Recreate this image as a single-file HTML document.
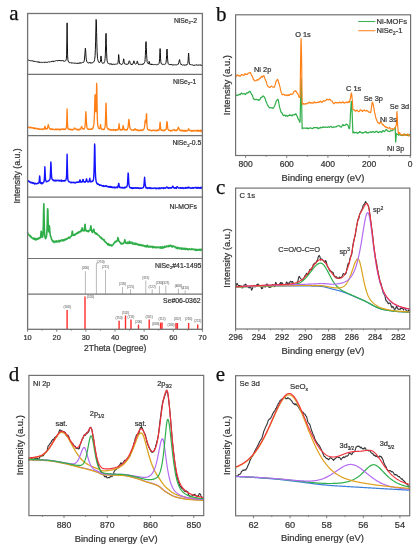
<!DOCTYPE html>
<html><head><meta charset="utf-8"><style>
html,body{margin:0;padding:0;background:#fff;}
svg{display:block;} text{filter:grayscale(1);}
</style></head><body>
<svg width="417" height="550" viewBox="0 0 417 550">
<rect x="0" y="0" width="417" height="550" fill="#fff"/>
<polyline points="27.6,59.99 27.85,60.14 28.1,60.06 28.35,59.97 28.6,60.14 28.85,60.07 29.1,60.4 29.35,60.78 29.6,60.38 29.85,60.41 30.1,60.75 30.35,60.78 30.6,60.77 30.85,60.57 31.1,60.85 31.35,61.09 31.6,60.63 31.85,60.91 32.1,60.6 32.35,60.8 32.6,60.72 32.85,61.17 33.1,60.96 33.35,61.39 33.6,61.41 33.85,61.37 34.1,60.83 34.35,61.37 34.6,61.54 34.85,61.62 35.1,61.25 35.35,61.56 35.6,61.47 35.85,61.55 36.1,62.05 36.35,61.62 36.6,61.85 36.85,62.12 37.1,61.78 37.35,61.93 37.6,62.02 37.85,62.04 38.1,61.74 38.35,62.1 38.6,62.44 38.85,61.74 39.1,62.37 39.35,62.21 39.6,62.04 39.85,62.72 40.1,62.43 40.35,61.96 40.6,62.29 40.85,62.43 41.1,62.26 41.35,62.49 41.6,62.31 41.85,62.51 42.1,62.71 42.35,62.19 42.6,62.42 42.85,62.26 43.1,62.41 43.35,62.09 43.6,62.24 43.85,62.34 44.1,62.61 44.35,62.67 44.6,62.05 44.85,62.18 45.1,62.53 45.35,61.86 45.6,62.23 45.85,62.3 46.1,62.63 46.35,62.47 46.6,62.19 46.85,62.16 47.1,62.17 47.35,62.59 47.6,62.07 47.85,62.08 48.1,62.21 48.35,62.06 48.6,62.02 48.85,61.75 49.1,62 49.35,61.86 49.6,62.22 49.85,62.06 50.1,61.86 50.35,61.99 50.6,61.7 50.85,62.01 51.1,61.71 51.35,61.82 51.6,61.31 51.85,61.69 52.1,61.14 52.35,61.01 52.6,61.41 52.85,61.22 53.1,61.45 53.35,61.93 53.6,61.12 53.85,61.13 54.1,61.3 54.35,61.34 54.6,61.14 54.85,61.09 55.1,61.28 55.35,61.2 55.6,60.78 55.85,60.99 56.1,60.99 56.35,60.68 56.6,60.98 56.85,60.67 57.1,61.1 57.35,60.88 57.6,60.83 57.85,60.64 58.1,60.73 58.35,60.24 58.6,60.44 58.85,60.8 59.1,60.16 59.35,60.89 59.6,60.23 59.85,60.85 60.1,60.44 60.35,60.84 60.6,60.67 60.85,60.25 61.1,60.96 61.35,61.02 61.6,60.67 61.85,60.64 62.1,60.7 62.35,60.53 62.6,61.08 62.85,60.71 63.1,60.87 63.35,60.72 63.6,60.79 63.85,60.65 64.1,61.3 64.35,60.97 64.6,61.26 64.85,61.02 65.1,60.83 65.35,60.87 65.6,60.69 65.85,60.58 66.1,59.97 66.35,58.81 66.6,54.71 66.85,40.98 67.1,22.88 67.35,41.21 67.6,55.18 67.85,59.54 68.1,61.16 68.35,61.13 68.6,61.86 68.85,62.03 69.1,61.94 69.35,62.71 69.6,62.62 69.85,62.72 70.1,62.57 70.35,62.92 70.6,62.7 70.85,62.83 71.1,62.62 71.35,62.62 71.6,63.28 71.85,62.83 72.1,63.05 72.35,62.99 72.6,62.9 72.85,62.9 73.1,63.19 73.35,62.97 73.6,63.02 73.85,63.07 74.1,63.37 74.35,63.26 74.6,63.19 74.85,62.96 75.1,62.76 75.35,63.35 75.6,63.36 75.85,63.09 76.1,63.27 76.35,63.33 76.6,63.35 76.85,63.37 77.1,63.03 77.35,63.53 77.6,62.84 77.85,63.36 78.1,63.27 78.35,63.37 78.6,63.62 78.85,63.52 79.1,62.86 79.35,62.72 79.6,63.34 79.85,62.87 80.1,63.12 80.35,63.32 80.6,62.69 80.85,62.56 81.1,63.13 81.35,63.05 81.6,62.96 81.85,62.99 82.1,62.73 82.35,62.52 82.6,62.79 82.85,62.5 83.1,62.22 83.35,62.61 83.6,62.25 83.85,62.02 84.1,61.09 84.35,60.09 84.6,58.06 84.85,54.97 85.1,51.23 85.35,48.19 85.6,49.8 85.85,53.72 86.1,57.72 86.35,59.25 86.6,61.2 86.85,61.7 87.1,62.14 87.35,62.03 87.6,62.45 87.85,62.88 88.1,62.76 88.35,62.87 88.6,62.83 88.85,63.23 89.1,62.97 89.35,62.44 89.6,62.84 89.85,62.53 90.1,62.21 90.35,62.89 90.6,63.34 90.85,63.01 91.1,62.68 91.35,62.72 91.6,63.2 91.85,62.91 92.1,62.83 92.35,62.74 92.6,62.67 92.85,62.75 93.1,62.55 93.35,62.29 93.6,61.74 93.85,61.82 94.1,61.1 94.35,60.94 94.6,59.43 94.85,58.14 95.1,55.3 95.35,49.75 95.6,41.87 95.85,30.01 96.1,19.51 96.35,21.2 96.6,32.24 96.85,42.84 97.1,51.48 97.35,56.07 97.6,58.65 97.85,59.77 98.1,60.81 98.35,61.39 98.6,62.13 98.85,62.19 99.1,62.29 99.35,62.8 99.6,62.32 99.85,62.3 100.1,61.67 100.35,61.69 100.6,59.55 100.85,56.47 101.1,55.96 101.35,58.88 101.6,61.27 101.85,62.25 102.1,62.7 102.35,62.97 102.6,63.43 102.85,63.23 103.1,63.08 103.35,62.91 103.6,62.81 103.85,63.23 104.1,62.74 104.35,62.29 104.6,61.65 104.85,60.47 105.1,58.64 105.35,54.32 105.6,45.5 105.85,34.82 106.1,33.31 106.35,43.51 106.6,52.44 106.85,58.07 107.1,60.4 107.35,62.01 107.6,62.24 107.85,62.99 108.1,63.51 108.35,63.26 108.6,63.34 108.85,63.65 109.1,63.7 109.35,63.53 109.6,63.95 109.85,64.39 110.1,63.87 110.35,63.92 110.6,63.74 110.85,64.11 111.1,63.74 111.35,63.8 111.6,64.41 111.85,63.88 112.1,64.4 112.35,64.52 112.6,64.22 112.85,64.3 113.1,64.66 113.35,64.13 113.6,64.04 113.85,63.86 114.1,64.21 114.35,64.58 114.6,64.45 114.85,63.97 115.1,63.99 115.35,64.08 115.6,64.27 115.85,64.14 116.1,64.23 116.35,64.23 116.6,64.04 116.85,64.06 117.1,64.04 117.35,63.85 117.6,63.78 117.85,63.68 118.1,62.18 118.35,59.17 118.6,54.54 118.85,55.78 119.1,59.42 119.35,62.03 119.6,63.57 119.85,63.91 120.1,63.89 120.35,63.61 120.6,64.01 120.85,63.98 121.1,64.33 121.35,64.75 121.6,64.23 121.85,63.96 122.1,63.82 122.35,64.02 122.6,63.84 122.85,63.26 123.1,62.74 123.35,60.6 123.6,58.8 123.85,59.18 124.1,61.63 124.35,62.85 124.6,63.81 124.85,63.93 125.1,64.01 125.35,64.1 125.6,63.92 125.85,63.91 126.1,64.49 126.35,64.25 126.6,64.36 126.85,64.54 127.1,63.84 127.35,64.05 127.6,64.24 127.85,64.21 128.1,63.87 128.35,63.93 128.6,63.21 128.85,62.03 129.1,61.03 129.35,60.72 129.6,60.99 129.85,61.45 130.1,63.21 130.35,63.66 130.6,64.21 130.85,63.97 131.1,64.1 131.35,63.95 131.6,64.89 131.85,64.23 132.1,64.66 132.35,64.06 132.6,64.19 132.85,63.58 133.1,63.54 133.35,63.12 133.6,61.3 133.85,60.76 134.1,61.14 134.35,62.17 134.6,63.27 134.85,63.77 135.1,64.09 135.35,64.06 135.6,64.02 135.85,64.14 136.1,63.9 136.35,63.67 136.6,63.58 136.85,63.01 137.1,61.26 137.35,61.19 137.6,61.96 137.85,62.95 138.1,64.05 138.35,64.02 138.6,64.66 138.85,64.17 139.1,64.51 139.35,64.38 139.6,64.27 139.85,64.62 140.1,64.44 140.35,64.63 140.6,64.46 140.85,64.2 141.1,64.43 141.35,64.46 141.6,64.67 141.85,64.18 142.1,64.37 142.35,63.91 142.6,64.46 142.85,63.97 143.1,63.71 143.35,64.05 143.6,64.22 143.85,63.39 144.1,63.25 144.35,62.99 144.6,62.32 144.85,61.67 145.1,59.31 145.35,55.41 145.6,49.45 145.85,42.22 146.1,41.62 146.35,47.58 146.6,54.22 146.85,58.44 147.1,61.72 147.35,62.35 147.6,63.11 147.85,63.4 148.1,63.66 148.35,63.72 148.6,64.05 148.85,62.65 149.1,61.33 149.35,61.76 149.6,62.99 149.85,64.19 150.1,64.46 150.35,64.14 150.6,64.1 150.85,64.41 151.1,64.88 151.35,63.85 151.6,64.71 151.85,64.33 152.1,64.88 152.35,64.36 152.6,64.57 152.85,64.27 153.1,64.41 153.35,65.01 153.6,64.87 153.85,64.57 154.1,64.46 154.35,64.21 154.6,64.58 154.85,64.67 155.1,64.66 155.35,64.65 155.6,64.39 155.85,64.65 156.1,64.65 156.35,64.97 156.6,65.1 156.85,64.58 157.1,64.4 157.35,64.54 157.6,64.36 157.85,64.27 158.1,64.36 158.35,63.99 158.6,64.22 158.85,63.75 159.1,63.29 159.35,61.91 159.6,58.68 159.85,52.83 160.1,48.55 160.35,52.92 160.6,58.92 160.85,61.95 161.1,62.88 161.35,63.78 161.6,63.72 161.85,64.08 162.1,64.27 162.35,63.9 162.6,64.5 162.85,64.54 163.1,64.49 163.35,64.43 163.6,64.44 163.85,64.27 164.1,64.42 164.35,64.31 164.6,64.42 164.85,64.01 165.1,64.25 165.35,64.04 165.6,63.68 165.85,63.08 166.1,62.24 166.35,59.31 166.6,55.41 166.85,49.78 167.1,49 167.35,54.28 167.6,58.88 167.85,61.72 168.1,63.23 168.35,63.79 168.6,64.07 168.85,63.85 169.1,64.5 169.35,64.77 169.6,64.8 169.85,64.67 170.1,64.26 170.35,64.93 170.6,64.68 170.85,64.11 171.1,64.86 171.35,64.41 171.6,64.47 171.85,64.65 172.1,65.14 172.35,64.73 172.6,64.9 172.85,65.28 173.1,65.24 173.35,64.82 173.6,64.79 173.85,64.54 174.1,64.68 174.35,64.96 174.6,64.95 174.85,64.88 175.1,65.1 175.35,64.65 175.6,64.82 175.85,65.01 176.1,64.96 176.35,65.07 176.6,64.88 176.85,64.67 177.1,64.8 177.35,64.41 177.6,64.18 177.85,64.62 178.1,64.27 178.35,64.02 178.6,62.94 178.85,62.39 179.1,61.18 179.35,60.07 179.6,59.6 179.85,61.01 180.1,62.5 180.35,63.32 180.6,63.71 180.85,64.24 181.1,64.65 181.35,63.9 181.6,64.64 181.85,64.87 182.1,64.94 182.35,65.23 182.6,65.11 182.85,64.93 183.1,64.94 183.35,65.07 183.6,64.75 183.85,64.88 184.1,65.12 184.35,65.39 184.6,64.86 184.85,64.88 185.1,64.94 185.35,65.22 185.6,64.86 185.85,65.22 186.1,64.58 186.35,64.74 186.6,64.69 186.85,64.86 187.1,64.81 187.35,63.99 187.6,63.79 187.85,63.31 188.1,60.94 188.35,56.22 188.6,53.03 188.85,56.73 189.1,61.24 189.35,63.12 189.6,64.3 189.85,64.33 190.1,64.85 190.35,64.47 190.6,64.56 190.85,64.88 191.1,64.7 191.35,65.07 191.6,64.99 191.85,64.72 192.1,64.98 192.35,64.89 192.6,65.21 192.85,64.84 193.1,64.89 193.35,65.31 193.6,65.57 193.85,65.52 194.1,65.04 194.35,65.08 194.6,65.42 194.85,65.01 195.1,64.8 195.35,65.07 195.6,65.16 195.85,64.84 196.1,64.64 196.35,64.69 196.6,65.22 196.85,64.87 197.1,65.02 197.35,65.11 197.6,65.22 197.85,64.98 198.1,65.19 198.35,64.84 198.6,64.98 198.85,64.81 199.1,65.35 199.35,65.07 199.6,64.89 199.85,64.99 200.1,65.02 200.35,65.25 200.6,64.68 200.85,64.82 201.1,64.99 201.35,65.71 201.6,65.32 201.85,65.06 202.1,65.26" fill="none" stroke="#111" stroke-width="1.0" stroke-linejoin="round" stroke-linecap="round" />
<polyline points="27.6,127.51 27.85,126.99 28.1,127.01 28.35,127.45 28.6,127.33 28.85,127.42 29.1,127.18 29.35,127.84 29.6,127.84 29.85,127.61 30.1,127.69 30.35,127.06 30.6,127.78 30.85,127.62 31.1,127.83 31.35,127.94 31.6,127.74 31.85,127.45 32.1,128.01 32.35,127.78 32.6,127.94 32.85,127.91 33.1,128.03 33.35,127.58 33.6,128.51 33.85,128.31 34.1,128.57 34.35,128.83 34.6,128.38 34.85,127.97 35.1,128.24 35.35,128.2 35.6,128.42 35.85,128.6 36.1,128.12 36.35,128.74 36.6,128.31 36.85,128.8 37.1,128.73 37.35,128.71 37.6,128.8 37.85,128.72 38.1,128.73 38.35,128.49 38.6,128.93 38.85,129.42 39.1,129.48 39.35,129.33 39.6,129.2 39.85,128.87 40.1,129.42 40.35,129.06 40.6,129.07 40.85,129.03 41.1,129.14 41.35,129.01 41.6,129.11 41.85,128.86 42.1,129.04 42.35,129.7 42.6,129.11 42.85,129.06 43.1,129.24 43.35,129.27 43.6,128.77 43.85,128.94 44.1,129.08 44.35,128.51 44.6,127.41 44.85,126.36 45.1,126.57 45.35,128.12 45.6,128.56 45.85,129.25 46.1,128.44 46.35,128.76 46.6,128.76 46.85,128.95 47.1,128.73 47.35,128.54 47.6,127.1 47.85,126.63 48.1,125.21 48.35,124.73 48.6,125.87 48.85,126.7 49.1,127.34 49.35,128.35 49.6,128.39 49.85,128.78 50.1,129.15 50.35,129.2 50.6,129.57 50.85,129.16 51.1,128.85 51.35,129.07 51.6,129.05 51.85,128.99 52.1,129.42 52.35,129.16 52.6,128.84 52.85,129.52 53.1,129.32 53.35,129.45 53.6,129.39 53.85,129.53 54.1,129.38 54.35,129.69 54.6,129.49 54.85,129.49 55.1,129.5 55.35,129.03 55.6,129.36 55.85,129.34 56.1,129.46 56.35,129.07 56.6,129.82 56.85,129.44 57.1,129.12 57.35,129 57.6,129.36 57.85,129.41 58.1,129.25 58.35,129.46 58.6,129.28 58.85,129.58 59.1,129.26 59.35,129.43 59.6,129.69 59.85,130.09 60.1,129.2 60.35,129.33 60.6,129.24 60.85,129.65 61.1,129.16 61.35,129.33 61.6,129.44 61.85,129.2 62.1,129.21 62.35,129.33 62.6,128.92 62.85,129.08 63.1,129.33 63.35,129.46 63.6,129.37 63.85,128.96 64.1,129.27 64.35,129.56 64.6,129.47 64.85,129.27 65.1,129.01 65.35,129.3 65.6,128.86 65.85,128.5 66.1,128.2 66.35,127.93 66.6,125.05 66.85,117.75 67.1,108.94 67.35,117.7 67.6,124.85 67.85,127.54 68.1,129.04 68.35,129 68.6,128.9 68.85,129.14 69.1,129.34 69.35,129.62 69.6,129.24 69.85,128.96 70.1,129.35 70.35,129.44 70.6,129.48 70.85,129.8 71.1,129.55 71.35,129.68 71.6,129.21 71.85,129.7 72.1,130 72.35,129.66 72.6,129.52 72.85,129.47 73.1,129.84 73.35,129.1 73.6,129.17 73.85,129.07 74.1,128.77 74.35,128.03 74.6,127.98 74.85,128.08 75.1,128.62 75.35,128.93 75.6,128.92 75.85,129.33 76.1,129.63 76.35,129.21 76.6,129.42 76.85,129.66 77.1,129.23 77.35,129.55 77.6,129.25 77.85,129.79 78.1,130.08 78.35,130.01 78.6,129.43 78.85,129.66 79.1,129.49 79.35,129.46 79.6,129.78 79.85,129.01 80.1,129.52 80.35,129.1 80.6,129.21 80.85,128.44 81.1,127.52 81.35,126.9 81.6,126.56 81.85,126.81 82.1,127.74 82.35,128.17 82.6,128.18 82.85,129.16 83.1,129.2 83.35,129.07 83.6,129.02 83.85,129.18 84.1,128.66 84.35,128.38 84.6,128.13 84.85,127.74 85.1,125.49 85.35,122.79 85.6,116.75 85.85,111.72 86.1,114.78 86.35,120.47 86.6,124.44 86.85,126.86 87.1,128.18 87.35,128.73 87.6,128.61 87.85,129 88.1,129.2 88.35,128.94 88.6,129.25 88.85,129.19 89.1,129.09 89.35,129.11 89.6,129.25 89.85,129.24 90.1,129.07 90.35,129.08 90.6,129.43 90.85,129.17 91.1,129.28 91.35,129.29 91.6,129.05 91.85,129.36 92.1,128.45 92.35,128.69 92.6,128.18 92.85,128.43 93.1,127.98 93.35,126.49 93.6,125.83 93.85,124.67 94.1,121.84 94.35,116.82 94.6,108.87 94.85,99.68 95.1,94.54 95.35,98.59 95.6,106.94 95.85,111.6 96.1,111.75 96.35,100.8 96.6,83.44 96.85,87.32 97.1,107.17 97.35,119.25 97.6,123.67 97.85,125.62 98.1,126.49 98.35,127.52 98.6,128.07 98.85,128.49 99.1,128.39 99.35,128.78 99.6,128.51 99.85,128.2 100.1,127.31 100.35,125.26 100.6,124.55 100.85,126.91 101.1,128.33 101.35,128.91 101.6,128.87 101.85,129.46 102.1,129.16 102.35,129.41 102.6,129.1 102.85,129.39 103.1,129.38 103.35,129.13 103.6,129.68 103.85,129.17 104.1,129.37 104.35,128.94 104.6,128.18 104.85,127.63 105.1,126.56 105.35,123.32 105.6,116.18 105.85,105.25 106.1,103.15 106.35,114.11 106.6,121.76 106.85,126.19 107.1,127.45 107.35,128.17 107.6,128.71 107.85,129.11 108.1,128.86 108.35,128.92 108.6,129.19 108.85,129.02 109.1,129.35 109.35,130.04 109.6,129.41 109.85,129.87 110.1,129.4 110.35,129.84 110.6,129.7 110.85,129.79 111.1,129.96 111.35,130.27 111.6,129.89 111.85,129.89 112.1,129.62 112.35,130.02 112.6,129.82 112.85,130.1 113.1,129.89 113.35,130.34 113.6,129.42 113.85,129.84 114.1,130.14 114.35,129.84 114.6,129.73 114.85,129.87 115.1,129.59 115.35,129.97 115.6,130.55 115.85,130.22 116.1,129.66 116.35,129.71 116.6,129.82 116.85,130.16 117.1,129.69 117.35,129.69 117.6,130.04 117.85,129.97 118.1,129.53 118.35,129.05 118.6,128.08 118.85,126.17 119.1,123.74 119.35,126.53 119.6,128.31 119.85,129.45 120.1,130.09 120.35,130.05 120.6,129.53 120.85,130.07 121.1,130.16 121.35,129.69 121.6,129.62 121.85,129.79 122.1,129.35 122.35,129.95 122.6,128.53 122.85,127.58 123.1,125.66 123.35,126.06 123.6,128.25 123.85,129.33 124.1,129.58 124.35,130.05 124.6,129.3 124.85,129.86 125.1,129.7 125.35,129.91 125.6,129.92 125.85,129.61 126.1,129.65 126.35,129.95 126.6,129.77 126.85,129.41 127.1,129.94 127.35,129.76 127.6,128.4 127.85,128.06 128.1,127.21 128.35,124.53 128.6,121.49 128.85,119.36 129.1,120.25 129.35,123.17 129.6,125.68 129.85,127.74 130.1,128.45 130.35,128.98 130.6,129.1 130.85,129.58 131.1,129.49 131.35,129.77 131.6,130.14 131.85,130.03 132.1,130.1 132.35,130.1 132.6,130.04 132.85,130.01 133.1,129.98 133.35,130.24 133.6,129.77 133.85,130.33 134.1,129.9 134.35,129.5 134.6,129.22 134.85,128.8 135.1,128.97 135.35,129.1 135.6,129.95 135.85,129.72 136.1,129.48 136.35,129.94 136.6,129.66 136.85,130.17 137.1,130.47 137.35,130.38 137.6,129.89 137.85,130.04 138.1,130.68 138.35,130.32 138.6,130.25 138.85,130.51 139.1,130.86 139.35,130.57 139.6,130.28 139.85,130.33 140.1,130.39 140.35,130.08 140.6,129.96 140.85,130.23 141.1,129.96 141.35,130.17 141.6,130.19 141.85,130.73 142.1,129.9 142.35,130.04 142.6,129.98 142.85,130.06 143.1,130.12 143.35,129.61 143.6,129.35 143.85,128.85 144.1,128.53 144.35,127.98 144.6,126.28 144.85,123.66 145.1,121.19 145.35,120.19 145.6,121.57 145.85,122.53 146.1,120.84 146.35,114.28 146.6,113.76 146.85,122.36 147.1,126.13 147.35,128.34 147.6,129.18 147.85,129.4 148.1,129.52 148.35,129.86 148.6,129.99 148.85,130.05 149.1,129.66 149.35,130.15 149.6,130.01 149.85,130.12 150.1,130.34 150.35,130.46 150.6,130.55 150.85,130.22 151.1,130.58 151.35,130.66 151.6,130.66 151.85,130.73 152.1,130.36 152.35,130.36 152.6,130.62 152.85,130.08 153.1,130.47 153.35,130.29 153.6,130.34 153.85,130 154.1,130.22 154.35,130.44 154.6,130.67 154.85,130.69 155.1,130.43 155.35,130.4 155.6,130.24 155.85,130.55 156.1,130.38 156.35,130.59 156.6,130.87 156.85,130.42 157.1,130.04 157.35,130.19 157.6,130.02 157.85,130.06 158.1,130.65 158.35,130.33 158.6,129.81 158.85,130.23 159.1,130.14 159.35,129.19 159.6,127.64 159.85,124.61 160.1,122.11 160.35,124.85 160.6,128.11 160.85,129.58 161.1,130.13 161.35,130.41 161.6,130.36 161.85,129.89 162.1,130.29 162.35,130.44 162.6,130.28 162.85,130.62 163.1,130.31 163.35,130.17 163.6,130.76 163.85,130.56 164.1,130.43 164.35,130.58 164.6,130.58 164.85,130.35 165.1,129.58 165.35,129.92 165.6,129.8 165.85,129.37 166.1,129.03 166.35,127.91 166.6,124.92 166.85,121.53 167.1,121.86 167.35,124.28 167.6,126.9 167.85,128.86 168.1,129.65 168.35,129.72 168.6,130.29 168.85,130.09 169.1,130.06 169.35,130.4 169.6,130.59 169.85,130.27 170.1,130.53 170.35,130.44 170.6,131.19 170.85,130.31 171.1,130.84 171.35,130.48 171.6,130.46 171.85,130.67 172.1,130.69 172.35,130.75 172.6,130.46 172.85,130.11 173.1,129.93 173.35,129.89 173.6,129.57 173.85,129.66 174.1,129.65 174.35,130.15 174.6,130.52 174.85,130.34 175.1,130.01 175.35,130.12 175.6,130.07 175.85,130.82 176.1,130.19 176.35,130.67 176.6,130.44 176.85,130.61 177.1,130.24 177.35,129.65 177.6,129.14 177.85,128.56 178.1,127.86 178.35,127.24 178.6,127.58 178.85,128.66 179.1,128.54 179.35,129.6 179.6,129.69 179.85,130.21 180.1,130.53 180.35,130.39 180.6,130.66 180.85,130.11 181.1,130.82 181.35,130.42 181.6,130.74 181.85,130.65 182.1,129.97 182.35,130.44 182.6,130.7 182.85,131.04 183.1,130.73 183.35,130.73 183.6,130.31 183.85,131.03 184.1,131.13 184.35,130.69 184.6,130.63 184.85,130.28 185.1,130.91 185.35,131.37 185.6,130.87 185.85,131.01 186.1,130.83 186.35,130.44 186.6,131.02 186.85,130.37 187.1,130.61 187.35,130.72 187.6,130.83 187.85,130.62 188.1,130.35 188.35,129.41 188.6,128.66 188.85,129.62 189.1,130.08 189.35,130.2 189.6,130.31 189.85,130.54 190.1,130.23 190.35,130.37 190.6,130.31 190.85,130.77 191.1,130.83 191.35,131.24 191.6,130.36 191.85,130.57 192.1,130.97 192.35,130.69 192.6,130.67 192.85,131.18 193.1,130.67 193.35,130.47 193.6,130.43 193.85,130.84 194.1,130.84 194.35,130.42 194.6,130.52 194.85,130.9 195.1,130.91 195.35,130.61 195.6,130.92 195.85,130.91 196.1,130.33 196.35,130.69 196.6,130.88 196.85,130.63 197.1,130.24 197.35,130.71 197.6,130.97 197.85,131.17 198.1,130.23 198.35,131.43 198.6,130.5 198.85,131.02 199.1,131.09 199.35,131.03 199.6,130.82 199.85,130.49 200.1,130.94 200.35,130.61 200.6,130.16 200.85,131.5 201.1,130.97 201.35,131.24 201.6,130.56 201.85,131.16 202.1,131.19" fill="none" stroke="#ff7f14" stroke-width="1.3" stroke-linejoin="round" stroke-linecap="round" />
<polyline points="27.6,181.27 27.85,181.01 28.1,180.84 28.35,181.22 28.6,180.84 28.85,181.08 29.1,181.65 29.35,181.5 29.6,181.82 29.85,181.94 30.1,182.56 30.35,182.51 30.6,182.27 30.85,182.68 31.1,182.28 31.35,182.49 31.6,182.89 31.85,182.44 32.1,182.76 32.35,182.58 32.6,183.02 32.85,183.47 33.1,182.94 33.35,183.25 33.6,183.03 33.85,183.02 34.1,183.05 34.35,183.77 34.6,184.04 34.85,183.61 35.1,183.35 35.35,183.73 35.6,183.49 35.85,183.8 36.1,183.68 36.35,183.68 36.6,183.77 36.85,183.46 37.1,183.49 37.35,183.14 37.6,183.44 37.85,183.16 38.1,183.42 38.35,183.14 38.6,183.27 38.85,183.11 39.1,182 39.35,180.09 39.6,175.98 39.85,177.18 40.1,181.27 40.35,182.68 40.6,182.86 40.85,183.49 41.1,182.83 41.35,183.62 41.6,183.09 41.85,182.55 42.1,183.89 42.35,183.58 42.6,182.86 42.85,183.07 43.1,182.85 43.35,182.75 43.6,182.1 43.85,181.9 44.1,181.41 44.35,179.28 44.6,174.18 44.85,166.8 45.1,171.14 45.35,177.07 45.6,180.24 45.85,180.62 46.1,181.11 46.35,181.87 46.6,181.33 46.85,181.67 47.1,181.46 47.35,181.14 47.6,181.21 47.85,181.06 48.1,180.95 48.35,181.12 48.6,180.95 48.85,180.46 49.1,180.17 49.35,180.19 49.6,179.72 49.85,179.38 50.1,178.48 50.35,174.91 50.6,168.44 50.85,161.89 51.1,165.07 51.35,172.24 51.6,176.41 51.85,178.34 52.1,179.08 52.35,179.76 52.6,179.7 52.85,179.91 53.1,179.76 53.35,180.56 53.6,180.33 53.85,180.7 54.1,180.49 54.35,180.69 54.6,180.28 54.85,180.55 55.1,181.06 55.35,180.1 55.6,180.72 55.85,180.86 56.1,180.56 56.35,180.65 56.6,180.8 56.85,180.32 57.1,180.6 57.35,180.29 57.6,180.35 57.85,180.38 58.1,180.51 58.35,180.59 58.6,180.68 58.85,180.22 59.1,181.1 59.35,180.9 59.6,180.8 59.85,180.53 60.1,180.61 60.35,180.79 60.6,180.76 60.85,180.24 61.1,180.87 61.35,181.44 61.6,180.23 61.85,180.96 62.1,180.81 62.35,180.7 62.6,181.08 62.85,180.44 63.1,180.79 63.35,181.12 63.6,180.69 63.85,180.63 64.1,180.76 64.35,180.6 64.6,181.08 64.85,180.41 65.1,180.8 65.35,180.16 65.6,180.51 65.85,180.06 66.1,178.95 66.35,178.54 66.6,174.87 66.85,164.98 67.1,154.27 67.35,164.95 67.6,175.16 67.85,179.35 68.1,180.22 68.35,181.19 68.6,181.25 68.85,181.2 69.1,181.61 69.35,182.1 69.6,182.16 69.85,182.03 70.1,182.14 70.35,182.19 70.6,182.14 70.85,182.85 71.1,182.41 71.35,182.16 71.6,182.36 71.85,182.69 72.1,182.67 72.35,182.48 72.6,182.34 72.85,182.52 73.1,182.09 73.35,182.18 73.6,182.72 73.85,182.39 74.1,182.61 74.35,182.82 74.6,182.67 74.85,182.5 75.1,183.04 75.35,182.65 75.6,182.38 75.85,182.65 76.1,182.56 76.35,182.22 76.6,182.45 76.85,182.38 77.1,181.9 77.35,182.35 77.6,182.3 77.85,182.24 78.1,181.91 78.35,182.21 78.6,182.25 78.85,182.22 79.1,181.8 79.35,182.02 79.6,180.88 79.85,179.84 80.1,179.98 80.35,180.75 80.6,181.56 80.85,182.22 81.1,181.92 81.35,181.97 81.6,182.09 81.85,182.26 82.1,181.34 82.35,181.48 82.6,180.81 82.85,179.56 83.1,179.38 83.35,180.61 83.6,181.62 83.85,181.56 84.1,181.9 84.35,182 84.6,181.71 84.85,181.91 85.1,182.26 85.35,181.86 85.6,181.5 85.85,181.36 86.1,180.32 86.35,179.01 86.6,178.85 86.85,180.04 87.1,181.15 87.35,181.81 87.6,181.51 87.85,181.72 88.1,181.42 88.35,181.45 88.6,181.48 88.85,182.05 89.1,181.18 89.35,180.48 89.6,179 89.85,178.24 90.1,179.93 90.35,180.93 90.6,181.81 90.85,181.49 91.1,181.86 91.35,181.6 91.6,181.69 91.85,181.16 92.1,181.45 92.35,181.37 92.6,181.18 92.85,180.46 93.1,180.82 93.35,179.8 93.6,178.42 93.85,175.42 94.1,168.82 94.35,157.19 94.6,144.01 94.85,146.15 95.1,160.25 95.35,171.2 95.6,177 95.85,179.74 96.1,181.06 96.35,182.08 96.6,182.96 96.85,182.82 97.1,183.81 97.35,183.92 97.6,183.83 97.85,184.35 98.1,183.97 98.35,184.08 98.6,184.34 98.85,184.7 99.1,184.84 99.35,184.91 99.6,185.16 99.85,184.69 100.1,185.42 100.35,185.02 100.6,185.27 100.85,185.4 101.1,185.28 101.35,185.28 101.6,185.43 101.85,185.74 102.1,185.94 102.35,185.99 102.6,185.65 102.85,185.75 103.1,185.77 103.35,186.15 103.6,185.57 103.85,186.43 104.1,186.04 104.35,185.99 104.6,186.29 104.85,186.45 105.1,186.22 105.35,186.24 105.6,185.74 105.85,185.71 106.1,185.71 106.35,185.73 106.6,186.48 106.85,186.42 107.1,186.56 107.35,186.4 107.6,186.62 107.85,186.94 108.1,186.47 108.35,187 108.6,186.96 108.85,186.98 109.1,186.39 109.35,186.95 109.6,187.17 109.85,186.85 110.1,187.09 110.35,186.5 110.6,187.29 110.85,186.98 111.1,187.39 111.35,186.73 111.6,187.39 111.85,187.18 112.1,187.46 112.35,187.05 112.6,187.15 112.85,187.88 113.1,187.13 113.35,187.18 113.6,187.3 113.85,187.13 114.1,187.69 114.35,187.84 114.6,187.24 114.85,187 115.1,187.73 115.35,187.72 115.6,187.65 115.85,187.74 116.1,187.24 116.35,187.41 116.6,187.1 116.85,187.07 117.1,187.64 117.35,187.18 117.6,187.82 117.85,187.06 118.1,186.3 118.35,185.25 118.6,183.43 118.85,183.47 119.1,185.14 119.35,186.77 119.6,187.51 119.85,187.24 120.1,187.28 120.35,187.79 120.6,187.62 120.85,187.34 121.1,187.54 121.35,187.47 121.6,187.75 121.85,187.72 122.1,187.99 122.35,187.89 122.6,187.33 122.85,187.83 123.1,187.95 123.35,187.85 123.6,187.99 123.85,187.59 124.1,187.49 124.35,187.95 124.6,187.44 124.85,187.15 125.1,187.92 125.35,187.45 125.6,187.51 125.85,187.18 126.1,187.11 126.35,187.03 126.6,187.03 126.85,186.91 127.1,185.68 127.35,185.23 127.6,182.14 127.85,177.56 128.1,173.01 128.35,173.58 128.6,178.53 128.85,183.61 129.1,185.2 129.35,186.53 129.6,187.03 129.85,187.62 130.1,187.34 130.35,187.84 130.6,187.5 130.85,188.04 131.1,187.62 131.35,187.77 131.6,188.37 131.85,188 132.1,187.98 132.35,188.53 132.6,188.08 132.85,187.8 133.1,188.21 133.35,187.74 133.6,188.33 133.85,188.36 134.1,187.92 134.35,187.92 134.6,188.13 134.85,188.09 135.1,187.85 135.35,188.24 135.6,187.6 135.85,188 136.1,188.01 136.35,188.05 136.6,188.2 136.85,187.82 137.1,188.27 137.35,188.08 137.6,187.97 137.85,187.79 138.1,187.83 138.35,188.22 138.6,187.89 138.85,188.14 139.1,188.39 139.35,188.38 139.6,188.5 139.85,188.03 140.1,187.83 140.35,188.35 140.6,188.16 140.85,188.35 141.1,188.06 141.35,188.33 141.6,188.22 141.85,188.16 142.1,188.07 142.35,187.99 142.6,187.87 142.85,187.76 143.1,187.79 143.35,187.15 143.6,187.19 143.85,185.59 144.1,183.55 144.35,179.7 144.6,177.32 144.85,180.23 145.1,183.22 145.35,185.29 145.6,186.58 145.85,187.2 146.1,188.09 146.35,187.76 146.6,188.05 146.85,187.64 147.1,188.03 147.35,188.15 147.6,188.47 147.85,187.87 148.1,188.21 148.35,188.15 148.6,187.84 148.85,188.1 149.1,188.05 149.35,187.54 149.6,188.28 149.85,188.27 150.1,188.03 150.35,187.81 150.6,188.51 150.85,188.21 151.1,188.4 151.35,188.51 151.6,188.02 151.85,188.36 152.1,188.1 152.35,188.14 152.6,188.14 152.85,188.16 153.1,188.44 153.35,188.2 153.6,188.13 153.85,188.1 154.1,188.25 154.35,187.94 154.6,188.04 154.85,188.16 155.1,188.03 155.35,188.14 155.6,188.02 155.85,188.67 156.1,188.5 156.35,188.28 156.6,188.16 156.85,188.72 157.1,188.25 157.35,188.15 157.6,188.24 157.85,188.24 158.1,188.52 158.35,188.16 158.6,188.69 158.85,187.95 159.1,188.34 159.35,187.91 159.6,188.62 159.85,188.08 160.1,188.15 160.35,188.39 160.6,188.47 160.85,187.88 161.1,188.07 161.35,187.81 161.6,188.19 161.85,188.13 162.1,188.06 162.35,187.98 162.6,188.05 162.85,187.96 163.1,188.27 163.35,188.52 163.6,187.65 163.85,188.1 164.1,188.02 164.35,188.24 164.6,187.87 164.85,188.06 165.1,187.82 165.35,188.23 165.6,188.04 165.85,187.91 166.1,187.92 166.35,187.56 166.6,186.94 166.85,187.19 167.1,187.08 167.35,187.22 167.6,187.81 167.85,188.09 168.1,187.64 168.35,187.79 168.6,188.41 168.85,188.39 169.1,187.86 169.35,187.76 169.6,187.89 169.85,187.93 170.1,187.65 170.35,188.04 170.6,187.7 170.85,187.69 171.1,188.18 171.35,187.72 171.6,187.76 171.85,187.72 172.1,187.41 172.35,186.65 172.6,186.33 172.85,186.17 173.1,187.26 173.35,187.44 173.6,187.32 173.85,187.78 174.1,188.06 174.35,188.05 174.6,188.42 174.85,188.32 175.1,187.84 175.35,187.95 175.6,187.64 175.85,187.99 176.1,187.91 176.35,188.42 176.6,187.54 176.85,186.63 177.1,186.64 177.35,186.89 177.6,186.92 177.85,187.36 178.1,187.69 178.35,187.98 178.6,187.91 178.85,187.76 179.1,188.19 179.35,187.87 179.6,187.89 179.85,187.68 180.1,187.83 180.35,188.19 180.6,187.62 180.85,188.01 181.1,188.21 181.35,187.93 181.6,188.09 181.85,187.75 182.1,188.35 182.35,188.3 182.6,188.08 182.85,187.58 183.1,187.75 183.35,188.26 183.6,188.44 183.85,188.08 184.1,188.32 184.35,187.85 184.6,187.95 184.85,187.99 185.1,188.1 185.35,187.6 185.6,188.22 185.85,188.31 186.1,187.68 186.35,187.62 186.6,188.04 186.85,187.78 187.1,187.33 187.35,188.1 187.6,187.89 187.85,187.65 188.1,188.14 188.35,187.45 188.6,187.1 188.85,187.43 189.1,187.34 189.35,187.55 189.6,187.92 189.85,187.73 190.1,187.77 190.35,188.31 190.6,188.11 190.85,188.1 191.1,188.03 191.35,188.02 191.6,188.26 191.85,187.89 192.1,188.36 192.35,187.65 192.6,187.82 192.85,187.54 193.1,187.79 193.35,188.01 193.6,188.23 193.85,187.7 194.1,187.87 194.35,187.77 194.6,187.67 194.85,187.55 195.1,187.86 195.35,187.41 195.6,187.87 195.85,187.84 196.1,187.66 196.35,187.57 196.6,187.47 196.85,188.28 197.1,187.47 197.35,188.19 197.6,187.95 197.85,187.7 198.1,187.5 198.35,188.05 198.6,188.21 198.85,187.54 199.1,187.69 199.35,188.03 199.6,187.84 199.85,188.25 200.1,187.6 200.35,187.88 200.6,187.42 200.85,188.25 201.1,187.54 201.35,187.17 201.6,187.68 201.85,187.67 202.1,188.18" fill="none" stroke="#1414ff" stroke-width="1.4" stroke-linejoin="round" stroke-linecap="round" />
<polyline points="27.6,232.75 27.85,233.21 28.1,233.77 28.35,234.45 28.6,234.2 28.85,234.91 29.1,235.03 29.35,235.05 29.6,235.47 29.85,235.73 30.1,235.68 30.35,236.69 30.6,236.03 30.85,237.17 31.1,237.32 31.35,237.18 31.6,237.15 31.85,237.54 32.1,237.98 32.35,238.25 32.6,238.26 32.85,238.66 33.1,238.26 33.35,238.67 33.6,238.16 33.85,239.08 34.1,238.96 34.35,238.84 34.6,239.46 34.85,239.35 35.1,238.16 35.35,239.19 35.6,238.67 35.85,239.55 36.1,240.03 36.35,238.95 36.6,239.11 36.85,238.93 37.1,239.07 37.35,239.1 37.6,239.24 37.85,238.36 38.1,239.16 38.35,238.19 38.6,238.52 38.85,238.73 39.1,238.48 39.35,237.8 39.6,237.77 39.85,237.72 40.1,237.69 40.35,237.8 40.6,236.18 40.85,234.7 41.1,231.24 41.35,231.84 41.6,235.18 41.85,237.18 42.1,237.23 42.35,237.26 42.6,236.66 42.85,235.84 43.1,231.27 43.35,224.42 43.6,210.15 43.85,203.75 44.1,216.01 44.35,227.63 44.6,234.04 44.85,236.3 45.1,237.72 45.35,237.51 45.6,238.7 45.85,238.19 46.1,237.62 46.35,236.73 46.6,235.4 46.85,232.67 47.1,227.59 47.35,218.64 47.6,208.72 47.85,209.42 48.1,219.67 48.35,227.09 48.6,231 48.85,231.89 49.1,229.12 49.35,225.92 49.6,227.45 49.85,231.4 50.1,233.64 50.35,235.69 50.6,235.96 50.85,236.95 51.1,237.41 51.35,238.35 51.6,239.5 51.85,239.43 52.1,240.15 52.35,240.52 52.6,241.53 52.85,241.15 53.1,241.23 53.35,241.16 53.6,241.17 53.85,241.84 54.1,242.58 54.35,241.33 54.6,242 54.85,241.75 55.1,241.26 55.35,241.53 55.6,241.53 55.85,241.34 56.1,242.23 56.35,240.86 56.6,241.63 56.85,241.58 57.1,241.23 57.35,241.45 57.6,241.66 57.85,241.37 58.1,241.42 58.35,241.47 58.6,240.48 58.85,241.66 59.1,241.9 59.35,241.4 59.6,241.37 59.85,240.47 60.1,240.88 60.35,240.59 60.6,240.62 60.85,241.11 61.1,240.43 61.35,240.6 61.6,239.92 61.85,240.46 62.1,240.48 62.35,240.13 62.6,240.05 62.85,240.88 63.1,239.72 63.35,239.69 63.6,239.69 63.85,240.31 64.1,240.53 64.35,239.82 64.6,239.36 64.85,239.36 65.1,239.79 65.35,239 65.6,239.72 65.85,239.61 66.1,239.03 66.35,239.12 66.6,239.05 66.85,239.22 67.1,238.2 67.35,238.87 67.6,238.21 67.85,237.96 68.1,238.15 68.35,237.92 68.6,237.53 68.85,237.2 69.1,237.31 69.35,238.02 69.6,238.07 69.85,237.49 70.1,237.54 70.35,236.81 70.6,236.81 70.85,236.77 71.1,236.1 71.35,235.88 71.6,235.81 71.85,234.58 72.1,232.04 72.35,231.19 72.6,233.09 72.85,235.09 73.1,235.23 73.35,235.21 73.6,235.32 73.85,235.13 74.1,234.84 74.35,234.8 74.6,235.06 74.85,234.87 75.1,234.94 75.35,233.74 75.6,234.03 75.85,233.86 76.1,233.91 76.35,233.53 76.6,233.34 76.85,233.64 77.1,233.28 77.35,232.65 77.6,233.38 77.85,233.13 78.1,232.44 78.35,232.81 78.6,232.14 78.85,232.68 79.1,232.1 79.35,231.8 79.6,231.86 79.85,231.65 80.1,231.91 80.35,231.82 80.6,231.68 80.85,231.36 81.1,230.12 81.35,231.15 81.6,229.85 81.85,229.35 82.1,228.06 82.35,227.95 82.6,229.26 82.85,230.32 83.1,230.72 83.35,230.68 83.6,230.65 83.85,230.43 84.1,230.95 84.35,229.94 84.6,228.59 84.85,224.84 85.1,224.31 85.35,227.58 85.6,229.8 85.85,230.63 86.1,230.67 86.35,230.47 86.6,230.49 86.85,231.38 87.1,230.73 87.35,230.73 87.6,231.35 87.85,231.22 88.1,231.03 88.35,230.7 88.6,231.66 88.85,230.97 89.1,231.01 89.35,230.73 89.6,230.23 89.85,230.1 90.1,230.27 90.35,229.16 90.6,227.01 90.85,225.82 91.1,227.57 91.35,229.73 91.6,230.25 91.85,231.49 92.1,231.8 92.35,232.53 92.6,231.95 92.85,231.48 93.1,231.3 93.35,229.91 93.6,229.66 93.85,229.15 94.1,231.08 94.35,232.13 94.6,232.64 94.85,232.77 95.1,233.12 95.35,233.55 95.6,232.82 95.85,233.17 96.1,232.98 96.35,234.19 96.6,234.25 96.85,234.25 97.1,233.77 97.35,234.47 97.6,234.55 97.85,234.9 98.1,235.03 98.35,235.49 98.6,235.29 98.85,235.71 99.1,235.7 99.35,236.02 99.6,236.47 99.85,236.64 100.1,237.3 100.35,237.14 100.6,237.56 100.85,237.55 101.1,237.39 101.35,238.46 101.6,238.01 101.85,238.85 102.1,238.99 102.35,238.5 102.6,238.99 102.85,239.36 103.1,239.47 103.35,239.49 103.6,240.12 103.85,239.46 104.1,239.82 104.35,240.36 104.6,241.21 104.85,241.2 105.1,241.74 105.35,242.21 105.6,242.27 105.85,242.33 106.1,242.33 106.35,242.99 106.6,243.27 106.85,243.26 107.1,243.28 107.35,243.93 107.6,244.79 107.85,243.99 108.1,244.38 108.35,244.55 108.6,243.67 108.85,244.74 109.1,244.58 109.35,245.42 109.6,244.95 109.85,244.86 110.1,245.13 110.35,245.32 110.6,245.12 110.85,245.33 111.1,244.89 111.35,245.29 111.6,245.6 111.85,245.91 112.1,245.33 112.35,244.99 112.6,245.09 112.85,244.79 113.1,244.75 113.35,244.28 113.6,243.58 113.85,243.45 114.1,243.16 114.35,242.97 114.6,242.72 114.85,242.21 115.1,241.6 115.35,241.97 115.6,241.35 115.85,241.93 116.1,241.75 116.35,240.99 116.6,241.6 116.85,241.36 117.1,240.62 117.35,240.45 117.6,239.52 117.85,237.48 118.1,238.15 118.35,238.84 118.6,239.93 118.85,240.99 119.1,241.04 119.35,241.54 119.6,241.83 119.85,242.17 120.1,242.7 120.35,242.5 120.6,242.89 120.85,243.68 121.1,243.63 121.35,243.92 121.6,243.21 121.85,243.62 122.1,243.67 122.35,243.81 122.6,243.5 122.85,243.91 123.1,243.42 123.35,243.28 123.6,243.09 123.85,243.09 124.1,242.26 124.35,241.98 124.6,240.4 124.85,239.67 125.1,240.8 125.35,242.08 125.6,242.81 125.85,243.01 126.1,242.91 126.35,243.14 126.6,242.9 126.85,243.32 127.1,242.89 127.35,242.18 127.6,243.38 127.85,242.94 128.1,242.48 128.35,242.8 128.6,242.51 128.85,243.42 129.1,242.56 129.35,241.37 129.6,242.03 129.85,242.16 130.1,243.32 130.35,242.45 130.6,242.1 130.85,242.95 131.1,242.83 131.35,242.84 131.6,242.26 131.85,243.2 132.1,243.67 132.35,242.45 132.6,243.58 132.85,243.01 133.1,244.08 133.35,243.47 133.6,243.31 133.85,243.82 134.1,243.67 134.35,243.35 134.6,243.87 134.85,243.51 135.1,243.13 135.35,244.53 135.6,243.77 135.85,243.75 136.1,244.15 136.35,243.56 136.6,243.7 136.85,244.07 137.1,244.14 137.35,244.41 137.6,244.85 137.85,244.36 138.1,244.76 138.35,244.86 138.6,244.33 138.85,244.85 139.1,244.49 139.35,245.25 139.6,245.08 139.85,244.97 140.1,244.54 140.35,245.09 140.6,244.82 140.85,245.38 141.1,245.13 141.35,244.93 141.6,245.58 141.85,245.55 142.1,245.14 142.35,245.79 142.6,245.32 142.85,245.36 143.1,245.56 143.35,245.29 143.6,245.45 143.85,245.59 144.1,246.22 144.35,246.25 144.6,245.68 144.85,246.38 145.1,245.84 145.35,246.03 145.6,246.25 145.85,246.09 146.1,246.87 146.35,246.16 146.6,245.69 146.85,246.61 147.1,246.05 147.35,246.13 147.6,245.23 147.85,246.67 148.1,246.64 148.35,246.68 148.6,246.78 148.85,247.07 149.1,246.5 149.35,246.88 149.6,246.33 149.85,246.51 150.1,247.04 150.35,246.84 150.6,246.27 150.85,246.9 151.1,246.74 151.35,246.56 151.6,247.03 151.85,246.77 152.1,246.39 152.35,246.58 152.6,247.62 152.85,246.5 153.1,247.14 153.35,247.3 153.6,247.34 153.85,246.72 154.1,247.06 154.35,247.25 154.6,247.5 154.85,247.02 155.1,246.86 155.35,247.64 155.6,247.7 155.85,247.46 156.1,247.14 156.35,247.51 156.6,247.42 156.85,247.69 157.1,246.98 157.35,247.47 157.6,247.38 157.85,247.06 158.1,247.54 158.35,247.48 158.6,247.33 158.85,247.62 159.1,246.99 159.35,247.47 159.6,247.65 159.85,247.6 160.1,247.87 160.35,247.07 160.6,246.95 160.85,247.55 161.1,247.6 161.35,248.16 161.6,247.61 161.85,247.05 162.1,247.6 162.35,246.98 162.6,246.71 162.85,248.1 163.1,247.25 163.35,247.33 163.6,247.23 163.85,247.61 164.1,247.01 164.35,247.28 164.6,246.44 164.85,246.25 165.1,247.17 165.35,247.13 165.6,246.73 165.85,246.57 166.1,246.49 166.35,246.13 166.6,246.85 166.85,246.49 167.1,246.38 167.35,246.28 167.6,246.47 167.85,246.23 168.1,246.27 168.35,245.56 168.6,246.11 168.85,246.67 169.1,245.69 169.35,245.8 169.6,246.14 169.85,246.15 170.1,246.02 170.35,245.23 170.6,245.98 170.85,245.4 171.1,245.55 171.35,246.07 171.6,245.82 171.85,246.26 172.1,247.14 172.35,246.38 172.6,246.44 172.85,245.96 173.1,246.14 173.35,246.08 173.6,246.36 173.85,246.27 174.1,246.52 174.35,246.78 174.6,246.61 174.85,246.57 175.1,246.69 175.35,247.43 175.6,247.4 175.85,247.84 176.1,247.94 176.35,247.55 176.6,247.99 176.85,247.34 177.1,248.72 177.35,248.41 177.6,247.98 177.85,247.7 178.1,248.29 178.35,247.54 178.6,247.95 178.85,248.52 179.1,248.31 179.35,248.14 179.6,248.68 179.85,248.01 180.1,248.5 180.35,248.26 180.6,248.16 180.85,248.65 181.1,248.17 181.35,249.21 181.6,248.37 181.85,249.29 182.1,248.24 182.35,248.86 182.6,248.26 182.85,248.24 183.1,248.79 183.35,248.99 183.6,248.34 183.85,249.22 184.1,248.55 184.35,248.9 184.6,249.02 184.85,249.11 185.1,248.3 185.35,249.52 185.6,249.17 185.85,248.85 186.1,248.66 186.35,248.45 186.6,248.59 186.85,249.28 187.1,248.99 187.35,248.74 187.6,248.97 187.85,249.72 188.1,249.08 188.35,249.01 188.6,249.71 188.85,249.42 189.1,249.29 189.35,249.08 189.6,248.77 189.85,248.92 190.1,249.18 190.35,249.29 190.6,249.51 190.85,249.59 191.1,249.49 191.35,249.51 191.6,249.1 191.85,248.71 192.1,249.3 192.35,249.16 192.6,249.28 192.85,249.43 193.1,249.1 193.35,249.16 193.6,249.53 193.85,249.62 194.1,249.36 194.35,249.78 194.6,249.54 194.85,249.27 195.1,249.65 195.35,250.31 195.6,249.42 195.85,250.08 196.1,250.16 196.35,250.21 196.6,249.41 196.85,250.41 197.1,249.75 197.35,249.63 197.6,249.65 197.85,249.95 198.1,249.76 198.35,249.69 198.6,250.2 198.85,249.51 199.1,249.4 199.35,250.05 199.6,250.02 199.85,250.16 200.1,249.41 200.35,250.17 200.6,249.96 200.85,250.41 201.1,249.36 201.35,249.87 201.6,249.7 201.85,249.24 202.1,249.55" fill="none" stroke="#2fae4a" stroke-width="1.6" stroke-linejoin="round" stroke-linecap="round" />
<line x1="85.4" y1="271.2" x2="85.4" y2="294.2" stroke="#a8a8a8" stroke-width="0.8"/>
<text x="85.4" y="269.2" font-family="&quot;Liberation Sans&quot;, sans-serif" font-size="3.1" fill="#7a7a7a" stroke="#7a7a7a" stroke-width="0.1" text-anchor="middle" >(200)</text>
<line x1="96.4" y1="262.6" x2="96.4" y2="294.2" stroke="#a8a8a8" stroke-width="0.8"/>
<text x="97.2" y="262.6" font-family="&quot;Liberation Sans&quot;, sans-serif" font-size="3.1" fill="#7a7a7a" stroke="#7a7a7a" stroke-width="0.1" text-anchor="start" >(210)</text>
<line x1="105.5" y1="270.1" x2="105.5" y2="294.2" stroke="#a8a8a8" stroke-width="0.8"/>
<text x="105.5" y="268.3" font-family="&quot;Liberation Sans&quot;, sans-serif" font-size="3.1" fill="#7a7a7a" stroke="#7a7a7a" stroke-width="0.1" text-anchor="middle" >(211)</text>
<line x1="122.5" y1="286.9" x2="122.5" y2="294.2" stroke="#a8a8a8" stroke-width="0.8"/>
<text x="122.5" y="285" font-family="&quot;Liberation Sans&quot;, sans-serif" font-size="3.1" fill="#7a7a7a" stroke="#7a7a7a" stroke-width="0.1" text-anchor="middle" >(220)</text>
<line x1="130.5" y1="289.2" x2="130.5" y2="294.2" stroke="#a8a8a8" stroke-width="0.8"/>
<text x="130.5" y="288.4" font-family="&quot;Liberation Sans&quot;, sans-serif" font-size="3.1" fill="#7a7a7a" stroke="#7a7a7a" stroke-width="0.1" text-anchor="middle" >(221)</text>
<line x1="145.8" y1="280.5" x2="145.8" y2="294.2" stroke="#a8a8a8" stroke-width="0.8"/>
<text x="145.8" y="278.6" font-family="&quot;Liberation Sans&quot;, sans-serif" font-size="3.1" fill="#7a7a7a" stroke="#7a7a7a" stroke-width="0.1" text-anchor="middle" >(311)</text>
<line x1="152.2" y1="289.2" x2="152.2" y2="294.2" stroke="#a8a8a8" stroke-width="0.8"/>
<text x="152.2" y="288.2" font-family="&quot;Liberation Sans&quot;, sans-serif" font-size="3.1" fill="#7a7a7a" stroke="#7a7a7a" stroke-width="0.1" text-anchor="middle" >(222)</text>
<line x1="159.4" y1="285.8" x2="159.4" y2="294.2" stroke="#a8a8a8" stroke-width="0.8"/>
<text x="159.4" y="284.3" font-family="&quot;Liberation Sans&quot;, sans-serif" font-size="3.1" fill="#7a7a7a" stroke="#7a7a7a" stroke-width="0.1" text-anchor="middle" >(230)</text>
<line x1="165.8" y1="285.3" x2="165.8" y2="294.2" stroke="#a8a8a8" stroke-width="0.8"/>
<text x="165.8" y="283.8" font-family="&quot;Liberation Sans&quot;, sans-serif" font-size="3.1" fill="#7a7a7a" stroke="#7a7a7a" stroke-width="0.1" text-anchor="middle" >(321)</text>
<line x1="178.4" y1="288.7" x2="178.4" y2="294.2" stroke="#a8a8a8" stroke-width="0.8"/>
<text x="178.4" y="287.4" font-family="&quot;Liberation Sans&quot;, sans-serif" font-size="3.1" fill="#7a7a7a" stroke="#7a7a7a" stroke-width="0.1" text-anchor="middle" >(400)</text>
<line x1="185.2" y1="290.3" x2="185.2" y2="294.2" stroke="#a8a8a8" stroke-width="0.8"/>
<text x="185.2" y="289.2" font-family="&quot;Liberation Sans&quot;, sans-serif" font-size="3.1" fill="#7a7a7a" stroke="#7a7a7a" stroke-width="0.1" text-anchor="middle" >(410)</text>
<line x1="67.1" y1="309.9" x2="67.1" y2="329.3" stroke="#ff2a2a" stroke-width="1.4"/>
<text x="67.1" y="308.1" font-family="&quot;Liberation Sans&quot;, sans-serif" font-size="3.1" fill="#7a7a7a" stroke="#7a7a7a" stroke-width="0.1" text-anchor="middle" >(100)</text>
<line x1="85" y1="296.5" x2="85" y2="329.3" stroke="#ff2a2a" stroke-width="1.4"/>
<line x1="119.1" y1="320.8" x2="119.1" y2="329.3" stroke="#ff2a2a" stroke-width="1.4"/>
<text x="119.1" y="319.3" font-family="&quot;Liberation Sans&quot;, sans-serif" font-size="3.1" fill="#7a7a7a" stroke="#7a7a7a" stroke-width="0.1" text-anchor="middle" >(110)</text>
<line x1="125.5" y1="315.5" x2="125.5" y2="329.3" stroke="#ff2a2a" stroke-width="1.4"/>
<text x="125.5" y="313.6" font-family="&quot;Liberation Sans&quot;, sans-serif" font-size="3.1" fill="#7a7a7a" stroke="#7a7a7a" stroke-width="0.1" text-anchor="middle" >(102)</text>
<line x1="131" y1="319.6" x2="131" y2="329.3" stroke="#ff2a2a" stroke-width="1.4"/>
<text x="131" y="318.1" font-family="&quot;Liberation Sans&quot;, sans-serif" font-size="3.1" fill="#7a7a7a" stroke="#7a7a7a" stroke-width="0.1" text-anchor="middle" >(111)</text>
<line x1="138.5" y1="324.6" x2="138.5" y2="329.3" stroke="#ff2a2a" stroke-width="1.4"/>
<text x="138.5" y="322.7" font-family="&quot;Liberation Sans&quot;, sans-serif" font-size="3.1" fill="#7a7a7a" stroke="#7a7a7a" stroke-width="0.1" text-anchor="middle" >(200)</text>
<line x1="149.2" y1="319.6" x2="149.2" y2="329.3" stroke="#ff2a2a" stroke-width="1.4"/>
<text x="149.2" y="318.1" font-family="&quot;Liberation Sans&quot;, sans-serif" font-size="3.1" fill="#7a7a7a" stroke="#7a7a7a" stroke-width="0.1" text-anchor="middle" >(201)</text>
<line x1="160.6" y1="322.6" x2="160.6" y2="329.3" stroke="#ff2a2a" stroke-width="1.4"/>
<line x1="162" y1="322.6" x2="162" y2="329.3" stroke="#ff2a2a" stroke-width="1.4"/>
<text x="162" y="320.4" font-family="&quot;Liberation Sans&quot;, sans-serif" font-size="3.1" fill="#7a7a7a" stroke="#7a7a7a" stroke-width="0.1" text-anchor="middle" >(112)</text>
<line x1="176" y1="323" x2="176" y2="329.3" stroke="#ff2a2a" stroke-width="1.4"/>
<line x1="177.4" y1="323" x2="177.4" y2="329.3" stroke="#ff2a2a" stroke-width="1.4"/>
<text x="177.4" y="320.4" font-family="&quot;Liberation Sans&quot;, sans-serif" font-size="3.1" fill="#7a7a7a" stroke="#7a7a7a" stroke-width="0.1" text-anchor="middle" >(202)</text>
<line x1="188.6" y1="323" x2="188.6" y2="329.3" stroke="#ff2a2a" stroke-width="1.4"/>
<text x="188.6" y="320.4" font-family="&quot;Liberation Sans&quot;, sans-serif" font-size="3.1" fill="#7a7a7a" stroke="#7a7a7a" stroke-width="0.1" text-anchor="middle" >(210)</text>
<line x1="197.7" y1="324.6" x2="197.7" y2="329.3" stroke="#ff2a2a" stroke-width="1.4"/>
<text x="197.7" y="322.2" font-family="&quot;Liberation Sans&quot;, sans-serif" font-size="3.1" fill="#7a7a7a" stroke="#7a7a7a" stroke-width="0.1" text-anchor="middle" >(211)</text>
<text x="90.5" y="297.6" font-family="&quot;Liberation Sans&quot;, sans-serif" font-size="3.1" fill="#7a7a7a" stroke="#7a7a7a" stroke-width="0.1" text-anchor="middle" >(101)</text>
<text x="155.8" y="325.2" font-family="&quot;Liberation Sans&quot;, sans-serif" font-size="3.1" fill="#7a7a7a" stroke="#7a7a7a" stroke-width="0.1" text-anchor="middle" >(003)</text>
<text x="171" y="325.6" font-family="&quot;Liberation Sans&quot;, sans-serif" font-size="3.1" fill="#7a7a7a" stroke="#7a7a7a" stroke-width="0.1" text-anchor="middle" >(103)</text>
<line x1="27.6" y1="74.4" x2="202.4" y2="74.4" stroke="#727272" stroke-width="1.2"/>
<line x1="27.6" y1="135.6" x2="202.4" y2="135.6" stroke="#727272" stroke-width="1.2"/>
<line x1="27.6" y1="197.2" x2="202.4" y2="197.2" stroke="#727272" stroke-width="1.2"/>
<line x1="27.6" y1="258.5" x2="202.4" y2="258.5" stroke="#727272" stroke-width="1.2"/>
<line x1="27.6" y1="294.2" x2="202.4" y2="294.2" stroke="#727272" stroke-width="1.2"/>
<rect x="27.6" y="13.5" width="174.8" height="315.8" fill="none" stroke="#727272" stroke-width="1.3"/>
<line x1="27.6" y1="329.3" x2="27.6" y2="331.7" stroke="#727272" stroke-width="0.9"/>
<text x="27.6" y="339.5" font-family="&quot;Liberation Sans&quot;, sans-serif" font-size="7.4" fill="#333" stroke="#333" stroke-width="0.22" text-anchor="middle" >10</text>
<line x1="42.17" y1="329.3" x2="42.17" y2="330.6" stroke="#727272" stroke-width="0.9"/>
<line x1="56.73" y1="329.3" x2="56.73" y2="331.7" stroke="#727272" stroke-width="0.9"/>
<text x="56.73" y="339.5" font-family="&quot;Liberation Sans&quot;, sans-serif" font-size="7.4" fill="#333" stroke="#333" stroke-width="0.22" text-anchor="middle" >20</text>
<line x1="71.3" y1="329.3" x2="71.3" y2="330.6" stroke="#727272" stroke-width="0.9"/>
<line x1="85.87" y1="329.3" x2="85.87" y2="331.7" stroke="#727272" stroke-width="0.9"/>
<text x="85.87" y="339.5" font-family="&quot;Liberation Sans&quot;, sans-serif" font-size="7.4" fill="#333" stroke="#333" stroke-width="0.22" text-anchor="middle" >30</text>
<line x1="100.43" y1="329.3" x2="100.43" y2="330.6" stroke="#727272" stroke-width="0.9"/>
<line x1="115" y1="329.3" x2="115" y2="331.7" stroke="#727272" stroke-width="0.9"/>
<text x="115" y="339.5" font-family="&quot;Liberation Sans&quot;, sans-serif" font-size="7.4" fill="#333" stroke="#333" stroke-width="0.22" text-anchor="middle" >40</text>
<line x1="129.57" y1="329.3" x2="129.57" y2="330.6" stroke="#727272" stroke-width="0.9"/>
<line x1="144.13" y1="329.3" x2="144.13" y2="331.7" stroke="#727272" stroke-width="0.9"/>
<text x="144.13" y="339.5" font-family="&quot;Liberation Sans&quot;, sans-serif" font-size="7.4" fill="#333" stroke="#333" stroke-width="0.22" text-anchor="middle" >50</text>
<line x1="158.7" y1="329.3" x2="158.7" y2="330.6" stroke="#727272" stroke-width="0.9"/>
<line x1="173.27" y1="329.3" x2="173.27" y2="331.7" stroke="#727272" stroke-width="0.9"/>
<text x="173.27" y="339.5" font-family="&quot;Liberation Sans&quot;, sans-serif" font-size="7.4" fill="#333" stroke="#333" stroke-width="0.22" text-anchor="middle" >60</text>
<line x1="187.83" y1="329.3" x2="187.83" y2="330.6" stroke="#727272" stroke-width="0.9"/>
<line x1="202.4" y1="329.3" x2="202.4" y2="331.7" stroke="#727272" stroke-width="0.9"/>
<text x="202.4" y="339.5" font-family="&quot;Liberation Sans&quot;, sans-serif" font-size="7.4" fill="#333" stroke="#333" stroke-width="0.22" text-anchor="middle" >70</text>
<text x="115.2" y="351.3" font-family="&quot;Liberation Sans&quot;, sans-serif" font-size="8.5" fill="#333" stroke="#333" stroke-width="0.22" text-anchor="middle" >2Theta (Degree)</text>
<text x="20.2" y="176" font-family="&quot;Liberation Sans&quot;, sans-serif" font-size="8.7" fill="#333" stroke="#333" stroke-width="0.22" text-anchor="middle" transform="rotate(-90 20.2 176)">Intensity (a.u.)</text>
<text x="9.2" y="20.3" font-family="&quot;Liberation Serif&quot;, serif" font-size="21" fill="#111" stroke="#111" stroke-width="0.25" text-anchor="start" >a</text>
<text x="197" y="22.9" font-family="&quot;Liberation Sans&quot;, sans-serif" font-size="6.8" fill="#333" stroke="#333" stroke-width="0.22" text-anchor="end" >NiSe<tspan font-size="4.22" dy="1.50">2</tspan><tspan dy="-1.50">-2</tspan></text>
<text x="196.2" y="83.6" font-family="&quot;Liberation Sans&quot;, sans-serif" font-size="6.8" fill="#333" stroke="#333" stroke-width="0.22" text-anchor="end" >NiSe<tspan font-size="4.22" dy="1.50">2</tspan><tspan dy="-1.50">-1</tspan></text>
<text x="201.2" y="145.1" font-family="&quot;Liberation Sans&quot;, sans-serif" font-size="6.8" fill="#333" stroke="#333" stroke-width="0.22" text-anchor="end" >NiSe<tspan font-size="4.22" dy="1.50">2</tspan><tspan dy="-1.50">-0.5</tspan></text>
<text x="196.8" y="209" font-family="&quot;Liberation Sans&quot;, sans-serif" font-size="6.8" fill="#333" stroke="#333" stroke-width="0.22" text-anchor="end" >Ni-MOFs</text>
<text x="201.4" y="267.8" font-family="&quot;Liberation Sans&quot;, sans-serif" font-size="6.9" fill="#333" stroke="#333" stroke-width="0.22" text-anchor="end" >NiSe<tspan font-size="4.28" dy="1.52">2</tspan><tspan dy="-1.52">#41-1495</tspan></text>
<text x="200.6" y="302.8" font-family="&quot;Liberation Sans&quot;, sans-serif" font-size="6.9" fill="#333" stroke="#333" stroke-width="0.22" text-anchor="end" >Se#06-0362</text>
<polyline points="235.7,95.64 236.1,95.06 236.5,95.15 236.9,95.08 237.3,95.59 237.7,95.11 238.1,94.95 238.5,94.71 238.9,94.91 239.3,94.35 239.7,94.2 240.1,94.64 240.5,94.6 240.9,93.57 241.3,93.12 241.7,93.19 242.1,93.48 242.5,93.77 242.8,94.15 242.9,93.91 243.3,94.01 243.7,93.76 244.1,93.69 244.5,93.66 244.9,93.9 245.3,94.61 245.7,94.21 246.1,93.6 246.5,93.1 246.9,92.77 247.1,92.69 247.3,93.08 247.7,92.91 248.1,92.95 248.5,92.56 248.9,91.79 249.3,91.33 249.7,91.41 250.1,91.86 250.3,91.69 250.5,92.22 250.9,92.72 251.3,93.64 251.7,94.51 252.1,94.96 252.5,95.48 252.5,95.51 252.9,97.11 253.3,98.36 253.7,99.02 254.1,99.33 254.5,99.53 254.7,99.24 254.9,99.43 255.3,99.72 255.7,99.57 256.1,99.37 256.5,99.33 256.9,99.67 257.3,99.51 257.7,99.51 258.1,100.01 258.5,100.04 258.9,99.71 259,100.46 259.3,100.11 259.7,99.61 260.1,99.21 260.5,98.33 260.9,97.55 261.3,97.66 261.7,97.13 262.1,96.97 262.2,97.11 262.5,96.43 262.9,96.05 263.3,95.97 263.7,96.41 263.9,96.28 264.1,96.72 264.5,97.36 264.9,98.14 265.3,99.13 265.7,100.75 266.1,101.69 266.1,101.55 266.5,102.55 266.9,103.58 267.3,104.54 267.7,105.38 268.1,105.78 268.5,106.62 268.9,107.24 269.3,107.33 269.7,107.78 269.8,107.72 270.1,107.59 270.5,107.76 270.9,107.72 271.3,107.99 271.7,107.96 272.1,107.93 272.5,108.15 272.9,108.41 273.3,107.98 273.7,107.43 274.1,106.82 274.1,106.98 274.5,106.22 274.9,105.23 275.3,104 275.7,102.98 276.1,101.53 276.2,101.43 276.5,100.65 276.9,100.27 277.3,99.89 277.7,99.52 277.8,99.08 278.1,99.63 278.5,100.95 278.9,103.69 279.3,105.74 279.5,107.09 279.7,107.44 280.1,108.93 280.5,110.21 280.9,111.89 281.3,112.3 281.7,112.91 282.1,112.98 282.1,112.89 282.5,113.95 282.9,114.99 283.3,115.43 283.7,115.57 284.1,115.06 284.5,115.02 284.9,115.16 285.3,115.65 285.7,116.26 286.1,115.91 286.5,115.47 286.9,115.45 287.3,115.88 287.7,116.26 288.1,115.8 288.1,115.84 288.5,115.7 288.9,115.34 289.3,115.41 289.7,114.71 290.1,115.35 290.5,115.35 290.9,115.02 291.3,115.33 291.7,115.81 292.1,115.96 292.4,115.24 292.5,114.82 292.9,115.06 293.3,115.02 293.7,114.77 294.1,114.42 294.5,114.89 294.9,114.62 295.3,114.47 295.7,113.91 295.7,113.65 296.1,113.95 296.5,115.2 296.9,116.07 297.3,116.35 297.7,117.74 297.8,118.6 298.1,118.91 298.5,119.35 298.9,120.08 299.3,121.12 299.7,122.24 300,122.15 300.1,120.66 300.5,103.92 300.6,99.46 300.9,83.87 301.1,78.51 301.3,83.91 301.6,99.84 301.7,105.11 302.1,127.06 302.2,128.75 302.5,128.47 302.9,128.1 303.3,127.95 303.7,128.16 304.1,128.07 304.5,128.06 304.9,128.17 305.3,128.24 305.7,128.07 306.1,128.4 306.5,128.51 306.9,127.93 307.3,127.94 307.7,128.43 308.1,128.79 308.5,128.33 308.9,128.47 309.3,128.22 309.7,128.06 310.1,127.79 310.5,127.75 310.9,128.16 311.3,128.27 311.7,128.48 312.1,128.29 312.5,128.64 312.9,128.5 313.3,128.28 313.7,127.6 314.1,127.31 314.5,127.69 314.9,127.51 315.3,127.69 315.7,127.74 316.1,127.54 316.5,127.82 316.9,127.77 317.3,127.49 317.7,128.25 318.1,128.87 318.5,128.23 318.9,127.99 319.3,127.91 319.7,128.16 320.1,127.58 320.5,127.14 320.9,127.65 321.3,127.84 321.7,127.68 322,127.63 322.1,127.33 322.5,127.38 322.9,126.84 323.3,126.97 323.7,127.39 324.1,127.09 324.5,127.28 324.9,127.48 325.3,127.09 325.7,127.02 326.1,127.24 326.5,127.06 326.9,127.29 327.3,127.45 327.7,127.38 328.1,126.85 328.5,126.86 328.9,127 329.3,127.37 329.7,126.76 330.1,126.74 330.5,126.58 330.9,126.26 331.3,126.64 331.7,127.24 332.1,127.34 332.5,127.59 332.9,127.44 333.3,127.07 333.7,126.88 334.1,126.86 334.5,127.17 334.9,127.01 335.3,126.75 335.7,126.81 336.1,126.93 336.5,126.81 336.9,126.11 337.3,125.99 337.7,125.91 338.1,125.83 338.5,125.76 338.9,125.53 339.3,125.73 339.7,126.24 340,126.67 340.1,126.66 340.5,127.01 340.9,126.92 341.3,127.09 341.7,126.54 342.1,125.81 342.5,125.15 342.9,124.45 343.3,124.91 343.7,125.57 344.1,125.6 344.5,125.33 344.9,125.4 345.3,125.27 345.7,124.66 346.1,124.16 346.5,124.29 346.9,124.53 347.3,124.79 347.3,124.53 347.7,125.02 348.1,125.59 348.5,127.02 348.9,128.33 349.3,128.59 349.6,128.46 349.7,127.73 350.1,121.63 350.5,113.04 350.7,110.35 350.9,107.21 351.3,101.41 351.4,101.39 351.7,103.9 352.1,111.82 352.1,111.78 352.5,123.12 352.9,132.81 353,133.11 353.3,132.37 353.7,131.84 354.1,132.43 354.5,132.82 354.9,132.96 355.3,132.56 355.7,132.49 356.1,132.29 356.5,132.51 356.9,132.8 357.3,133.43 357.7,133.43 358.1,132.72 358.5,132.57 358.9,132.57 359.3,132.46 359.7,131.51 360.1,131.91 360.5,132.11 360.9,132.54 361.3,132.88 361.7,132.9 362.1,133.05 362.5,132.63 362.9,132.78 363.3,132.6 363.7,132.84 364.1,132.56 364.5,132.44 364.9,132.52 365.3,131.9 365.7,131.52 366.1,131.82 366.5,132.15 366.9,132.86 367.3,132.85 367.7,132.79 368.1,132.68 368.5,132.95 368.9,132.46 369.3,132.21 369.7,132.04 370,131.95 370.1,131.9 370.5,132.22 370.9,131.93 371.3,132.51 371.7,132.41 372.1,132.14 372.5,131.73 372.9,131.41 373.3,131.57 373.7,132 374.1,132.46 374.5,132.43 374.9,132.28 375.3,132.26 375.7,131.4 376.1,131.51 376.5,131.28 376.9,131.4 377.3,132.03 377.7,132.42 378.1,132.18 378.5,132.59 378.9,132.08 379.3,132.12 379.7,131.77 380.1,131.66 380.5,131.84 380.9,131.73 381.3,132.25 381.7,132.46 382.1,131.78 382.5,130.98 382.9,130.55 383.3,130.65 383.7,131 383.8,131.3 384.1,131.13 384.5,131.69 384.9,131.13 385.3,130.52 385.7,129.83 386,129.62 386.1,129.7 386.5,129.54 386.9,130.07 387.3,130.47 387.7,131.24 388,131.19 388.1,131.07 388.5,131.28 388.9,131.37 389.3,131.46 389.7,131.66 390.1,131.24 390.5,130.8 390.9,130.6 391.3,130.64 391.7,130.45 391.8,130.6 392.1,130.76 392.5,129.95 392.9,130.19 393.3,129.97 393.7,129.47 394.1,129.04 394.5,128.56 394.9,127.97 395.2,127.26 395.3,129.55 395.6,141.87 395.7,142.2 396.1,137.24 396.4,134.42 396.5,133.65 396.9,134.23 397,134.46 397.3,134.29 397.7,134.29 398.1,134.56 398.5,135.22 398.9,134.9 399.3,134.92 399.7,134.2 400.1,134.4 400.5,134.54 400.9,135.47 401.3,135.23 401.7,135.24 402.1,135.51 402.5,135.3 402.9,135.56 403.3,135.31 403.7,134.78 404.1,135.03 404.5,134.69 404.9,134.12 405.3,134.43 405.7,134.61 406.1,134.78 406.5,134.95 406.9,135.01 407.3,135.62 407.7,134.81 408.1,135.16 408.5,135.69 408.9,135.38 409.3,134.81 409.7,134.49 410,134.2" fill="none" stroke="#2fae4a" stroke-width="1.2" stroke-linejoin="round" stroke-linecap="round" />
<polyline points="235.7,76.94 236.1,76.57 236.5,76.16 236.9,75.01 237.3,74.79 237.7,75.12 238.1,75.49 238.5,75.95 238.9,75.54 239.3,75.59 239.7,76.12 240.1,76.43 240.5,75.81 240.9,75.31 241.3,74.81 241.7,74.66 242.1,74.67 242.5,74.77 242.8,74.92 242.9,75.29 243.3,75.42 243.7,75.02 244.1,75.12 244.5,74.7 244.9,73.64 245.3,73.76 245.7,74.28 246.1,74.71 246.5,74.45 246.9,74.02 247.1,74.03 247.3,74.28 247.7,73.89 248.1,73.15 248.5,73.23 248.9,73.17 249.3,72.82 249.7,72.4 250.1,72.53 250.3,72.73 250.5,72.83 250.9,73.86 251.3,74.74 251.7,75.61 252.1,75.82 252.5,76.42 252.5,76.52 252.9,77.9 253.3,79.35 253.7,79.86 254.1,80.11 254.5,80.09 254.7,80.82 254.9,80.72 255.3,80.74 255.7,80.68 256.1,80.79 256.5,80.34 256.9,79.87 257.3,79.97 257.7,79.68 258.1,79.73 258.5,80.01 258.9,79.53 259,78.73 259.3,78.29 259.7,78.29 260.1,78.43 260.5,77.98 260.9,77.23 261.3,76.61 261.7,76.39 262.1,76.84 262.2,77.21 262.5,77.12 262.9,76.24 263.3,75.95 263.7,75.93 263.9,75.64 264.1,76.09 264.5,77.53 264.9,78.61 265.3,79.59 265.7,80.55 266.1,81.06 266.1,81.14 266.5,82.44 266.9,84.17 267.3,85.36 267.7,86.08 268.1,86.36 268.5,86.64 268.9,87.09 269.3,87.39 269.7,87.36 269.8,87.44 270.1,87.24 270.5,86.85 270.9,86.55 271.3,86.36 271.7,86.2 272.1,86.68 272.5,87.04 272.9,87 273.3,87.03 273.7,87.23 274.1,87.34 274.1,86.73 274.5,86.69 274.9,85.7 275.3,84.1 275.7,82.64 276.1,81.15 276.2,81.05 276.5,80.92 276.9,80.18 277.3,79.56 277.7,79.36 277.8,79.66 278.1,80.3 278.5,81.58 278.9,83.28 279.3,84.54 279.5,85.38 279.7,86.12 280.1,87.58 280.5,89.95 280.9,91.39 281.3,92.54 281.7,93.55 282.1,94.15 282.1,94.72 282.5,94.66 282.9,94.62 283.3,94.44 283.7,94.28 284.1,94.54 284.5,94.99 284.9,95.4 285.3,95.25 285.7,95.06 286.1,95.1 286.5,94.94 286.9,95.3 287.3,95.66 287.7,95.14 288.1,94.69 288.1,94.91 288.5,95.38 288.9,95.48 289.3,95.38 289.7,94.62 290.1,94.35 290.5,94.02 290.9,94.43 291.3,94.58 291.7,94.37 292.1,94.22 292.4,93.74 292.5,93.98 292.9,93.85 293.3,92.9 293.7,91.76 294.1,91.64 294.5,91.31 294.9,91.05 295.3,91.12 295.7,90.64 295.7,90.97 296.1,91.18 296.5,92.22 296.9,92.96 297.3,93.31 297.7,93.56 297.8,93.87 298.1,94.58 298.5,95.61 298.9,96.68 299.3,97.37 299.7,97.42 300,97.47 300.1,95.85 300.5,66.89 300.6,60.54 300.9,44.17 301.1,38.68 301.3,43.64 301.6,59.64 301.7,67.03 302.1,101.93 302.2,104.11 302.5,104.18 302.9,104.06 303.3,103.66 303.7,103.67 304.1,104.37 304.5,103.92 304.9,103.97 305.3,103.92 305.7,103.54 306.1,103.94 306.5,104.04 306.9,103.86 307.3,103.05 307.7,102.91 308.1,103.15 308.5,103.18 308.9,102.7 309.3,102.01 309.7,102.27 310,103.07 310.1,102.55 310.5,102.63 310.9,103.09 311.3,103.12 311.7,102.71 312.1,102.92 312.5,102.8 312.9,103.26 313.3,103.19 313.7,102.41 314.1,101.84 314.5,102.1 314.9,102.72 315.3,102.6 315.7,102.8 316.1,102.52 316.5,102.69 316.9,102.47 317.3,102.5 317.7,102.04 318.1,102.32 318.5,102.51 318.9,101.97 319.3,101.68 319.7,102.17 320.1,101.59 320.5,101.15 320.9,101.27 321.3,101.75 321.7,102.37 322,102.5 322.1,102.13 322.5,101.74 322.9,101.27 323.3,101.16 323.7,100.69 324.1,101.17 324.5,101.14 324.9,100.88 325.3,100.69 325.7,100.46 326.1,100.16 326.5,99.77 326.9,99.03 327.3,99.28 327.7,99.79 328.1,99.82 328.5,99.92 328.9,99.69 329.1,99.31 329.3,99.1 329.7,99.32 330.1,99.67 330.5,99.79 330.9,100.36 331.3,101.01 331.7,100.97 332.1,101.13 332.5,101.76 332.9,102.66 333.3,103.04 333.7,103.71 333.7,103.6 334.1,103.61 334.5,103.06 334.9,103 335.3,102.34 335.7,102.64 336.1,102.59 336.5,102.86 336.9,102.63 337.3,103.03 337.7,102.76 338.1,102.89 338.5,102.56 338.9,102.93 339.3,102.72 339.7,102.13 340,102.18 340.1,102.55 340.5,102.74 340.9,102.49 341.3,102.94 341.7,102.87 342.1,102.44 342.5,102.17 342.9,101.76 343.3,101.97 343.7,102.69 344.1,103.14 344.5,103 344.9,102.93 345.3,102.38 345.7,102.55 346.1,102.59 346.5,102.32 346.9,101.92 347.3,102.35 347.7,102.69 348.1,102.24 348.5,101.99 348.5,101.49 348.9,101.91 349.3,102.37 349.7,101.11 350.1,99.33 350.5,97.64 350.5,97.69 350.9,95.37 351.3,93.19 351.4,92.94 351.7,94.16 352.1,98.25 352.3,99.74 352.5,102.64 352.9,108.9 353,109.49 353.3,109.44 353.7,110 354.1,109.85 354.5,110.09 354.9,110.67 355.3,111.26 355.7,111.15 356.1,110.6 356.5,110.58 356.9,110.02 357.3,110.44 357.7,110.95 358.1,111.19 358.5,111.78 358.9,111.55 359.3,111.12 359.7,111.11 360,110.14 360.1,109.84 360.5,109.82 360.9,109.99 361.3,110.45 361.7,110.8 362.1,111.21 362.5,111.46 362.9,110.55 363.3,110.37 363.7,110.26 364.1,110.61 364.5,110.05 364.9,110.22 365,110.41 365.3,110.95 365.7,111.04 366.1,111.01 366.5,110.27 366.9,110.69 367.3,110.78 367.7,111.11 368.1,111.54 368.5,111.81 368.9,112.2 369.3,112.39 369.7,112.07 370.1,111.99 370.5,112.52 370.6,112.66 370.9,111.69 371.3,108.23 371.5,106.77 371.7,106.01 372.1,103.11 372.4,102.22 372.5,102.19 372.9,103.08 373.3,104.84 373.5,106.17 373.7,107.1 374.1,109.26 374.5,111.83 374.9,113.38 375.3,115.34 375.7,117.39 375.8,117.9 376.1,118.55 376.5,119.59 376.9,120.49 377.3,121.73 377.7,122.49 378.1,122.88 378.5,122.81 378.9,122.84 379.2,123.26 379.3,123.67 379.7,123.74 380.1,123.11 380.5,121.97 380.9,121.73 381,121.68 381.3,122.6 381.7,123.11 382.1,123.96 382.5,124.61 382.9,124.93 383,124.72 383.3,124.42 383.7,125.18 384.1,125.95 384.5,126.39 384.9,126.4 385.3,127.1 385.7,127 386,127.08 386.1,126.87 386.5,127.51 386.9,127.77 387.3,127.36 387.7,127.96 388.1,128.24 388.5,128.3 388.9,128.24 389.3,127.58 389.7,127.38 390,128.28 390.1,128.89 390.5,128.95 390.9,129.05 391.3,129.03 391.7,128.89 392.1,128.52 392.5,128.74 392.9,129.11 393.3,129.42 393.7,129.22 394,128.76 394.1,128.58 394.5,128.49 394.9,127.95 395.3,127.65 395.7,126.77 396.1,125.57 396.3,124.75 396.5,122.16 396.9,111.96 397,111.66 397.3,117.23 397.6,124.71 397.7,125.9 398.1,131.21 398.5,134.01 398.6,133.54 398.9,133.07 399.3,132.52 399.7,132.87 400.1,133.62 400.5,134.47 400.9,134.82 401.3,134.69 401.7,134.98 402.1,135.09 402.5,134.88 402.9,134.69 403.3,134.65 403.7,133.92 404,134.39 404.1,135.31 404.5,135.25 404.9,135.11 405.3,134.92 405.7,135.06 406.1,135.47 406.5,135.32 406.9,134.41 407.3,134.03 407.7,134.12 408.1,134.33 408.5,135.09 408.9,135.84 409.3,135.76 409.7,135.61 410,136.03" fill="none" stroke="#ff7f14" stroke-width="1.15" stroke-linejoin="round" stroke-linecap="round" />
<rect x="235.6" y="14.8" width="175" height="140.7" fill="none" stroke="#727272" stroke-width="1.2"/>
<line x1="245.6" y1="155.5" x2="245.6" y2="157.9" stroke="#727272" stroke-width="0.9"/>
<text x="245.6" y="166.7" font-family="&quot;Liberation Sans&quot;, sans-serif" font-size="8.5" fill="#333" stroke="#333" stroke-width="0.22" text-anchor="middle" >800</text>
<line x1="266.18" y1="155.5" x2="266.18" y2="156.8" stroke="#727272" stroke-width="0.9"/>
<line x1="286.76" y1="155.5" x2="286.76" y2="157.9" stroke="#727272" stroke-width="0.9"/>
<text x="286.76" y="166.7" font-family="&quot;Liberation Sans&quot;, sans-serif" font-size="8.5" fill="#333" stroke="#333" stroke-width="0.22" text-anchor="middle" >600</text>
<line x1="307.34" y1="155.5" x2="307.34" y2="156.8" stroke="#727272" stroke-width="0.9"/>
<line x1="327.92" y1="155.5" x2="327.92" y2="157.9" stroke="#727272" stroke-width="0.9"/>
<text x="327.92" y="166.7" font-family="&quot;Liberation Sans&quot;, sans-serif" font-size="8.5" fill="#333" stroke="#333" stroke-width="0.22" text-anchor="middle" >400</text>
<line x1="348.5" y1="155.5" x2="348.5" y2="156.8" stroke="#727272" stroke-width="0.9"/>
<line x1="369.08" y1="155.5" x2="369.08" y2="157.9" stroke="#727272" stroke-width="0.9"/>
<text x="369.08" y="166.7" font-family="&quot;Liberation Sans&quot;, sans-serif" font-size="8.5" fill="#333" stroke="#333" stroke-width="0.22" text-anchor="middle" >200</text>
<line x1="389.66" y1="155.5" x2="389.66" y2="156.8" stroke="#727272" stroke-width="0.9"/>
<line x1="410.24" y1="155.5" x2="410.24" y2="157.9" stroke="#727272" stroke-width="0.9"/>
<text x="410.24" y="166.7" font-family="&quot;Liberation Sans&quot;, sans-serif" font-size="8.5" fill="#333" stroke="#333" stroke-width="0.22" text-anchor="middle" >0</text>
<text x="323" y="181.3" font-family="&quot;Liberation Sans&quot;, sans-serif" font-size="9.4" fill="#333" stroke="#333" stroke-width="0.22" text-anchor="middle" >Binding energy (eV)</text>
<text x="230.2" y="85.1" font-family="&quot;Liberation Sans&quot;, sans-serif" font-size="9.5" fill="#333" stroke="#333" stroke-width="0.22" text-anchor="middle" transform="rotate(-90 230.2 85.1)">Intensity (a.u.)</text>
<text x="216" y="20.5" font-family="&quot;Liberation Serif&quot;, serif" font-size="21" fill="#111" stroke="#111" stroke-width="0.25" text-anchor="start" >b</text>
<text x="303" y="37" font-family="&quot;Liberation Sans&quot;, sans-serif" font-size="7.4" fill="#333" stroke="#333" stroke-width="0.22" text-anchor="middle" >O 1s</text>
<text x="254" y="71.6" font-family="&quot;Liberation Sans&quot;, sans-serif" font-size="7.4" fill="#333" stroke="#333" stroke-width="0.22" text-anchor="start" >Ni 2p</text>
<text x="353.6" y="91" font-family="&quot;Liberation Sans&quot;, sans-serif" font-size="7.4" fill="#333" stroke="#333" stroke-width="0.22" text-anchor="middle" >C 1s</text>
<text x="373.3" y="101.2" font-family="&quot;Liberation Sans&quot;, sans-serif" font-size="7.4" fill="#333" stroke="#333" stroke-width="0.22" text-anchor="middle" >Se 3p</text>
<text x="388.4" y="121.7" font-family="&quot;Liberation Sans&quot;, sans-serif" font-size="7.4" fill="#333" stroke="#333" stroke-width="0.22" text-anchor="middle" >Ni 3s</text>
<text x="399.5" y="108.7" font-family="&quot;Liberation Sans&quot;, sans-serif" font-size="7.4" fill="#333" stroke="#333" stroke-width="0.22" text-anchor="middle" >Se 3d</text>
<text x="395.7" y="151.3" font-family="&quot;Liberation Sans&quot;, sans-serif" font-size="7.4" fill="#333" stroke="#333" stroke-width="0.22" text-anchor="middle" >Ni 3p</text>
<line x1="358.2" y1="21.5" x2="375.3" y2="21.5" stroke="#3db457" stroke-width="1.1"/>
<line x1="358.2" y1="30.7" x2="375.3" y2="30.7" stroke="#ff8a2a" stroke-width="1.1"/>
<text x="376.6" y="24.2" font-family="&quot;Liberation Sans&quot;, sans-serif" font-size="7.6" fill="#333" stroke="#333" stroke-width="0.22" text-anchor="start" >Ni-MOFs</text>
<text x="376.6" y="33.4" font-family="&quot;Liberation Sans&quot;, sans-serif" font-size="7.6" fill="#333" stroke="#333" stroke-width="0.22" text-anchor="start" >NiSe<tspan font-size="4.71" dy="1.67">2</tspan><tspan dy="-1.67">-1</tspan></text>
<polyline points="235.6,286.74 236.1,285.86 236.6,283.73 237.1,283.32 237.6,284.23 238.1,285.2 238.6,285.63 239.1,285.44 239.6,285.91 240.1,285.68 240.6,285.9 241.1,285.95 241.6,286.16 242.1,288.18 242.6,286.76 243.1,286.99 243.6,286.53 244.1,284.79 244.6,284.96 245.1,284.78 245.6,284.08 246.1,285.15 246.6,285.08 247.1,286.4 247.6,286.61 248.1,286.82 248.6,287.65 249.1,287.55 249.6,287.67 250.1,286.76 250.6,286.44 251.1,288.6 251.6,290.19 252.1,289.2 252.6,288.27 253.1,286.05 253.6,285.55 254.1,285.28 254.6,286.72 255.1,286.98 255.6,286.13 256.1,286.01 256.6,284.74 257.1,285.71 257.6,284.25 258.1,283.97 258.6,284.96 259.1,285.15 259.6,285.79 260.1,285.6 260.6,286.88 261.1,286.96 261.6,288.73 262.1,288.03 262.6,288.41 263.1,286.4 263.6,286.24 264.1,285.17 264.6,286.53 265.1,287.22 265.6,285.61 266.1,284.53 266.6,284.05 267.1,284.05 267.6,284.67 268.1,285.62 268.6,286.69 269.1,287.54 269.6,287.32 270.1,286.66 270.6,287.24 271.1,287.05 271.6,285.96 272.1,284.62 272.6,284.59 273.1,284.85 273.6,285.72 274.1,286.06 274.6,286.62 275.1,284.77 275.6,282.43 276.1,282.92 276.6,284.68 277.1,284.36 277.6,284.86 278.1,284.77 278.6,284.69 279.1,284.82 279.6,283.76 280.1,283.62 280.6,282.48 281.1,283.81 281.6,282.75 282.1,282.82 282.6,283.44 283.1,284.62 283.6,285.08 284.1,285.12 284.6,285.51 285.1,284.96 285.6,284.8 286.1,283.01 286.6,281.98 287.1,282.4 287.6,284.03 288.1,284.66 288.6,283.11 289.1,283.86 289.6,283.07 290.1,281.6 290.6,281.36 291.1,281.66 291.6,282.22 292.1,281.63 292.6,281.51 293.1,283.07 293.6,283.28 294.1,284.87 294.6,285.03 295.1,284.19 295.6,284.38 296.1,284.65 296.6,285.07 297.1,284.23 297.6,282.11 298.1,280.1 298.6,277.61 299.1,276.37 299.6,276.78 300.1,277.82 300.6,278.46 301.1,279 301.6,279.59 302.1,280.24 302.6,279.51 303.1,279.32 303.6,278.58 304.1,277.96 304.6,276.46 305.1,275.64 305.6,274.89 306.1,274.63 306.6,273.26 307.1,274.18 307.6,274.43 308.1,274.02 308.6,273.65 309.1,271.62 309.6,269.78 310.1,269.4 310.6,269.19 311.1,270.07 311.6,269.46 312.1,268.28 312.6,267.08 313.1,264.76 313.6,265.6 314.1,263.5 314.6,263.55 315.1,262.88 315.6,263.13 316.1,263 316.6,260.8 317.1,261.14 317.6,260.16 318.1,257.31 318.6,256.31 319.1,255.45 319.6,256.07 320.1,257.25 320.6,260.21 321.1,259.34 321.6,258.81 322.1,259.2 322.6,259.92 323.1,260.46 323.6,260.94 324.1,261.13 324.6,262.32 325.1,261.39 325.6,260.55 326.1,261.52 326.6,263.19 327.1,265.41 327.6,266.73 328.1,267.33 328.6,268.27 329.1,269.31 329.6,270.95 330.1,270.35 330.6,271.36 331.1,271.85 331.6,271.31 332.1,272.11 332.6,272.39 333.1,272.53 333.6,274.11 334.1,275.77 334.6,276.64 335.1,276.31 335.6,276.78 336.1,278.13 336.6,276.85 337.1,277.59 337.6,278.16 338.1,278.2 338.6,278.41 339.1,277.51 339.6,276.99 340.1,277.4 340.6,277.45 341.1,277.72 341.6,277.07 342.1,276.23 342.6,275.46 343.1,273.74 343.6,273.6 344.1,273.9 344.6,274.44 345.1,274.63 345.6,273.23 346.1,273.29 346.6,270.52 347.1,267.96 347.6,265.99 348.1,263.62 348.6,264.44 349.1,263.04 349.6,260.43 350.1,257.83 350.6,257.07 351.1,255.79 351.6,254.99 352.1,252.28 352.6,247.14 353.1,243.92 353.6,241.65 354.1,239.37 354.6,237.48 355.1,235.91 355.6,233.09 356.1,229.31 356.6,226.42 357.1,223.8 357.6,220.7 358.1,219.2 358.6,219.05 359.1,217.47 359.6,214.47 360.1,213.12 360.6,212.64 361.1,210.83 361.6,210.25 362.1,209.02 362.6,208.19 363.1,205.57 363.6,204.79 364.1,204.21 364.6,203.95 365.1,202.49 365.6,201.54 366.1,202.64 366.6,203.16 367.1,203.74 367.6,204.64 368.1,205.27 368.6,206.55 369.1,208.78 369.6,212.71 370.1,216.38 370.6,220.27 371.1,223.92 371.6,227.94 372.1,231.11 372.6,234.98 373.1,239.97 373.6,244.53 374.1,249.18 374.6,251.88 375.1,256.17 375.6,258.68 376.1,261.07 376.6,263.17 377.1,266.65 377.6,269.57 378.1,271.96 378.6,274.43 379.1,277.25 379.6,279.38 380.1,282.55 380.6,282.66 381.1,283.59 381.6,286.02 382.1,288.54 382.6,290.75 383.1,292.26 383.6,293.7 384.1,293.78 384.6,295.23 385.1,296.56 385.6,299.25 386.1,300.73 386.6,300.85 387.1,301.85 387.6,301.9 388.1,303.59 388.6,303.74 389.1,303.04 389.6,303.13 390.1,303.17 390.6,303.84 391.1,305.78 391.6,307.02 392.1,307.59 392.6,306.39 393.1,306.73 393.6,307.35 394.1,309.16 394.6,309.4 395.1,309.03 395.6,308.77 396.1,307.29 396.6,305.47 397.1,307.26 397.6,308.49 398.1,309.33 398.6,309.03 399.1,309.26 399.6,309.17 400.1,309.68 400.6,308.3 401.1,308.19 401.6,308.54 402.1,307.67 402.6,308.69 403.1,308.8 403.6,310.03 404.1,308.75 404.6,308.1 405.1,308.5 405.6,309.14 406.1,310.13 406.6,311.7 407.1,311.86 407.6,312.26 408.1,310.41 408.6,310 409.1,311.37 409.6,310.82" fill="none" stroke="#333" stroke-width="1.1" stroke-linejoin="round" stroke-linecap="round" />
<polyline points="235.6,287.2 236.1,287.17 236.6,287.15 237.1,287.12 237.6,287.09 238.1,287.07 238.6,287.04 239.1,287.02 239.6,286.99 240.1,286.97 240.6,286.95 241.1,286.92 241.6,286.9 242.1,286.88 242.6,286.85 243.1,286.83 243.6,286.81 244.1,286.79 244.6,286.76 245.1,286.74 245.6,286.72 246.1,286.7 246.6,286.68 247.1,286.66 247.6,286.64 248.1,286.62 248.6,286.6 249.1,286.58 249.6,286.56 250.1,286.54 250.6,286.52 251.1,286.51 251.6,286.49 252.1,286.47 252.6,286.45 253.1,286.44 253.6,286.42 254.1,286.4 254.6,286.39 255.1,286.37 255.6,286.35 256.1,286.34 256.6,286.32 257.1,286.31 257.6,286.29 258.1,286.28 258.6,286.26 259.1,286.25 259.6,286.24 260.1,286.22 260.6,286.21 261.1,286.2 261.6,286.18 262.1,286.17 262.6,286.16 263.1,286.15 263.6,286.13 264.1,286.12 264.6,286.11 265.1,286.1 265.6,286.09 266.1,286.08 266.6,286.07 267.1,286.06 267.6,286.05 268.1,286.04 268.6,286.03 269.1,286.02 269.6,286.01 270.1,286 270.6,285.99 271.1,285.98 271.6,285.97 272.1,285.97 272.6,285.96 273.1,285.95 273.6,285.94 274.1,285.94 274.6,285.93 275.1,285.92 275.6,285.92 276.1,285.91 276.6,285.9 277.1,285.9 277.6,285.89 278.1,285.89 278.6,285.88 279.1,285.87 279.6,285.87 280.1,285.86 280.6,285.86 281.1,285.86 281.6,285.85 282.1,285.85 282.6,285.84 283.1,285.84 283.6,285.84 284.1,285.83 284.6,285.83 285.1,285.83 285.6,285.82 286.1,285.82 286.6,285.82 287.1,285.82 287.6,285.81 288.1,285.81 288.6,285.81 289.1,285.81 289.6,285.81 290.1,285.8 290.6,285.8 291.1,285.8 291.6,285.8 292.1,285.8 292.6,285.8 293.1,285.8 293.6,285.8 294.1,285.8 294.6,285.8 295.1,285.8 295.6,285.8 296.1,285.8 296.6,285.8 297.1,285.81 297.6,285.81 298.1,285.81 298.6,285.82 299.1,285.82 299.6,285.82 300.1,285.83 300.6,285.83 301.1,285.84 301.6,285.84 302.1,285.85 302.6,285.85 303.1,285.86 303.6,285.87 304.1,285.87 304.6,285.88 305.1,285.89 305.6,285.9 306.1,285.91 306.6,285.92 307.1,285.93 307.6,285.94 308.1,285.95 308.6,285.96 309.1,285.97 309.6,285.98 310.1,285.99 310.6,286 311.1,286.02 311.6,286.03 312.1,286.04 312.6,286.05 313.1,286.07 313.6,286.08 314.1,286.1 314.6,286.11 315.1,286.13 315.6,286.14 316.1,286.16 316.6,286.18 317.1,286.19 317.6,286.21 318.1,286.23 318.6,286.25 319.1,286.27 319.6,286.28 320.1,286.3 320.6,286.33 321.1,286.37 321.6,286.43 322.1,286.49 322.6,286.56 323.1,286.65 323.6,286.74 324.1,286.84 324.6,286.95 325.1,287.06 325.6,287.18 326.1,287.31 326.6,287.44 327.1,287.57 327.6,287.71 328.1,287.86 328.6,288 329.1,288.14 329.6,288.29 330.1,288.44 330.6,288.58 331.1,288.73 331.6,288.87 332.1,289.01 332.6,289.14 333.1,289.27 333.6,289.4 334.1,289.52 334.6,289.64 335.1,289.76 335.6,289.88 336.1,290 336.6,290.11 337.1,290.23 337.6,290.36 338.1,290.48 338.6,290.61 339.1,290.74 339.6,290.88 340.1,291.03 340.6,291.18 341.1,291.33 341.6,291.49 342.1,291.65 342.6,291.82 343.1,291.99 343.6,292.16 344.1,292.34 344.6,292.52 345.1,292.7 345.6,292.88 346.1,293.07 346.6,293.26 347.1,293.46 347.6,293.65 348.1,293.85 348.6,294.05 349.1,294.25 349.6,294.46 350.1,294.66 350.6,294.87 351.1,295.08 351.6,295.29 352.1,295.5 352.6,295.71 353.1,295.93 353.6,296.14 354.1,296.36 354.6,296.58 355.1,296.79 355.6,297.01 356.1,297.23 356.6,297.45 357.1,297.67 357.6,297.89 358.1,298.1 358.6,298.32 359.1,298.54 359.6,298.76 360.1,298.97 360.6,299.19 361.1,299.4 361.6,299.61 362.1,299.83 362.6,300.05 363.1,300.28 363.6,300.51 364.1,300.75 364.6,300.99 365.1,301.24 365.6,301.49 366.1,301.75 366.6,302.01 367.1,302.27 367.6,302.54 368.1,302.8 368.6,303.07 369.1,303.34 369.6,303.61 370.1,303.88 370.6,304.15 371.1,304.42 371.6,304.69 372.1,304.96 372.6,305.22 373.1,305.49 373.6,305.75 374.1,306 374.6,306.25 375.1,306.5 375.6,306.74 376.1,306.98 376.6,307.21 377.1,307.44 377.6,307.66 378.1,307.87 378.6,308.07 379.1,308.27 379.6,308.46 380.1,308.64 380.6,308.81 381.1,308.97 381.6,309.11 382.1,309.25 382.6,309.38 383.1,309.5 383.6,309.6 384.1,309.7 384.6,309.79 385.1,309.88 385.6,309.97 386.1,310.06 386.6,310.15 387.1,310.23 387.6,310.32 388.1,310.4 388.6,310.47 389.1,310.55 389.6,310.63 390.1,310.7 390.6,310.77 391.1,310.84 391.6,310.9 392.1,310.97 392.6,311.03 393.1,311.09 393.6,311.15 394.1,311.2 394.6,311.26 395.1,311.31 395.6,311.36 396.1,311.4 396.6,311.45 397.1,311.49 397.6,311.53 398.1,311.57 398.6,311.61 399.1,311.64 399.6,311.68 400.1,311.71 400.6,311.74 401.1,311.76 401.6,311.79 402.1,311.82 402.6,311.85 403.1,311.87 403.6,311.9 404.1,311.92 404.6,311.95 405.1,311.97 405.6,311.99 406.1,312.01 406.6,312.03 407.1,312.04 407.6,312.06 408.1,312.07 408.6,312.08 409.1,312.09 409.6,312.1" fill="none" stroke="#3b7fd9" stroke-width="1.2" stroke-linejoin="round" stroke-linecap="round" />
<polyline points="235.6,287.15 236.1,287.13 236.6,287.1 237.1,287.07 237.6,287.05 238.1,287.02 238.6,287 239.1,286.97 239.6,286.94 240.1,286.92 240.6,286.89 241.1,286.87 241.6,286.85 242.1,286.82 242.6,286.8 243.1,286.78 243.6,286.75 244.1,286.73 244.6,286.71 245.1,286.69 245.6,286.66 246.1,286.64 246.6,286.62 247.1,286.6 247.6,286.58 248.1,286.56 248.6,286.54 249.1,286.52 249.6,286.5 250.1,286.48 250.6,286.46 251.1,286.44 251.6,286.42 252.1,286.4 252.6,286.38 253.1,286.37 253.6,286.35 254.1,286.33 254.6,286.31 255.1,286.3 255.6,286.28 256.1,286.26 256.6,286.24 257.1,286.23 257.6,286.21 258.1,286.2 258.6,286.18 259.1,286.17 259.6,286.15 260.1,286.14 260.6,286.12 261.1,286.11 261.6,286.09 262.1,286.08 262.6,286.06 263.1,286.05 263.6,286.04 264.1,286.02 264.6,286.01 265.1,286 265.6,285.98 266.1,285.97 266.6,285.96 267.1,285.95 267.6,285.94 268.1,285.92 268.6,285.91 269.1,285.9 269.6,285.89 270.1,285.88 270.6,285.87 271.1,285.85 271.6,285.84 272.1,285.83 272.6,285.82 273.1,285.81 273.6,285.8 274.1,285.79 274.6,285.78 275.1,285.77 275.6,285.76 276.1,285.75 276.6,285.74 277.1,285.73 277.6,285.72 278.1,285.71 278.6,285.7 279.1,285.69 279.6,285.68 280.1,285.67 280.6,285.66 281.1,285.65 281.6,285.64 282.1,285.63 282.6,285.62 283.1,285.6 283.6,285.59 284.1,285.58 284.6,285.56 285.1,285.54 285.6,285.53 286.1,285.51 286.6,285.49 287.1,285.47 287.6,285.44 288.1,285.41 288.6,285.38 289.1,285.35 289.6,285.31 290.1,285.27 290.6,285.23 291.1,285.18 291.6,285.12 292.1,285.06 292.6,284.99 293.1,284.91 293.6,284.83 294.1,284.73 294.6,284.63 295.1,284.52 295.6,284.39 296.1,284.25 296.6,284.1 297.1,283.94 297.6,283.75 298.1,283.56 298.6,283.34 299.1,283.11 299.6,282.86 300.1,282.59 300.6,282.3 301.1,281.98 301.6,281.65 302.1,281.29 302.6,280.91 303.1,280.51 303.6,280.08 304.1,279.63 304.6,279.16 305.1,278.66 305.6,278.14 306.1,277.6 306.6,277.04 307.1,276.46 307.6,275.86 308.1,275.25 308.6,274.62 309.1,273.97 309.6,273.32 310.1,272.66 310.6,272 311.1,271.34 311.6,270.67 312.1,270.02 312.6,269.37 313.1,268.73 313.6,268.11 314.1,267.51 314.6,266.93 315.1,266.38 315.6,265.86 316.1,265.38 316.6,264.93 317.1,264.53 317.6,264.17 318.1,263.86 318.6,263.6 319.1,263.4 319.6,263.25 320.1,263.16 320.6,263.14 321.1,263.19 321.6,263.34 322.1,263.58 322.6,263.92 323.1,264.35 323.6,264.86 324.1,265.45 324.6,266.12 325.1,266.84 325.6,267.63 326.1,268.46 326.6,269.34 327.1,270.25 327.6,271.19 328.1,272.15 328.6,273.12 329.1,274.09 329.6,275.07 330.1,276.03 330.6,276.98 331.1,277.91 331.6,278.82 332.1,279.7 332.6,280.55 333.1,281.37 333.6,282.14 334.1,282.88 334.6,283.58 335.1,284.25 335.6,284.87 336.1,285.47 336.6,286.02 337.1,286.55 337.6,287.04 338.1,287.51 338.6,287.95 339.1,288.37 339.6,288.76 340.1,289.13 340.6,289.49 341.1,289.83 341.6,290.15 342.1,290.46 342.6,290.75 343.1,291.04 343.6,291.31 344.1,291.57 344.6,291.83 345.1,292.08 345.6,292.32 346.1,292.56 346.6,292.8 347.1,293.03 347.6,293.26 348.1,293.49 348.6,293.71 349.1,293.94 349.6,294.16 350.1,294.39 350.6,294.61 351.1,294.83 351.6,295.05 352.1,295.28 352.6,295.5 353.1,295.72 353.6,295.95 354.1,296.17 354.6,296.39 355.1,296.61 355.6,296.84 356.1,297.06 356.6,297.28 357.1,297.51 357.6,297.73 358.1,297.95 358.6,298.17 359.1,298.4 359.6,298.62 360.1,298.84 360.6,299.05 361.1,299.27 361.6,299.49 362.1,299.7 362.6,299.93 363.1,300.16 363.6,300.39 364.1,300.63 364.6,300.88 365.1,301.13 365.6,301.39 366.1,301.64 366.6,301.91 367.1,302.17 367.6,302.44 368.1,302.71 368.6,302.98 369.1,303.25 369.6,303.52 370.1,303.8 370.6,304.07 371.1,304.34 371.6,304.61 372.1,304.88 372.6,305.14 373.1,305.41 373.6,305.67 374.1,305.93 374.6,306.18 375.1,306.43 375.6,306.67 376.1,306.91 376.6,307.14 377.1,307.37 377.6,307.59 378.1,307.8 378.6,308.01 379.1,308.21 379.6,308.4 380.1,308.58 380.6,308.75 381.1,308.91 381.6,309.06 382.1,309.2 382.6,309.32 383.1,309.44 383.6,309.54 384.1,309.64 384.6,309.74 385.1,309.83 385.6,309.92 386.1,310.01 386.6,310.1 387.1,310.18 387.6,310.27 388.1,310.35 388.6,310.43 389.1,310.5 389.6,310.58 390.1,310.65 390.6,310.72 391.1,310.79 391.6,310.86 392.1,310.92 392.6,310.99 393.1,311.05 393.6,311.11 394.1,311.16 394.6,311.22 395.1,311.27 395.6,311.32 396.1,311.37 396.6,311.41 397.1,311.45 397.6,311.5 398.1,311.54 398.6,311.57 399.1,311.61 399.6,311.64 400.1,311.67 400.6,311.7 401.1,311.73 401.6,311.76 402.1,311.79 402.6,311.81 403.1,311.84 403.6,311.87 404.1,311.89 404.6,311.92 405.1,311.94 405.6,311.96 406.1,311.98 406.6,312 407.1,312.02 407.6,312.03 408.1,312.04 408.6,312.05 409.1,312.06 409.6,312.07" fill="none" stroke="#2fae4a" stroke-width="1.2" stroke-linejoin="round" stroke-linecap="round" />
<polyline points="235.6,287.13 236.1,287.1 236.6,287.07 237.1,287.05 237.6,287.02 238.1,286.99 238.6,286.97 239.1,286.94 239.6,286.92 240.1,286.89 240.6,286.87 241.1,286.84 241.6,286.82 242.1,286.79 242.6,286.77 243.1,286.75 243.6,286.72 244.1,286.7 244.6,286.68 245.1,286.66 245.6,286.63 246.1,286.61 246.6,286.59 247.1,286.57 247.6,286.55 248.1,286.53 248.6,286.51 249.1,286.49 249.6,286.47 250.1,286.45 250.6,286.43 251.1,286.41 251.6,286.39 252.1,286.37 252.6,286.35 253.1,286.34 253.6,286.32 254.1,286.3 254.6,286.28 255.1,286.27 255.6,286.25 256.1,286.23 256.6,286.22 257.1,286.2 257.6,286.18 258.1,286.17 258.6,286.15 259.1,286.14 259.6,286.12 260.1,286.11 260.6,286.09 261.1,286.08 261.6,286.07 262.1,286.05 262.6,286.04 263.1,286.02 263.6,286.01 264.1,286 264.6,285.99 265.1,285.97 265.6,285.96 266.1,285.95 266.6,285.94 267.1,285.92 267.6,285.91 268.1,285.9 268.6,285.89 269.1,285.88 269.6,285.87 270.1,285.86 270.6,285.85 271.1,285.84 271.6,285.83 272.1,285.82 272.6,285.81 273.1,285.8 273.6,285.79 274.1,285.78 274.6,285.77 275.1,285.76 275.6,285.75 276.1,285.75 276.6,285.74 277.1,285.73 277.6,285.72 278.1,285.71 278.6,285.71 279.1,285.7 279.6,285.69 280.1,285.68 280.6,285.68 281.1,285.67 281.6,285.66 282.1,285.66 282.6,285.65 283.1,285.64 283.6,285.64 284.1,285.63 284.6,285.63 285.1,285.62 285.6,285.61 286.1,285.61 286.6,285.6 287.1,285.6 287.6,285.59 288.1,285.59 288.6,285.58 289.1,285.58 289.6,285.57 290.1,285.57 290.6,285.56 291.1,285.56 291.6,285.56 292.1,285.55 292.6,285.55 293.1,285.54 293.6,285.54 294.1,285.53 294.6,285.53 295.1,285.53 295.6,285.52 296.1,285.52 296.6,285.52 297.1,285.51 297.6,285.51 298.1,285.51 298.6,285.51 299.1,285.51 299.6,285.51 300.1,285.5 300.6,285.5 301.1,285.5 301.6,285.5 302.1,285.5 302.6,285.5 303.1,285.5 303.6,285.5 304.1,285.5 304.6,285.5 305.1,285.51 305.6,285.51 306.1,285.51 306.6,285.51 307.1,285.51 307.6,285.51 308.1,285.51 308.6,285.52 309.1,285.52 309.6,285.52 310.1,285.52 310.6,285.53 311.1,285.53 311.6,285.53 312.1,285.53 312.6,285.54 313.1,285.54 313.6,285.54 314.1,285.54 314.6,285.55 315.1,285.55 315.6,285.55 316.1,285.55 316.6,285.56 317.1,285.56 317.6,285.56 318.1,285.56 318.6,285.57 319.1,285.57 319.6,285.57 320.1,285.57 320.6,285.58 321.1,285.6 321.6,285.63 322.1,285.67 322.6,285.73 323.1,285.79 323.6,285.85 324.1,285.93 324.6,286.01 325.1,286.1 325.6,286.19 326.1,286.29 326.6,286.39 327.1,286.49 327.6,286.6 328.1,286.7 328.6,286.81 329.1,286.92 329.6,287.02 330.1,287.13 330.6,287.23 331.1,287.32 331.6,287.42 332.1,287.5 332.6,287.58 333.1,287.65 333.6,287.72 334.1,287.77 334.6,287.81 335.1,287.85 335.6,287.88 336.1,287.91 336.6,287.93 337.1,287.93 337.6,287.93 338.1,287.92 338.6,287.9 339.1,287.87 339.6,287.82 340.1,287.76 340.6,287.68 341.1,287.57 341.6,287.44 342.1,287.27 342.6,287.06 343.1,286.82 343.6,286.52 344.1,286.18 344.6,285.78 345.1,285.32 345.6,284.79 346.1,284.2 346.6,283.53 347.1,282.78 347.6,281.95 348.1,281.04 348.6,280.05 349.1,278.97 349.6,277.82 350.1,276.59 350.6,275.29 351.1,273.93 351.6,272.51 352.1,271.05 352.6,269.57 353.1,268.08 353.6,266.61 354.1,265.17 354.6,263.81 355.1,262.55 355.6,261.42 356.1,260.46 356.6,259.71 357.1,259.19 357.6,258.93 358.1,258.95 358.6,259.32 359.1,260.2 359.6,261.52 360.1,263.24 360.6,265.27 361.1,267.53 361.6,269.94 362.1,272.42 362.6,274.92 363.1,277.39 363.6,279.8 364.1,282.11 364.6,284.29 365.1,286.35 365.6,288.26 366.1,290.02 366.6,291.64 367.1,293.11 367.6,294.45 368.1,295.65 368.6,296.74 369.1,297.71 369.6,298.6 370.1,299.39 370.6,300.11 371.1,300.76 371.6,301.36 372.1,301.91 372.6,302.42 373.1,302.89 373.6,303.34 374.1,303.75 374.6,304.14 375.1,304.52 375.6,304.87 376.1,305.21 376.6,305.54 377.1,305.85 377.6,306.14 378.1,306.43 378.6,306.7 379.1,306.95 379.6,307.2 380.1,307.43 380.6,307.65 381.1,307.86 381.6,308.05 382.1,308.23 382.6,308.4 383.1,308.55 383.6,308.69 384.1,308.82 384.6,308.94 385.1,309.07 385.6,309.19 386.1,309.3 386.6,309.41 387.1,309.52 387.6,309.63 388.1,309.73 388.6,309.83 389.1,309.93 389.6,310.02 390.1,310.11 390.6,310.2 391.1,310.28 391.6,310.36 392.1,310.44 392.6,310.52 393.1,310.6 393.6,310.67 394.1,310.74 394.6,310.8 395.1,310.86 395.6,310.93 396.1,310.98 396.6,311.04 397.1,311.09 397.6,311.14 398.1,311.19 398.6,311.24 399.1,311.28 399.6,311.32 400.1,311.36 400.6,311.4 401.1,311.43 401.6,311.47 402.1,311.51 402.6,311.54 403.1,311.57 403.6,311.61 404.1,311.64 404.6,311.67 405.1,311.69 405.6,311.72 406.1,311.75 406.6,311.77 407.1,311.79 407.6,311.81 408.1,311.83 408.6,311.84 409.1,311.86 409.6,311.87" fill="none" stroke="#d9a21b" stroke-width="1.2" stroke-linejoin="round" stroke-linecap="round" />
<polyline points="235.6,286.83 236.1,286.8 236.6,286.77 237.1,286.74 237.6,286.72 238.1,286.69 238.6,286.66 239.1,286.63 239.6,286.6 240.1,286.58 240.6,286.55 241.1,286.52 241.6,286.5 242.1,286.47 242.6,286.44 243.1,286.42 243.6,286.39 244.1,286.37 244.6,286.34 245.1,286.32 245.6,286.29 246.1,286.27 246.6,286.24 247.1,286.22 247.6,286.19 248.1,286.17 248.6,286.15 249.1,286.12 249.6,286.1 250.1,286.08 250.6,286.06 251.1,286.03 251.6,286.01 252.1,285.99 252.6,285.97 253.1,285.95 253.6,285.93 254.1,285.91 254.6,285.89 255.1,285.86 255.6,285.84 256.1,285.82 256.6,285.8 257.1,285.78 257.6,285.77 258.1,285.75 258.6,285.73 259.1,285.71 259.6,285.69 260.1,285.67 260.6,285.65 261.1,285.63 261.6,285.62 262.1,285.6 262.6,285.58 263.1,285.56 263.6,285.54 264.1,285.53 264.6,285.51 265.1,285.49 265.6,285.48 266.1,285.46 266.6,285.44 267.1,285.43 267.6,285.41 268.1,285.39 268.6,285.38 269.1,285.36 269.6,285.35 270.1,285.33 270.6,285.31 271.1,285.3 271.6,285.28 272.1,285.27 272.6,285.25 273.1,285.24 273.6,285.22 274.1,285.21 274.6,285.19 275.1,285.18 275.6,285.16 276.1,285.15 276.6,285.13 277.1,285.12 277.6,285.11 278.1,285.09 278.6,285.08 279.1,285.06 279.6,285.05 280.1,285.03 280.6,285.02 281.1,285.01 281.6,284.99 282.1,284.98 282.6,284.96 283.1,284.95 283.6,284.94 284.1,284.92 284.6,284.91 285.1,284.89 285.6,284.88 286.1,284.87 286.6,284.85 287.1,284.84 287.6,284.82 288.1,284.81 288.6,284.79 289.1,284.78 289.6,284.76 290.1,284.75 290.6,284.74 291.1,284.72 291.6,284.71 292.1,284.69 292.6,284.68 293.1,284.66 293.6,284.65 294.1,284.63 294.6,284.61 295.1,284.6 295.6,284.58 296.1,284.57 296.6,284.55 297.1,284.54 297.6,284.52 298.1,284.51 298.6,284.49 299.1,284.48 299.6,284.46 300.1,284.44 300.6,284.43 301.1,284.41 301.6,284.4 302.1,284.38 302.6,284.37 303.1,284.35 303.6,284.33 304.1,284.32 304.6,284.3 305.1,284.28 305.6,284.27 306.1,284.25 306.6,284.23 307.1,284.21 307.6,284.19 308.1,284.18 308.6,284.16 309.1,284.14 309.6,284.12 310.1,284.1 310.6,284.08 311.1,284.06 311.6,284.04 312.1,284.02 312.6,283.99 313.1,283.97 313.6,283.95 314.1,283.92 314.6,283.9 315.1,283.87 315.6,283.85 316.1,283.82 316.6,283.79 317.1,283.76 317.6,283.73 318.1,283.7 318.6,283.67 319.1,283.64 319.6,283.6 320.1,283.57 320.6,283.54 321.1,283.52 321.6,283.51 322.1,283.52 322.6,283.53 323.1,283.54 323.6,283.57 324.1,283.6 324.6,283.63 325.1,283.67 325.6,283.72 326.1,283.76 326.6,283.81 327.1,283.86 327.6,283.91 328.1,283.96 328.6,284.01 329.1,284.06 329.6,284.1 330.1,284.14 330.6,284.18 331.1,284.21 331.6,284.23 332.1,284.25 332.6,284.25 333.1,284.25 333.6,284.24 334.1,284.22 334.6,284.19 335.1,284.15 335.6,284.1 336.1,284.05 336.6,283.99 337.1,283.92 337.6,283.85 338.1,283.77 338.6,283.69 339.1,283.6 339.6,283.51 340.1,283.41 340.6,283.3 341.1,283.19 341.6,283.06 342.1,282.93 342.6,282.78 343.1,282.62 343.6,282.44 344.1,282.25 344.6,282.04 345.1,281.82 345.6,281.57 346.1,281.29 346.6,281 347.1,280.67 347.6,280.32 348.1,279.93 348.6,279.51 349.1,279.05 349.6,278.55 350.1,278 350.6,277.4 351.1,276.75 351.6,276.04 352.1,275.26 352.6,274.42 353.1,273.5 353.6,272.51 354.1,271.43 354.6,270.25 355.1,268.98 355.6,267.6 356.1,266.11 356.6,264.5 357.1,262.76 357.6,260.89 358.1,258.88 358.6,256.73 359.1,254.43 359.6,251.98 360.1,249.39 360.6,246.65 361.1,243.78 361.6,240.8 362.1,237.72 362.6,234.59 363.1,231.44 363.6,228.33 364.1,225.3 364.6,222.43 365.1,219.8 365.6,217.46 366.1,215.52 366.6,214.03 367.1,213.06 367.6,212.66 368.1,212.85 368.6,213.74 369.1,215.33 369.6,217.56 370.1,220.33 370.6,223.56 371.1,227.13 371.6,230.94 372.1,234.89 372.6,238.89 373.1,242.88 373.6,246.79 374.1,250.59 374.6,254.25 375.1,257.73 375.6,261.04 376.1,264.16 376.6,267.09 377.1,269.84 377.6,272.41 378.1,274.8 378.6,277.04 379.1,279.12 379.6,281.05 380.1,282.84 380.6,284.51 381.1,286.06 381.6,287.49 382.1,288.82 382.6,290.05 383.1,291.19 383.6,292.24 384.1,293.22 384.6,294.14 385.1,294.99 385.6,295.79 386.1,296.55 386.6,297.25 387.1,297.92 387.6,298.54 388.1,299.13 388.6,299.69 389.1,300.21 389.6,300.71 390.1,301.18 390.6,301.62 391.1,302.04 391.6,302.44 392.1,302.82 392.6,303.18 393.1,303.52 393.6,303.85 394.1,304.16 394.6,304.45 395.1,304.73 395.6,305 396.1,305.26 396.6,305.5 397.1,305.73 397.6,305.95 398.1,306.16 398.6,306.36 399.1,306.55 399.6,306.74 400.1,306.91 400.6,307.08 401.1,307.24 401.6,307.39 402.1,307.54 402.6,307.69 403.1,307.83 403.6,307.96 404.1,308.09 404.6,308.21 405.1,308.33 405.6,308.44 406.1,308.55 406.6,308.65 407.1,308.75 407.6,308.85 408.1,308.93 408.6,309.02 409.1,309.1 409.6,309.17" fill="none" stroke="#b36bf2" stroke-width="1.2" stroke-linejoin="round" stroke-linecap="round" />
<polyline points="235.6,286.71 236.1,286.68 236.6,286.65 237.1,286.62 237.6,286.59 238.1,286.56 238.6,286.53 239.1,286.5 239.6,286.48 240.1,286.45 240.6,286.42 241.1,286.39 241.6,286.36 242.1,286.33 242.6,286.31 243.1,286.28 243.6,286.25 244.1,286.23 244.6,286.2 245.1,286.17 245.6,286.15 246.1,286.12 246.6,286.09 247.1,286.07 247.6,286.04 248.1,286.02 248.6,285.99 249.1,285.97 249.6,285.94 250.1,285.92 250.6,285.9 251.1,285.87 251.6,285.85 252.1,285.82 252.6,285.8 253.1,285.78 253.6,285.75 254.1,285.73 254.6,285.71 255.1,285.69 255.6,285.66 256.1,285.64 256.6,285.62 257.1,285.6 257.6,285.58 258.1,285.55 258.6,285.53 259.1,285.51 259.6,285.49 260.1,285.47 260.6,285.45 261.1,285.43 261.6,285.41 262.1,285.39 262.6,285.36 263.1,285.34 263.6,285.32 264.1,285.3 264.6,285.28 265.1,285.26 265.6,285.24 266.1,285.22 266.6,285.2 267.1,285.18 267.6,285.16 268.1,285.14 268.6,285.12 269.1,285.1 269.6,285.08 270.1,285.06 270.6,285.05 271.1,285.03 271.6,285.01 272.1,284.99 272.6,284.97 273.1,284.95 273.6,284.93 274.1,284.91 274.6,284.89 275.1,284.87 275.6,284.85 276.1,284.83 276.6,284.81 277.1,284.79 277.6,284.77 278.1,284.75 278.6,284.73 279.1,284.7 279.6,284.68 280.1,284.66 280.6,284.64 281.1,284.62 281.6,284.59 282.1,284.57 282.6,284.54 283.1,284.52 283.6,284.49 284.1,284.47 284.6,284.44 285.1,284.41 285.6,284.38 286.1,284.34 286.6,284.31 287.1,284.27 287.6,284.23 288.1,284.19 288.6,284.14 289.1,284.09 289.6,284.04 290.1,283.98 290.6,283.92 291.1,283.85 291.6,283.78 292.1,283.7 292.6,283.61 293.1,283.52 293.6,283.41 294.1,283.3 294.6,283.17 295.1,283.04 295.6,282.89 296.1,282.73 296.6,282.56 297.1,282.37 297.6,282.17 298.1,281.95 298.6,281.71 299.1,281.46 299.6,281.18 300.1,280.88 300.6,280.57 301.1,280.23 301.6,279.86 302.1,279.48 302.6,279.07 303.1,278.64 303.6,278.18 304.1,277.7 304.6,277.2 305.1,276.67 305.6,276.12 306.1,275.54 306.6,274.95 307.1,274.33 307.6,273.7 308.1,273.04 308.6,272.38 309.1,271.7 309.6,271.01 310.1,270.31 310.6,269.6 311.1,268.89 311.6,268.19 312.1,267.48 312.6,266.79 313.1,266.1 313.6,265.43 314.1,264.78 314.6,264.15 315.1,263.54 315.6,262.97 316.1,262.43 316.6,261.92 317.1,261.46 317.6,261.04 318.1,260.67 318.6,260.34 319.1,260.07 319.6,259.85 320.1,259.69 320.6,259.59 321.1,259.56 321.6,259.63 322.1,259.79 322.6,260.05 323.1,260.39 323.6,260.81 324.1,261.3 324.6,261.87 325.1,262.5 325.6,263.18 326.1,263.9 326.6,264.67 327.1,265.46 327.6,266.28 328.1,267.11 328.6,267.94 329.1,268.78 329.6,269.61 330.1,270.43 330.6,271.22 331.1,271.99 331.6,272.73 332.1,273.44 332.6,274.1 333.1,274.72 333.6,275.3 334.1,275.82 334.6,276.3 335.1,276.73 335.6,277.11 336.1,277.43 336.6,277.71 337.1,277.94 337.6,278.12 338.1,278.25 338.6,278.32 339.1,278.35 339.6,278.33 340.1,278.25 340.6,278.11 341.1,277.92 341.6,277.67 342.1,277.35 342.6,276.96 343.1,276.49 343.6,275.95 344.1,275.33 344.6,274.62 345.1,273.82 345.6,272.92 346.1,271.91 346.6,270.8 347.1,269.57 347.6,268.23 348.1,266.76 348.6,265.17 349.1,263.46 349.6,261.62 350.1,259.65 350.6,257.56 351.1,255.35 351.6,253.02 352.1,250.59 352.6,248.06 353.1,245.45 353.6,242.77 354.1,240.05 354.6,237.3 355.1,234.55 355.6,231.83 356.1,229.17 356.6,226.59 357.1,224.12 357.6,221.78 358.1,219.58 358.6,217.58 359.1,215.94 359.6,214.61 360.1,213.52 360.6,212.6 361.1,211.78 361.6,210.99 362.1,210.19 362.6,209.34 363.1,208.44 363.6,207.5 364.1,206.55 364.6,205.63 365.1,204.8 365.6,204.13 366.1,203.69 366.6,203.56 367.1,203.8 367.6,204.47 368.1,205.6 368.6,207.31 369.1,209.61 369.6,212.45 370.1,215.75 370.6,219.43 371.1,223.39 371.6,227.52 372.1,231.76 372.6,236.01 373.1,240.21 373.6,244.31 374.1,248.27 374.6,252.06 375.1,255.67 375.6,259.09 376.1,262.32 376.6,265.34 377.1,268.18 377.6,270.82 378.1,273.29 378.6,275.59 379.1,277.74 379.6,279.73 380.1,281.58 380.6,283.29 381.1,284.89 381.6,286.37 382.1,287.74 382.6,289.01 383.1,290.19 383.6,291.28 384.1,292.29 384.6,293.24 385.1,294.12 385.6,294.95 386.1,295.73 386.6,296.47 387.1,297.16 387.6,297.81 388.1,298.42 388.6,298.99 389.1,299.54 389.6,300.05 390.1,300.54 390.6,301 391.1,301.44 391.6,301.86 392.1,302.25 392.6,302.63 393.1,302.99 393.6,303.33 394.1,303.65 394.6,303.96 395.1,304.25 395.6,304.53 396.1,304.8 396.6,305.05 397.1,305.29 397.6,305.53 398.1,305.75 398.6,305.96 399.1,306.16 399.6,306.35 400.1,306.53 400.6,306.71 401.1,306.88 401.6,307.04 402.1,307.2 402.6,307.35 403.1,307.49 403.6,307.63 404.1,307.77 404.6,307.9 405.1,308.02 405.6,308.14 406.1,308.25 406.6,308.36 407.1,308.47 407.6,308.57 408.1,308.66 408.6,308.75 409.1,308.84 409.6,308.92" fill="none" stroke="#f0303a" stroke-width="1.1" stroke-linejoin="round" stroke-linecap="round" />
<rect x="235.6" y="188.1" width="174.2" height="140.9" fill="none" stroke="#727272" stroke-width="1.2"/>
<line x1="235.6" y1="329" x2="235.6" y2="331.4" stroke="#727272" stroke-width="0.9"/>
<text x="235.6" y="340" font-family="&quot;Liberation Sans&quot;, sans-serif" font-size="8.5" fill="#333" stroke="#333" stroke-width="0.22" text-anchor="middle" >296</text>
<line x1="247.22" y1="329" x2="247.22" y2="330.3" stroke="#727272" stroke-width="0.9"/>
<line x1="258.84" y1="329" x2="258.84" y2="331.4" stroke="#727272" stroke-width="0.9"/>
<text x="258.84" y="340" font-family="&quot;Liberation Sans&quot;, sans-serif" font-size="8.5" fill="#333" stroke="#333" stroke-width="0.22" text-anchor="middle" >294</text>
<line x1="270.46" y1="329" x2="270.46" y2="330.3" stroke="#727272" stroke-width="0.9"/>
<line x1="282.08" y1="329" x2="282.08" y2="331.4" stroke="#727272" stroke-width="0.9"/>
<text x="282.08" y="340" font-family="&quot;Liberation Sans&quot;, sans-serif" font-size="8.5" fill="#333" stroke="#333" stroke-width="0.22" text-anchor="middle" >292</text>
<line x1="293.7" y1="329" x2="293.7" y2="330.3" stroke="#727272" stroke-width="0.9"/>
<line x1="305.32" y1="329" x2="305.32" y2="331.4" stroke="#727272" stroke-width="0.9"/>
<text x="305.32" y="340" font-family="&quot;Liberation Sans&quot;, sans-serif" font-size="8.5" fill="#333" stroke="#333" stroke-width="0.22" text-anchor="middle" >290</text>
<line x1="316.94" y1="329" x2="316.94" y2="330.3" stroke="#727272" stroke-width="0.9"/>
<line x1="328.56" y1="329" x2="328.56" y2="331.4" stroke="#727272" stroke-width="0.9"/>
<text x="328.56" y="340" font-family="&quot;Liberation Sans&quot;, sans-serif" font-size="8.5" fill="#333" stroke="#333" stroke-width="0.22" text-anchor="middle" >288</text>
<line x1="340.18" y1="329" x2="340.18" y2="330.3" stroke="#727272" stroke-width="0.9"/>
<line x1="351.8" y1="329" x2="351.8" y2="331.4" stroke="#727272" stroke-width="0.9"/>
<text x="351.8" y="340" font-family="&quot;Liberation Sans&quot;, sans-serif" font-size="8.5" fill="#333" stroke="#333" stroke-width="0.22" text-anchor="middle" >286</text>
<line x1="363.42" y1="329" x2="363.42" y2="330.3" stroke="#727272" stroke-width="0.9"/>
<line x1="375.04" y1="329" x2="375.04" y2="331.4" stroke="#727272" stroke-width="0.9"/>
<text x="375.04" y="340" font-family="&quot;Liberation Sans&quot;, sans-serif" font-size="8.5" fill="#333" stroke="#333" stroke-width="0.22" text-anchor="middle" >284</text>
<line x1="386.66" y1="329" x2="386.66" y2="330.3" stroke="#727272" stroke-width="0.9"/>
<line x1="398.28" y1="329" x2="398.28" y2="331.4" stroke="#727272" stroke-width="0.9"/>
<text x="398.28" y="340" font-family="&quot;Liberation Sans&quot;, sans-serif" font-size="8.5" fill="#333" stroke="#333" stroke-width="0.22" text-anchor="middle" >282</text>
<text x="323" y="354.4" font-family="&quot;Liberation Sans&quot;, sans-serif" font-size="9.4" fill="#333" stroke="#333" stroke-width="0.22" text-anchor="middle" >Binding energy (eV)</text>
<text x="229.9" y="258" font-family="&quot;Liberation Sans&quot;, sans-serif" font-size="9.4" fill="#333" stroke="#333" stroke-width="0.22" text-anchor="middle" transform="rotate(-90 229.9 258)">Intensity (a.u.)</text>
<text x="216" y="193.7" font-family="&quot;Liberation Serif&quot;, serif" font-size="21" fill="#111" stroke="#111" stroke-width="0.25" text-anchor="start" >c</text>
<text x="239.5" y="198.3" font-family="&quot;Liberation Sans&quot;, sans-serif" font-size="7.6" fill="#333" stroke="#333" stroke-width="0.22" text-anchor="start" >C 1s</text>
<text x="299.2" y="252.3" font-family="&quot;Liberation Sans&quot;, sans-serif" font-size="7.5" fill="#333" stroke="#333" stroke-width="0.22" text-anchor="middle" >C=O/O-C=O</text>
<text x="339.4" y="253.6" font-family="&quot;Liberation Sans&quot;, sans-serif" font-size="7.4" fill="#333" stroke="#333" stroke-width="0.22" text-anchor="start" >sp<tspan font-size="4.6" dy="-2.6">3</tspan></text>
<text x="372.9" y="212.3" font-family="&quot;Liberation Sans&quot;, sans-serif" font-size="7.4" fill="#333" stroke="#333" stroke-width="0.22" text-anchor="start" >sp<tspan font-size="4.6" dy="-2.6">2</tspan></text>
<polyline points="28.9,460.63 29.4,459.62 29.9,459.67 30.4,458.98 30.9,458.63 31.4,458.98 31.9,458.21 32.4,457.88 32.9,458.48 33.4,460.42 33.9,459.27 34.4,459.13 34.9,458.46 35.4,458.37 35.9,458.02 36.4,458.13 36.9,458.25 37.4,458.56 37.9,458.93 38.4,459.05 38.9,458.98 39.4,457.58 39.9,457.3 40.4,456.61 40.9,456.33 41.4,455.66 41.9,456.1 42.4,455.3 42.9,455.77 43.4,455.7 43.9,454.26 44.4,454.08 44.9,453.34 45.4,452.62 45.9,452.4 46.4,451.56 46.9,450.93 47.4,449.52 47.9,446.62 48.4,445.68 48.9,445.22 49.4,444.63 49.9,443.59 50.4,443.26 50.9,442.45 51.4,441.63 51.9,440.36 52.4,440.32 52.9,439.28 53.4,440.13 53.9,438.9 54.4,438.28 54.9,437.37 55.4,437.02 55.9,436.8 56.4,436.17 56.9,436.69 57.4,435.08 57.9,434.27 58.4,434.19 58.9,432.03 59.4,430.77 59.9,429.66 60.4,430.25 60.9,430.41 61.4,430.55 61.9,430.73 62.4,431.69 62.9,432.67 63.4,431.43 63.9,431.97 64.4,431.92 64.9,432.41 65.4,432.54 65.9,434.92 66.4,435.6 66.9,436.27 67.4,435.66 67.9,434.86 68.4,436.01 68.9,436.88 69.4,438.92 69.9,440.81 70.4,442.01 70.9,442.24 71.4,442.09 71.9,443.33 72.4,443.38 72.9,443.66 73.4,444.89 73.9,445.61 74.4,446.11 74.9,446.13 75.4,446.52 75.9,448.25 76.4,448.27 76.9,448.44 77.4,448.36 77.9,448.2 78.4,449.02 78.9,448.78 79.4,448.34 79.9,445.04 80.4,444.35 80.9,442.65 81.4,441.56 81.9,439.95 82.4,438.55 82.9,438.51 83.4,436.88 83.9,435.34 84.4,435.1 84.9,435.47 85.4,435.29 85.9,434.53 86.4,432.91 86.9,433.62 87.4,432.14 87.9,432.87 88.4,431.85 88.9,431.37 89.4,429.1 89.9,427.99 90.4,427.29 90.9,427.49 91.4,428.51 91.9,429.46 92.4,432.96 92.9,435.41 93.4,437.53 93.9,440.75 94.4,444.33 94.9,448.31 95.4,450.99 95.9,453.77 96.4,456.82 96.9,459.41 97.4,462.15 97.9,464.26 98.4,465.6 98.9,466.98 99.4,468.33 99.9,469.3 100.4,470.49 100.9,471.8 101.4,472.41 101.9,472.9 102.4,473.6 102.9,473.15 103.4,474.88 103.9,474.71 104.4,476.61 104.9,476.54 105.4,476.84 105.9,476.34 106.4,476.33 106.9,477.82 107.4,477.95 107.9,477.87 108.4,477.44 108.9,477.57 109.4,477.62 109.9,477.45 110.4,476.35 110.9,475.84 111.4,475.72 111.9,476.65 112.4,476 112.9,474.9 113.4,474.01 113.9,472.07 114.4,471.15 114.9,470.63 115.4,469.42 115.9,469.79 116.4,469.18 116.9,468.84 117.4,468.35 117.9,468.24 118.4,467.68 118.9,465.92 119.4,465.12 119.9,465.09 120.4,463.55 120.9,462.82 121.4,463.41 121.9,463.26 122.4,463.39 122.9,462.99 123.4,462.67 123.9,461.49 124.4,460.52 124.9,460.22 125.4,460.54 125.9,460.4 126.4,459.94 126.9,459.61 127.4,457.99 127.9,458.76 128.4,458.45 128.9,457.72 129.4,455.92 129.9,456.02 130.4,454.35 130.9,452.68 131.4,451.88 131.9,450.78 132.4,449.45 132.9,448.14 133.4,445.64 133.9,443.35 134.4,441.93 134.9,440.2 135.4,437.74 135.9,436.92 136.4,434.81 136.9,435.25 137.4,434.59 137.9,433.77 138.4,433.91 138.9,433.34 139.4,431.06 139.9,428.74 140.4,427.86 140.9,427.95 141.4,426.42 141.9,427.62 142.4,428.43 142.9,429.76 143.4,430.9 143.9,431.9 144.4,433.25 144.9,433.94 145.4,434.51 145.9,437.42 146.4,438.79 146.9,441.97 147.4,443.44 147.9,444.99 148.4,445.82 148.9,447.39 149.4,448.13 149.9,449.46 150.4,449.95 150.9,451.39 151.4,451.02 151.9,452.35 152.4,452.29 152.9,452.06 153.4,451.37 153.9,451.21 154.4,449.66 154.9,448.55 155.4,447.74 155.9,444.82 156.4,443.96 156.9,441.47 157.4,439.95 157.9,437.73 158.4,434.81 158.9,430.57 159.4,426.13 159.9,421.83 160.4,418.06 160.9,413.95 161.4,410.13 161.9,406.61 162.4,403.95 162.9,401.14 163.4,400.09 163.9,398.57 164.4,396.62 164.9,395.49 165.4,394.17 165.9,392.53 166.4,392.06 166.9,391.52 167.4,391.62 167.9,394.41 168.4,397.66 168.9,401.99 169.4,406.23 169.9,411.81 170.4,417.16 170.9,423.18 171.4,429.18 171.9,435.6 172.4,441.25 172.9,446.2 173.4,450.85 173.9,454.89 174.4,458.9 174.9,463.74 175.4,466.31 175.9,470.8 176.4,473.79 176.9,476.36 177.4,477.46 177.9,479.91 178.4,481.97 178.9,483.31 179.4,484.35 179.9,486.08 180.4,486.31 180.9,487.24 181.4,486.89 181.9,488.54 182.4,488.65 182.9,489.03 183.4,489.88 183.9,490.19 184.4,490.98 184.9,491.51 185.4,491.03 185.9,491.61 186.4,490.78 186.9,491.27 187.4,492.46 187.9,491.89 188.4,494.3 188.9,495.72 189.4,495.54 189.9,496.16 190.4,496.39 190.9,497.01 191.4,496.1 191.9,495.8 192.4,495.86 192.9,495.35 193.4,495.04 193.9,494.48 194.4,494.89 194.9,494.2 195.4,495.56 195.9,495.38 196.4,495.81 196.9,496.83 197.4,496.95 197.9,495.78 198.4,495.98 198.9,494.32 199.4,493.58 199.9,493.98 200.4,494.04 200.9,495.68 201.4,496.44 201.9,498.33 202.4,498.39 202.9,498.62 203.4,499.08" fill="none" stroke="#333" stroke-width="1.1" stroke-linejoin="round" stroke-linecap="round" />
<polyline points="28.9,459.6 29.4,459.61 29.9,459.61 30.4,459.62 30.9,459.62 31.4,459.63 31.9,459.64 32.4,459.65 32.9,459.67 33.4,459.68 33.9,459.7 34.4,459.71 34.9,459.73 35.4,459.75 35.9,459.77 36.4,459.79 36.9,459.81 37.4,459.83 37.9,459.85 38.4,459.88 38.9,459.9 39.4,459.93 39.9,459.95 40.4,459.98 40.9,460.01 41.4,460.03 41.9,460.06 42.4,460.09 42.9,460.12 43.4,460.15 43.9,460.18 44.4,460.22 44.9,460.25 45.4,460.28 45.9,460.31 46.4,460.35 46.9,460.38 47.4,460.41 47.9,460.45 48.4,460.49 48.9,460.54 49.4,460.59 49.9,460.65 50.4,460.7 50.9,460.77 51.4,460.83 51.9,460.9 52.4,460.97 52.9,461.05 53.4,461.13 53.9,461.21 54.4,461.29 54.9,461.38 55.4,461.47 55.9,461.56 56.4,461.65 56.9,461.75 57.4,461.84 57.9,461.94 58.4,462.04 58.9,462.14 59.4,462.24 59.9,462.34 60.4,462.45 60.9,462.55 61.4,462.65 61.9,462.76 62.4,462.86 62.9,462.97 63.4,463.07 63.9,463.17 64.4,463.28 64.9,463.38 65.4,463.48 65.9,463.59 66.4,463.7 66.9,463.81 67.4,463.93 67.9,464.05 68.4,464.17 68.9,464.29 69.4,464.42 69.9,464.55 70.4,464.68 70.9,464.81 71.4,464.94 71.9,465.07 72.4,465.2 72.9,465.34 73.4,465.47 73.9,465.6 74.4,465.74 74.9,465.87 75.4,466 75.9,466.14 76.4,466.27 76.9,466.4 77.4,466.52 77.9,466.65 78.4,466.78 78.9,466.9 79.4,467.02 79.9,467.14 80.4,467.26 80.9,467.39 81.4,467.51 81.9,467.63 82.4,467.75 82.9,467.87 83.4,467.99 83.9,468.11 84.4,468.23 84.9,468.35 85.4,468.48 85.9,468.6 86.4,468.73 86.9,468.85 87.4,468.98 87.9,469.11 88.4,469.25 88.9,469.38 89.4,469.52 89.9,469.66 90.4,469.8 90.9,469.94 91.4,470.09 91.9,470.24 92.4,470.39 92.9,470.54 93.4,470.7 93.9,470.85 94.4,471.01 94.9,471.18 95.4,471.34 95.9,471.51 96.4,471.69 96.9,471.86 97.4,472.04 97.9,472.23 98.4,472.42 98.9,472.65 99.4,472.91 99.9,473.18 100.4,473.46 100.9,473.73 101.4,473.97 101.9,474.19 102.4,474.35 102.9,474.47 103.4,474.51 103.9,474.55 104.4,474.58 104.9,474.6 105.4,474.63 105.9,474.65 106.4,474.67 106.9,474.69 107.4,474.7 107.9,474.72 108.4,474.73 108.9,474.74 109.4,474.76 109.9,474.77 110.4,474.78 110.9,474.79 111.4,474.8 111.9,474.81 112.4,474.82 112.9,474.84 113.4,474.85 113.9,474.86 114.4,474.88 114.9,474.9 115.4,474.91 115.9,474.93 116.4,474.95 116.9,474.97 117.4,474.98 117.9,475 118.4,475.02 118.9,475.03 119.4,475.05 119.9,475.07 120.4,475.09 120.9,475.12 121.4,475.14 121.9,475.17 122.4,475.2 122.9,475.24 123.4,475.28 123.9,475.33 124.4,475.39 124.9,475.46 125.4,475.53 125.9,475.61 126.4,475.7 126.9,475.79 127.4,475.89 127.9,475.99 128.4,476.1 128.9,476.21 129.4,476.32 129.9,476.44 130.4,476.57 130.9,476.69 131.4,476.82 131.9,476.95 132.4,477.09 132.9,477.22 133.4,477.36 133.9,477.5 134.4,477.64 134.9,477.77 135.4,477.91 135.9,478.05 136.4,478.19 136.9,478.33 137.4,478.47 137.9,478.62 138.4,478.79 138.9,478.95 139.4,479.13 139.9,479.31 140.4,479.49 140.9,479.68 141.4,479.87 141.9,480.06 142.4,480.25 142.9,480.44 143.4,480.62 143.9,480.81 144.4,480.99 144.9,481.17 145.4,481.34 145.9,481.5 146.4,481.66 146.9,481.81 147.4,481.96 147.9,482.11 148.4,482.26 148.9,482.4 149.4,482.54 149.9,482.69 150.4,482.83 150.9,482.97 151.4,483.12 151.9,483.27 152.4,483.42 152.9,483.58 153.4,483.74 153.9,483.91 154.4,484.09 154.9,484.27 155.4,484.46 155.9,484.65 156.4,484.86 156.9,485.08 157.4,485.31 157.9,485.55 158.4,485.83 158.9,486.15 159.4,486.5 159.9,486.87 160.4,487.27 160.9,487.68 161.4,488.11 161.9,488.54 162.4,488.97 162.9,489.41 163.4,489.83 163.9,490.25 164.4,490.65 164.9,491.03 165.4,491.38 165.9,491.7 166.4,492.01 166.9,492.31 167.4,492.62 167.9,492.92 168.4,493.23 168.9,493.53 169.4,493.82 169.9,494.11 170.4,494.4 170.9,494.68 171.4,494.95 171.9,495.21 172.4,495.46 172.9,495.7 173.4,495.93 173.9,496.14 174.4,496.35 174.9,496.53 175.4,496.71 175.9,496.86 176.4,497 176.9,497.13 177.4,497.25 177.9,497.37 178.4,497.49 178.9,497.61 179.4,497.72 179.9,497.83 180.4,497.93 180.9,498.03 181.4,498.13 181.9,498.22 182.4,498.32 182.9,498.4 183.4,498.49 183.9,498.57 184.4,498.65 184.9,498.72 185.4,498.8 185.9,498.86 186.4,498.93 186.9,498.99 187.4,499.05 187.9,499.1 188.4,499.16 188.9,499.2 189.4,499.25 189.9,499.29 190.4,499.33 190.9,499.37 191.4,499.41 191.9,499.45 192.4,499.49 192.9,499.52 193.4,499.56 193.9,499.6 194.4,499.63 194.9,499.67 195.4,499.7 195.9,499.73 196.4,499.76 196.9,499.79 197.4,499.82 197.9,499.85 198.4,499.87 198.9,499.89 199.4,499.91 199.9,499.93 200.4,499.95 200.9,499.96 201.4,499.98 201.9,499.99 202.4,499.99 202.9,500 203.4,500" fill="none" stroke="#b36bf2" stroke-width="1.2" stroke-linejoin="round" stroke-linecap="round" />
<polyline points="28.9,459.9 29.4,459.91 29.9,459.91 30.4,459.92 30.9,459.92 31.4,459.93 31.9,459.94 32.4,459.95 32.9,459.97 33.4,459.98 33.9,460 34.4,460.01 34.9,460.03 35.4,460.05 35.9,460.07 36.4,460.09 36.9,460.11 37.4,460.13 37.9,460.15 38.4,460.18 38.9,460.2 39.4,460.23 39.9,460.25 40.4,460.28 40.9,460.31 41.4,460.33 41.9,460.36 42.4,460.39 42.9,460.42 43.4,460.45 43.9,460.48 44.4,460.52 44.9,460.55 45.4,460.58 45.9,460.61 46.4,460.65 46.9,460.68 47.4,460.71 47.9,460.75 48.4,460.79 48.9,460.84 49.4,460.89 49.9,460.95 50.4,461 50.9,461.07 51.4,461.13 51.9,461.2 52.4,461.27 52.9,461.35 53.4,461.43 53.9,461.51 54.4,461.59 54.9,461.68 55.4,461.77 55.9,461.86 56.4,461.95 56.9,462.05 57.4,462.14 57.9,462.24 58.4,462.34 58.9,462.44 59.4,462.54 59.9,462.64 60.4,462.75 60.9,462.85 61.4,462.95 61.9,463.06 62.4,463.16 62.9,463.27 63.4,463.37 63.9,463.47 64.4,463.58 64.9,463.68 65.4,463.78 65.9,463.89 66.4,464 66.9,464.11 67.4,464.23 67.9,464.35 68.4,464.47 68.9,464.59 69.4,464.72 69.9,464.85 70.4,464.98 70.9,465.11 71.4,465.24 71.9,465.37 72.4,465.5 72.9,465.64 73.4,465.77 73.9,465.9 74.4,466.04 74.9,466.17 75.4,466.3 75.9,466.44 76.4,466.57 76.9,466.7 77.4,466.82 77.9,466.95 78.4,467.08 78.9,467.2 79.4,467.32 79.9,467.44 80.4,467.56 80.9,467.69 81.4,467.81 81.9,467.93 82.4,468.05 82.9,468.17 83.4,468.29 83.9,468.41 84.4,468.53 84.9,468.65 85.4,468.78 85.9,468.9 86.4,469.03 86.9,469.15 87.4,469.28 87.9,469.41 88.4,469.55 88.9,469.68 89.4,469.82 89.9,469.96 90.4,470.1 90.9,470.24 91.4,470.39 91.9,470.54 92.4,470.69 92.9,470.84 93.4,471 93.9,471.15 94.4,471.31 94.9,471.48 95.4,471.64 95.9,471.81 96.4,471.99 96.9,472.16 97.4,472.34 97.9,472.53 98.4,472.72 98.9,472.95 99.4,473.21 99.9,473.48 100.4,473.76 100.9,474.03 101.4,474.27 101.9,474.49 102.4,474.65 102.9,474.77 103.4,474.81 103.9,474.85 104.4,474.88 104.9,474.9 105.4,474.93 105.9,474.95 106.4,474.97 106.9,474.99 107.4,475 107.9,475.02 108.4,475.03 108.9,475.04 109.4,475.06 109.9,475.07 110.4,475.08 110.9,475.09 111.4,475.1 111.9,475.11 112.4,475.12 112.9,475.14 113.4,475.15 113.9,475.16 114.4,475.18 114.9,475.2 115.4,475.21 115.9,475.23 116.4,475.25 116.9,475.27 117.4,475.28 117.9,475.3 118.4,475.32 118.9,475.33 119.4,475.35 119.9,475.37 120.4,475.39 120.9,475.42 121.4,475.44 121.9,475.47 122.4,475.5 122.9,475.54 123.4,475.58 123.9,475.63 124.4,475.69 124.9,475.76 125.4,475.83 125.9,475.91 126.4,476 126.9,476.09 127.4,476.19 127.9,476.29 128.4,476.4 128.9,476.51 129.4,476.62 129.9,476.74 130.4,476.87 130.9,476.99 131.4,477.12 131.9,477.25 132.4,477.39 132.9,477.52 133.4,477.66 133.9,477.8 134.4,477.94 134.9,478.07 135.4,478.21 135.9,478.35 136.4,478.49 136.9,478.63 137.4,478.77 137.9,478.92 138.4,479.09 138.9,479.25 139.4,479.43 139.9,479.61 140.4,479.79 140.9,479.98 141.4,480.17 141.9,480.36 142.4,480.55 142.9,480.74 143.4,480.92 143.9,481.11 144.4,481.29 144.9,481.47 145.4,481.64 145.9,481.8 146.4,481.96 146.9,482.11 147.4,482.26 147.9,482.41 148.4,482.56 148.9,482.7 149.4,482.84 149.9,482.99 150.4,483.13 150.9,483.27 151.4,483.42 151.9,483.57 152.4,483.72 152.9,483.88 153.4,484.04 153.9,484.21 154.4,484.39 154.9,484.57 155.4,484.76 155.9,484.95 156.4,485.16 156.9,485.38 157.4,485.61 157.9,485.85 158.4,486.13 158.9,486.45 159.4,486.8 159.9,487.17 160.4,487.57 160.9,487.98 161.4,488.41 161.9,488.84 162.4,489.27 162.9,489.71 163.4,490.13 163.9,490.55 164.4,490.95 164.9,491.33 165.4,491.68 165.9,492 166.4,492.31 166.9,492.61 167.4,492.92 167.9,493.22 168.4,493.53 168.9,493.83 169.4,494.12 169.9,494.41 170.4,494.7 170.9,494.98 171.4,495.25 171.9,495.51 172.4,495.76 172.9,496 173.4,496.23 173.9,496.44 174.4,496.65 174.9,496.83 175.4,497.01 175.9,497.16 176.4,497.3 176.9,497.43 177.4,497.55 177.9,497.67 178.4,497.79 178.9,497.91 179.4,498.02 179.9,498.13 180.4,498.23 180.9,498.33 181.4,498.43 181.9,498.52 182.4,498.62 182.9,498.7 183.4,498.79 183.9,498.87 184.4,498.95 184.9,499.02 185.4,499.1 185.9,499.16 186.4,499.23 186.9,499.29 187.4,499.35 187.9,499.4 188.4,499.46 188.9,499.5 189.4,499.55 189.9,499.59 190.4,499.63 190.9,499.67 191.4,499.71 191.9,499.75 192.4,499.79 192.9,499.82 193.4,499.86 193.9,499.9 194.4,499.93 194.9,499.97 195.4,500 195.9,500.03 196.4,500.06 196.9,500.09 197.4,500.12 197.9,500.15 198.4,500.17 198.9,500.19 199.4,500.21 199.9,500.23 200.4,500.25 200.9,500.26 201.4,500.28 201.9,500.29 202.4,500.29 202.9,500.3 203.4,500.3" fill="none" stroke="#d9a21b" stroke-width="1.2" stroke-linejoin="round" stroke-linecap="round" />
<polyline points="28.9,458.08 29.4,458.04 29.9,458 30.4,457.96 30.9,457.92 31.4,457.88 31.9,457.83 32.4,457.78 32.9,457.73 33.4,457.67 33.9,457.61 34.4,457.54 34.9,457.47 35.4,457.39 35.9,457.3 36.4,457.2 36.9,457.1 37.4,456.98 37.9,456.86 38.4,456.72 38.9,456.57 39.4,456.4 39.9,456.22 40.4,456.02 40.9,455.8 41.4,455.56 41.9,455.3 42.4,455.02 42.9,454.71 43.4,454.38 43.9,454.02 44.4,453.63 44.9,453.22 45.4,452.77 45.9,452.3 46.4,451.79 46.9,451.25 47.4,450.68 47.9,450.09 48.4,449.46 48.9,448.81 49.4,448.13 49.9,447.43 50.4,446.7 50.9,445.95 51.4,445.17 51.9,444.38 52.4,443.58 52.9,442.76 53.4,441.93 53.9,441.09 54.4,440.26 54.9,439.43 55.4,438.62 55.9,437.81 56.4,437.04 56.9,436.29 57.4,435.58 57.9,434.91 58.4,434.3 58.9,433.76 59.4,433.28 59.9,432.87 60.4,432.56 60.9,432.33 61.4,432.2 61.9,432.16 62.4,432.23 62.9,432.38 63.4,432.61 63.9,432.91 64.4,433.29 64.9,433.73 65.4,434.24 65.9,434.82 66.4,435.46 66.9,436.14 67.4,436.88 67.9,437.66 68.4,438.47 68.9,439.32 69.4,440.19 69.9,441.08 70.4,441.99 70.9,442.9 71.4,443.82 71.9,444.75 72.4,445.67 72.9,446.58 73.4,447.49 73.9,448.38 74.4,449.26 74.9,450.13 75.4,450.97 75.9,451.8 76.4,452.6 76.9,453.38 77.4,454.14 77.9,454.87 78.4,455.57 78.9,456.25 79.4,456.9 79.9,457.53 80.4,458.13 80.9,458.7 81.4,459.25 81.9,459.78 82.4,460.28 82.9,460.75 83.4,461.21 83.9,461.64 84.4,462.06 84.9,462.45 85.4,462.83 85.9,463.18 86.4,463.53 86.9,463.85 87.4,464.16 87.9,464.46 88.4,464.75 88.9,465.02 89.4,465.29 89.9,465.54 90.4,465.79 90.9,466.02 91.4,466.25 91.9,466.48 92.4,466.69 92.9,466.9 93.4,467.11 93.9,467.31 94.4,467.51 94.9,467.7 95.4,467.89 95.9,468.08 96.4,468.27 96.9,468.45 97.4,468.64 97.9,468.82 98.4,469.02 98.9,469.24 99.4,469.49 99.9,469.75 100.4,470.01 100.9,470.25 101.4,470.47 101.9,470.66 102.4,470.8 102.9,470.87 103.4,470.89 103.9,470.88 104.4,470.86 104.9,470.84 105.4,470.81 105.9,470.78 106.4,470.74 106.9,470.7 107.4,470.65 107.9,470.59 108.4,470.53 108.9,470.46 109.4,470.39 109.9,470.31 110.4,470.22 110.9,470.13 111.4,470.04 111.9,469.94 112.4,469.83 112.9,469.72 113.4,469.59 113.9,469.47 114.4,469.33 114.9,469.19 115.4,469.04 115.9,468.87 116.4,468.7 116.9,468.51 117.4,468.3 117.9,468.09 118.4,467.86 118.9,467.61 119.4,467.34 119.9,467.06 120.4,466.76 120.9,466.44 121.4,466.09 121.9,465.73 122.4,465.34 122.9,464.92 123.4,464.49 123.9,464.03 124.4,463.54 124.9,463.02 125.4,462.47 125.9,461.89 126.4,461.27 126.9,460.62 127.4,459.92 127.9,459.18 128.4,458.4 128.9,457.57 129.4,456.7 129.9,455.77 130.4,454.8 130.9,453.78 131.4,452.7 131.9,451.58 132.4,450.41 132.9,449.2 133.4,447.95 133.9,446.67 134.4,445.36 134.9,444.03 135.4,442.7 135.9,441.37 136.4,440.07 136.9,438.8 137.4,437.61 137.9,436.5 138.4,435.51 138.9,434.65 139.4,433.95 139.9,433.42 140.4,433.09 140.9,432.95 141.4,433.03 141.9,433.35 142.4,433.96 142.9,434.85 143.4,435.98 143.9,437.33 144.4,438.86 144.9,440.54 145.4,442.32 145.9,444.17 146.4,446.06 146.9,447.96 147.4,449.85 147.9,451.72 148.4,453.54 148.9,455.31 149.4,457.01 149.9,458.65 150.4,460.22 150.9,461.72 151.4,463.15 151.9,464.5 152.4,465.79 152.9,467.01 153.4,468.17 153.9,469.27 154.4,470.31 154.9,471.3 155.4,472.24 155.9,473.13 156.4,473.99 156.9,474.81 157.4,475.59 157.9,476.35 158.4,477.12 158.9,477.88 159.4,478.64 159.9,479.39 160.4,480.15 160.9,480.89 161.4,481.62 161.9,482.34 162.4,483.04 162.9,483.72 163.4,484.38 163.9,485.01 164.4,485.61 164.9,486.18 165.4,486.71 165.9,487.21 166.4,487.67 166.9,488.13 167.4,488.58 167.9,489.02 168.4,489.45 168.9,489.87 169.4,490.28 169.9,490.68 170.4,491.07 170.9,491.45 171.4,491.82 171.9,492.17 172.4,492.51 172.9,492.83 173.4,493.14 173.9,493.43 174.4,493.71 174.9,493.97 175.4,494.21 175.9,494.43 176.4,494.63 176.9,494.82 177.4,495 177.9,495.18 178.4,495.35 178.9,495.51 179.4,495.68 179.9,495.83 180.4,495.98 180.9,496.13 181.4,496.27 181.9,496.41 182.4,496.54 182.9,496.67 183.4,496.79 183.9,496.91 184.4,497.02 184.9,497.13 185.4,497.23 185.9,497.33 186.4,497.43 186.9,497.52 187.4,497.61 187.9,497.69 188.4,497.77 188.9,497.85 189.4,497.92 189.9,497.99 190.4,498.05 190.9,498.11 191.4,498.17 191.9,498.24 192.4,498.3 192.9,498.35 193.4,498.41 193.9,498.47 194.4,498.52 194.9,498.58 195.4,498.63 195.9,498.68 196.4,498.73 196.9,498.77 197.4,498.82 197.9,498.86 198.4,498.9 198.9,498.94 199.4,498.97 199.9,499.01 200.4,499.04 200.9,499.07 201.4,499.09 201.9,499.12 202.4,499.14 202.9,499.15 203.4,499.17" fill="none" stroke="#d9a21b" stroke-width="1.3" stroke-linejoin="round" stroke-linecap="round" />
<polyline points="28.9,459.47 29.4,459.48 29.9,459.48 30.4,459.48 30.9,459.49 31.4,459.5 31.9,459.51 32.4,459.52 32.9,459.53 33.4,459.54 33.9,459.55 34.4,459.56 34.9,459.58 35.4,459.6 35.9,459.61 36.4,459.63 36.9,459.65 37.4,459.67 37.9,459.69 38.4,459.71 38.9,459.73 39.4,459.76 39.9,459.78 40.4,459.8 40.9,459.83 41.4,459.85 41.9,459.88 42.4,459.91 42.9,459.93 43.4,459.96 43.9,459.99 44.4,460.02 44.9,460.05 45.4,460.07 45.9,460.1 46.4,460.13 46.9,460.16 47.4,460.19 47.9,460.23 48.4,460.26 48.9,460.31 49.4,460.35 49.9,460.4 50.4,460.45 50.9,460.51 51.4,460.57 51.9,460.64 52.4,460.7 52.9,460.77 53.4,460.84 53.9,460.92 54.4,460.99 54.9,461.07 55.4,461.15 55.9,461.24 56.4,461.32 56.9,461.41 57.4,461.49 57.9,461.58 58.4,461.67 58.9,461.76 59.4,461.85 59.9,461.94 60.4,462.03 60.9,462.12 61.4,462.21 61.9,462.3 62.4,462.39 62.9,462.47 63.4,462.56 63.9,462.64 64.4,462.73 64.9,462.81 65.4,462.89 65.9,462.97 66.4,463.05 66.9,463.14 67.4,463.22 67.9,463.3 68.4,463.39 68.9,463.47 69.4,463.55 69.9,463.62 70.4,463.69 70.9,463.75 71.4,463.8 71.9,463.84 72.4,463.86 72.9,463.85 73.4,463.81 73.9,463.74 74.4,463.61 74.9,463.43 75.4,463.17 75.9,462.83 76.4,462.4 76.9,461.86 77.4,461.21 77.9,460.43 78.4,459.52 78.9,458.49 79.4,457.34 79.9,456.09 80.4,454.77 80.9,453.41 81.4,452.05 81.9,450.74 82.4,449.57 82.9,448.59 83.4,447.88 83.9,447.52 84.4,447.54 84.9,448.04 85.4,449.01 85.9,450.36 86.4,451.98 86.9,453.76 87.4,455.59 87.9,457.41 88.4,459.14 88.9,460.75 89.4,462.22 89.9,463.53 90.4,464.67 90.9,465.66 91.4,466.5 91.9,467.22 92.4,467.82 92.9,468.33 93.4,468.77 93.9,469.15 94.4,469.49 94.9,469.79 95.4,470.06 95.9,470.32 96.4,470.57 96.9,470.81 97.4,471.04 97.9,471.27 98.4,471.5 98.9,471.77 99.4,472.05 99.9,472.35 100.4,472.65 100.9,472.94 101.4,473.21 101.9,473.44 102.4,473.62 102.9,473.75 103.4,473.81 103.9,473.85 104.4,473.89 104.9,473.92 105.4,473.96 105.9,473.98 106.4,474.01 106.9,474.03 107.4,474.05 107.9,474.07 108.4,474.08 108.9,474.09 109.4,474.11 109.9,474.12 110.4,474.13 110.9,474.14 111.4,474.14 111.9,474.15 112.4,474.16 112.9,474.17 113.4,474.17 113.9,474.18 114.4,474.19 114.9,474.2 115.4,474.21 115.9,474.22 116.4,474.23 116.9,474.24 117.4,474.25 117.9,474.25 118.4,474.26 118.9,474.27 119.4,474.27 119.9,474.28 120.4,474.29 120.9,474.3 121.4,474.31 121.9,474.32 122.4,474.33 122.9,474.35 123.4,474.38 123.9,474.41 124.4,474.45 124.9,474.5 125.4,474.55 125.9,474.61 126.4,474.67 126.9,474.74 127.4,474.81 127.9,474.89 128.4,474.96 128.9,475.05 129.4,475.13 129.9,475.22 130.4,475.31 130.9,475.4 131.4,475.49 131.9,475.58 132.4,475.67 132.9,475.77 133.4,475.86 133.9,475.95 134.4,476.04 134.9,476.12 135.4,476.2 135.9,476.28 136.4,476.36 136.9,476.43 137.4,476.5 137.9,476.58 138.4,476.67 138.9,476.75 139.4,476.84 139.9,476.92 140.4,477.01 140.9,477.09 141.4,477.17 141.9,477.23 142.4,477.3 142.9,477.35 143.4,477.39 143.9,477.41 144.4,477.42 144.9,477.41 145.4,477.38 145.9,477.33 146.4,477.25 146.9,477.15 147.4,477.01 147.9,476.85 148.4,476.65 148.9,476.42 149.4,476.14 149.9,475.81 150.4,475.43 150.9,474.99 151.4,474.47 151.9,473.88 152.4,473.19 152.9,472.41 153.4,471.51 153.9,470.49 154.4,469.33 154.9,468.02 155.4,466.54 155.9,464.89 156.4,463.06 156.9,461.05 157.4,458.85 157.9,456.49 158.4,454 158.9,451.42 159.4,448.81 159.9,446.26 160.4,443.87 160.9,441.78 161.4,440.15 161.9,439.1 162.4,438.76 162.9,439.23 163.4,440.73 163.9,443.17 164.4,446.31 164.9,449.9 165.4,453.71 165.9,457.52 166.4,461.21 166.9,464.71 167.4,467.97 167.9,470.95 168.4,473.66 168.9,476.1 169.4,478.29 169.9,480.24 170.4,481.98 170.9,483.52 171.4,484.9 171.9,486.11 172.4,487.2 172.9,488.16 173.4,489.03 173.9,489.8 174.4,490.49 174.9,491.11 175.4,491.67 175.9,492.17 176.4,492.61 176.9,493.02 177.4,493.4 177.9,493.75 178.4,494.07 178.9,494.38 179.4,494.67 179.9,494.94 180.4,495.19 180.9,495.43 181.4,495.66 181.9,495.87 182.4,496.07 182.9,496.27 183.4,496.45 183.9,496.62 184.4,496.78 184.9,496.94 185.4,497.08 185.9,497.22 186.4,497.35 186.9,497.47 187.4,497.59 187.9,497.7 188.4,497.8 188.9,497.9 189.4,497.99 189.9,498.08 190.4,498.16 190.9,498.24 191.4,498.32 191.9,498.39 192.4,498.46 192.9,498.53 193.4,498.6 193.9,498.67 194.4,498.73 194.9,498.79 195.4,498.85 195.9,498.91 196.4,498.96 196.9,499.01 197.4,499.06 197.9,499.11 198.4,499.16 198.9,499.2 199.4,499.24 199.9,499.27 200.4,499.31 200.9,499.34 201.4,499.36 201.9,499.39 202.4,499.41 202.9,499.43 203.4,499.45" fill="none" stroke="#b36bf2" stroke-width="1.2" stroke-linejoin="round" stroke-linecap="round" />
<polyline points="28.9,459.49 29.4,459.5 29.9,459.5 30.4,459.5 30.9,459.51 31.4,459.52 31.9,459.53 32.4,459.54 32.9,459.55 33.4,459.56 33.9,459.57 34.4,459.59 34.9,459.6 35.4,459.62 35.9,459.64 36.4,459.66 36.9,459.67 37.4,459.69 37.9,459.72 38.4,459.74 38.9,459.76 39.4,459.78 39.9,459.81 40.4,459.83 40.9,459.86 41.4,459.88 41.9,459.91 42.4,459.94 42.9,459.97 43.4,459.99 43.9,460.02 44.4,460.05 44.9,460.08 45.4,460.11 45.9,460.14 46.4,460.17 46.9,460.2 47.4,460.23 47.9,460.27 48.4,460.3 48.9,460.35 49.4,460.4 49.9,460.45 50.4,460.5 50.9,460.56 51.4,460.62 51.9,460.69 52.4,460.75 52.9,460.83 53.4,460.9 53.9,460.98 54.4,461.06 54.9,461.14 55.4,461.22 55.9,461.3 56.4,461.39 56.9,461.48 57.4,461.57 57.9,461.66 58.4,461.75 58.9,461.85 59.4,461.94 59.9,462.04 60.4,462.13 60.9,462.23 61.4,462.32 61.9,462.42 62.4,462.51 62.9,462.61 63.4,462.7 63.9,462.79 64.4,462.89 64.9,462.98 65.4,463.07 65.9,463.16 66.4,463.26 66.9,463.35 67.4,463.45 67.9,463.56 68.4,463.66 68.9,463.77 69.4,463.87 69.9,463.98 70.4,464.08 70.9,464.19 71.4,464.29 71.9,464.4 72.4,464.5 72.9,464.6 73.4,464.7 73.9,464.8 74.4,464.89 74.9,464.98 75.4,465.07 75.9,465.14 76.4,465.22 76.9,465.28 77.4,465.34 77.9,465.39 78.4,465.42 78.9,465.44 79.4,465.44 79.9,465.42 80.4,465.36 80.9,465.26 81.4,465.11 81.9,464.88 82.4,464.57 82.9,464.13 83.4,463.55 83.9,462.8 84.4,461.84 84.9,460.64 85.4,459.19 85.9,457.47 86.4,455.48 86.9,453.23 87.4,450.76 87.9,448.14 88.4,445.43 88.9,442.78 89.4,440.32 89.9,438.23 90.4,436.71 90.9,435.93 91.4,435.99 91.9,436.89 92.4,438.57 92.9,440.84 93.4,443.53 93.9,446.45 94.4,449.44 94.9,452.38 95.4,455.18 95.9,457.77 96.4,460.11 96.9,462.18 97.4,463.98 97.9,465.53 98.4,466.84 98.9,467.98 99.4,468.97 99.9,469.82 100.4,470.55 100.9,471.18 101.4,471.7 101.9,472.14 102.4,472.49 102.9,472.75 103.4,472.92 103.9,473.05 104.4,473.17 104.9,473.27 105.4,473.36 105.9,473.45 106.4,473.52 106.9,473.58 107.4,473.64 107.9,473.7 108.4,473.75 108.9,473.79 109.4,473.83 109.9,473.87 110.4,473.91 110.9,473.94 111.4,473.97 111.9,474 112.4,474.03 112.9,474.05 113.4,474.08 113.9,474.11 114.4,474.13 114.9,474.16 115.4,474.18 115.9,474.21 116.4,474.23 116.9,474.25 117.4,474.27 117.9,474.29 118.4,474.31 118.9,474.33 119.4,474.35 119.9,474.37 120.4,474.39 120.9,474.42 121.4,474.44 121.9,474.46 122.4,474.49 122.9,474.52 123.4,474.56 123.9,474.61 124.4,474.66 124.9,474.72 125.4,474.79 125.9,474.86 126.4,474.94 126.9,475.02 127.4,475.11 127.9,475.2 128.4,475.29 128.9,475.39 129.4,475.5 129.9,475.6 130.4,475.71 130.9,475.82 131.4,475.93 131.9,476.05 132.4,476.16 132.9,476.28 133.4,476.39 133.9,476.51 134.4,476.62 134.9,476.74 135.4,476.85 135.9,476.96 136.4,477.07 136.9,477.18 137.4,477.29 137.9,477.41 138.4,477.54 138.9,477.67 139.4,477.8 139.9,477.94 140.4,478.08 140.9,478.22 141.4,478.36 141.9,478.5 142.4,478.63 142.9,478.77 143.4,478.89 143.9,479.01 144.4,479.12 144.9,479.22 145.4,479.31 145.9,479.39 146.4,479.46 146.9,479.51 147.4,479.56 147.9,479.6 148.4,479.62 148.9,479.64 149.4,479.64 149.9,479.63 150.4,479.61 150.9,479.58 151.4,479.54 151.9,479.48 152.4,479.4 152.9,479.31 153.4,479.2 153.9,479.06 154.4,478.9 154.9,478.71 155.4,478.47 155.9,478.2 156.4,477.86 156.9,477.46 157.4,476.97 157.9,476.38 158.4,475.68 158.9,474.85 159.4,473.85 159.9,472.63 160.4,471.16 160.9,469.37 161.4,467.24 161.9,464.71 162.4,461.75 162.9,458.32 163.4,454.43 163.9,450.07 164.4,445.31 164.9,440.24 165.4,435.05 165.9,430.01 166.4,425.49 166.9,421.95 167.4,419.82 167.9,419.39 168.4,420.39 168.9,422.48 169.4,425.5 169.9,429.27 170.4,433.55 170.9,438.12 171.4,442.8 171.9,447.45 172.4,451.95 172.9,456.24 173.4,460.25 173.9,463.97 174.4,467.38 174.9,470.48 175.4,473.28 175.9,475.79 176.4,478.02 176.9,480 177.4,481.77 177.9,483.33 178.4,484.72 178.9,485.94 179.4,487.03 179.9,488 180.4,488.86 180.9,489.62 181.4,490.31 181.9,490.93 182.4,491.5 182.9,492.01 183.4,492.47 183.9,492.9 184.4,493.29 184.9,493.66 185.4,493.99 185.9,494.3 186.4,494.59 186.9,494.86 187.4,495.12 187.9,495.35 188.4,495.57 188.9,495.78 189.4,495.97 189.9,496.15 190.4,496.32 190.9,496.48 191.4,496.63 191.9,496.78 192.4,496.92 192.9,497.06 193.4,497.18 193.9,497.31 194.4,497.42 194.9,497.53 195.4,497.64 195.9,497.74 196.4,497.84 196.9,497.93 197.4,498.02 197.9,498.1 198.4,498.18 198.9,498.26 199.4,498.33 199.9,498.39 200.4,498.45 200.9,498.51 201.4,498.57 201.9,498.62 202.4,498.66 202.9,498.7 203.4,498.74" fill="none" stroke="#2fae4a" stroke-width="1.2" stroke-linejoin="round" stroke-linecap="round" />
<polyline points="28.9,457.85 29.4,457.8 29.9,457.76 30.4,457.72 30.9,457.67 31.4,457.63 31.9,457.58 32.4,457.52 32.9,457.47 33.4,457.4 33.9,457.34 34.4,457.27 34.9,457.19 35.4,457.11 35.9,457.02 36.4,456.92 36.9,456.81 37.4,456.69 37.9,456.56 38.4,456.42 38.9,456.26 39.4,456.09 39.9,455.9 40.4,455.7 40.9,455.47 41.4,455.23 41.9,454.96 42.4,454.67 42.9,454.36 43.4,454.02 43.9,453.66 44.4,453.27 44.9,452.85 45.4,452.39 45.9,451.91 46.4,451.4 46.9,450.86 47.4,450.28 47.9,449.67 48.4,449.04 48.9,448.38 49.4,447.69 49.9,446.98 50.4,446.24 50.9,445.48 51.4,444.7 51.9,443.9 52.4,443.08 52.9,442.25 53.4,441.41 53.9,440.57 54.4,439.72 54.9,438.88 55.4,438.05 55.9,437.24 56.4,436.45 56.9,435.68 57.4,434.96 57.9,434.28 58.4,433.65 58.9,433.08 59.4,432.59 59.9,432.17 60.4,431.83 60.9,431.58 61.4,431.42 61.9,431.36 62.4,431.4 62.9,431.53 63.4,431.73 63.9,432 64.4,432.35 64.9,432.76 65.4,433.23 65.9,433.77 66.4,434.36 66.9,435.01 67.4,435.7 67.9,436.42 68.4,437.18 68.9,437.97 69.4,438.77 69.9,439.59 70.4,440.41 70.9,441.23 71.4,442.04 71.9,442.84 72.4,443.62 72.9,444.36 73.4,445.06 73.9,445.71 74.4,446.29 74.9,446.79 75.4,447.2 75.9,447.51 76.4,447.69 76.9,447.74 77.4,447.64 77.9,447.38 78.4,446.96 78.9,446.38 79.4,445.64 79.9,444.75 80.4,443.73 80.9,442.6 81.4,441.4 81.9,440.15 82.4,438.92 82.9,437.74 83.4,436.67 83.9,435.74 84.4,434.97 84.9,434.43 85.4,434.08 85.9,433.82 86.4,433.54 86.9,433.13 87.4,432.55 87.9,431.77 88.4,430.83 88.9,429.79 89.4,428.79 89.9,427.98 90.4,427.57 90.9,427.72 91.4,428.56 91.9,430.11 92.4,432.3 92.9,435 93.4,438.02 93.9,441.2 94.4,444.41 94.9,447.52 95.4,450.45 95.9,453.15 96.4,455.57 96.9,457.72 97.4,459.58 97.9,461.17 98.4,462.52 98.9,463.69 99.4,464.69 99.9,465.56 100.4,466.29 100.9,466.92 101.4,467.44 101.9,467.87 102.4,468.2 102.9,468.44 103.4,468.58 103.9,468.69 104.4,468.77 104.9,468.83 105.4,468.88 105.9,468.91 106.4,468.93 106.9,468.94 107.4,468.93 107.9,468.92 108.4,468.89 108.9,468.86 109.4,468.81 109.9,468.76 110.4,468.7 110.9,468.63 111.4,468.55 111.9,468.46 112.4,468.37 112.9,468.26 113.4,468.15 113.9,468.03 114.4,467.9 114.9,467.76 115.4,467.61 115.9,467.44 116.4,467.26 116.9,467.07 117.4,466.86 117.9,466.64 118.4,466.4 118.9,466.14 119.4,465.87 119.9,465.57 120.4,465.25 120.9,464.92 121.4,464.56 121.9,464.17 122.4,463.76 122.9,463.33 123.4,462.87 123.9,462.38 124.4,461.87 124.9,461.33 125.4,460.75 125.9,460.14 126.4,459.49 126.9,458.8 127.4,458.07 127.9,457.29 128.4,456.47 128.9,455.6 129.4,454.68 129.9,453.7 130.4,452.68 130.9,451.61 131.4,450.48 131.9,449.3 132.4,448.07 132.9,446.8 133.4,445.48 133.9,444.13 134.4,442.75 134.9,441.34 135.4,439.93 135.9,438.51 136.4,437.12 136.9,435.76 137.4,434.46 137.9,433.25 138.4,432.14 138.9,431.17 139.4,430.34 139.9,429.67 140.4,429.19 140.9,428.91 141.4,428.82 141.9,428.97 142.4,429.4 142.9,430.09 143.4,431.01 143.9,432.13 144.4,433.42 144.9,434.84 145.4,436.34 145.9,437.89 146.4,439.45 146.9,440.99 147.4,442.5 147.9,443.94 148.4,445.3 148.9,446.56 149.4,447.7 149.9,448.72 150.4,449.6 150.9,450.34 151.4,450.91 151.9,451.31 152.4,451.54 152.9,451.57 153.4,451.39 153.9,450.99 154.4,450.36 154.9,449.48 155.4,448.34 155.9,446.91 156.4,445.19 156.9,443.16 157.4,440.8 157.9,438.12 158.4,435.13 158.9,431.85 159.4,428.3 159.9,424.54 160.4,420.63 160.9,416.68 161.4,412.79 161.9,409.07 162.4,405.6 162.9,402.46 163.4,399.87 163.9,397.75 164.4,395.93 164.9,394.27 165.4,392.71 165.9,391.33 166.4,390.36 166.9,390.17 167.4,391.12 167.9,393.52 168.4,397.05 168.9,401.4 169.4,406.43 169.9,411.97 170.4,417.8 170.9,423.74 171.4,429.63 171.9,435.32 172.4,440.75 172.9,445.84 173.4,450.57 173.9,454.92 174.4,458.89 174.9,462.49 175.4,465.74 175.9,468.66 176.4,471.26 176.9,473.58 177.4,475.66 177.9,477.51 178.4,479.15 178.9,480.62 179.4,481.94 179.9,483.11 180.4,484.17 180.9,485.12 181.4,485.98 181.9,486.76 182.4,487.48 182.9,488.13 183.4,488.73 183.9,489.28 184.4,489.8 184.9,490.27 185.4,490.72 185.9,491.13 186.4,491.52 186.9,491.88 187.4,492.22 187.9,492.54 188.4,492.84 188.9,493.12 189.4,493.38 189.9,493.63 190.4,493.87 190.9,494.09 191.4,494.31 191.9,494.51 192.4,494.71 192.9,494.9 193.4,495.07 193.9,495.25 194.4,495.41 194.9,495.57 195.4,495.72 195.9,495.86 196.4,496 196.9,496.13 197.4,496.26 197.9,496.38 198.4,496.49 198.9,496.6 199.4,496.71 199.9,496.81 200.4,496.9 200.9,496.99 201.4,497.07 201.9,497.15 202.4,497.22 202.9,497.29 203.4,497.35" fill="none" stroke="#f0303a" stroke-width="1.2" stroke-linejoin="round" stroke-linecap="round" />
<rect x="28.9" y="375.4" width="174.8" height="140.2" fill="none" stroke="#727272" stroke-width="1.2"/>
<line x1="42.37" y1="515.6" x2="42.37" y2="516.9" stroke="#727272" stroke-width="0.9"/>
<line x1="64" y1="515.6" x2="64" y2="518" stroke="#727272" stroke-width="0.9"/>
<text x="64" y="527.5" font-family="&quot;Liberation Sans&quot;, sans-serif" font-size="8.7" fill="#333" stroke="#333" stroke-width="0.22" text-anchor="middle" >880</text>
<line x1="85.63" y1="515.6" x2="85.63" y2="516.9" stroke="#727272" stroke-width="0.9"/>
<line x1="107.27" y1="515.6" x2="107.27" y2="518" stroke="#727272" stroke-width="0.9"/>
<text x="107.27" y="527.5" font-family="&quot;Liberation Sans&quot;, sans-serif" font-size="8.7" fill="#333" stroke="#333" stroke-width="0.22" text-anchor="middle" >870</text>
<line x1="128.91" y1="515.6" x2="128.91" y2="516.9" stroke="#727272" stroke-width="0.9"/>
<line x1="150.54" y1="515.6" x2="150.54" y2="518" stroke="#727272" stroke-width="0.9"/>
<text x="150.54" y="527.5" font-family="&quot;Liberation Sans&quot;, sans-serif" font-size="8.7" fill="#333" stroke="#333" stroke-width="0.22" text-anchor="middle" >860</text>
<line x1="172.18" y1="515.6" x2="172.18" y2="516.9" stroke="#727272" stroke-width="0.9"/>
<line x1="193.81" y1="515.6" x2="193.81" y2="518" stroke="#727272" stroke-width="0.9"/>
<text x="193.81" y="527.5" font-family="&quot;Liberation Sans&quot;, sans-serif" font-size="8.7" fill="#333" stroke="#333" stroke-width="0.22" text-anchor="middle" >850</text>
<text x="116.2" y="541.8" font-family="&quot;Liberation Sans&quot;, sans-serif" font-size="9.4" fill="#333" stroke="#333" stroke-width="0.22" text-anchor="middle" >Binding energy (eV)</text>
<text x="23.2" y="445.2" font-family="&quot;Liberation Sans&quot;, sans-serif" font-size="9.5" fill="#333" stroke="#333" stroke-width="0.22" text-anchor="middle" transform="rotate(-90 23.2 445.2)">Intensity (a.u.)</text>
<text x="8.8" y="380.9" font-family="&quot;Liberation Serif&quot;, serif" font-size="21" fill="#111" stroke="#111" stroke-width="0.25" text-anchor="start" >d</text>
<text x="33.1" y="385.7" font-family="&quot;Liberation Sans&quot;, sans-serif" font-size="7.4" fill="#333" stroke="#333" stroke-width="0.22" text-anchor="start" >Ni 2p</text>
<text x="61.5" y="425.8" font-family="&quot;Liberation Sans&quot;, sans-serif" font-size="7.4" fill="#333" stroke="#333" stroke-width="0.22" text-anchor="middle" >sat.</text>
<text x="140.6" y="425.6" font-family="&quot;Liberation Sans&quot;, sans-serif" font-size="7.4" fill="#333" stroke="#333" stroke-width="0.22" text-anchor="middle" >sat.</text>
<text x="89.8" y="416" font-family="&quot;Liberation Sans&quot;, sans-serif" font-size="7.4" fill="#333" stroke="#333" stroke-width="0.22" text-anchor="start" >2p<tspan font-size="4.6" dy="2.3">1/2</tspan></text>
<text x="157.2" y="385.5" font-family="&quot;Liberation Sans&quot;, sans-serif" font-size="7.4" fill="#333" stroke="#333" stroke-width="0.22" text-anchor="start" >2p<tspan font-size="4.6" dy="2.3">3/2</tspan></text>
<polyline points="235.6,475.95 236.1,475.97 236.6,475.93 237.1,476 237.6,475.75 238.1,475.54 238.6,474.45 239.1,474.56 239.6,474.23 240.1,474.02 240.6,473.7 241.1,472.55 241.6,471.22 242.1,471.04 242.6,470.81 243.1,469.95 243.6,470.43 244.1,470.17 244.6,469.89 245.1,469.75 245.6,470.17 246.1,469.29 246.6,468.3 247.1,467.95 247.6,466.39 248.1,465.34 248.6,464.09 249.1,463.27 249.6,461.53 250.1,460.33 250.6,459.21 251.1,458.23 251.6,457.45 252.1,456.79 252.6,456.07 253.1,454.91 253.6,454.22 254.1,452.49 254.6,451.51 255.1,450.37 255.6,450 256.1,448.44 256.6,447.97 257.1,447.03 257.6,445.59 258.1,445.03 258.6,443.6 259.1,442.96 259.6,441.39 260.1,440.82 260.6,440.05 261.1,439.21 261.6,438.78 262.1,437.43 262.6,435.74 263.1,434.01 263.6,431.82 264.1,430.49 264.6,429.91 265.1,428.05 265.6,427.15 266.1,425.94 266.6,425.31 267.1,424.06 267.6,422.65 268.1,420.87 268.6,419.83 269.1,419.46 269.6,418.87 270.1,418.91 270.6,418.26 271.1,417.19 271.6,416.59 272.1,415.31 272.6,413.99 273.1,413.06 273.6,412.35 274.1,411.5 274.6,411.04 275.1,409.93 275.6,408.63 276.1,408.52 276.6,407.34 277.1,406.02 277.6,405.2 278.1,403.91 278.6,403.19 279.1,402.53 279.6,401.57 280.1,400.51 280.6,400.11 281.1,399.92 281.6,399.25 282.1,398.96 282.6,399.02 283.1,398.94 283.6,398.39 284.1,397.91 284.6,397.25 285.1,397.59 285.6,398.18 286.1,398.8 286.6,398.42 287.1,398.59 287.6,397.86 288.1,398.09 288.6,398.14 289.1,398.69 289.6,398.96 290.1,398.92 290.6,399.81 291.1,400.25 291.6,400.99 292.1,401.41 292.6,402.51 293.1,403.27 293.6,403.73 294.1,403.57 294.6,404.54 295.1,404.85 295.6,403.71 296.1,404.16 296.6,404.64 297.1,405.7 297.6,406.13 298.1,406.43 298.6,407.19 299.1,408.21 299.6,409.12 300.1,409.95 300.6,410.72 301.1,411.22 301.6,411.53 302.1,411.75 302.6,412.39 303.1,412.32 303.6,413.19 304.1,413.86 304.6,413.97 305.1,414.16 305.6,415.59 306.1,416.14 306.6,416.7 307.1,418.97 307.6,421.05 308.1,422.42 308.6,423.23 309.1,423.48 309.6,424.31 310.1,425.34 310.6,427.1 311.1,428.85 311.6,430.5 312.1,431.68 312.6,433.16 313.1,434.56 313.6,435.14 314.1,436.55 314.6,438.4 315.1,439.63 315.6,440.52 316.1,441.19 316.6,442.63 317.1,442.71 317.6,443.59 318.1,444.21 318.6,444.99 319.1,445.46 319.6,445.92 320.1,447.32 320.6,448.31 321.1,449.09 321.6,450.55 322.1,451.3 322.6,452.83 323.1,453.91 323.6,455.04 324.1,456.4 324.6,456.65 325.1,456.75 325.6,457.46 326.1,458.29 326.6,458.35 327.1,458.77 327.6,458.63 328.1,459.33 328.6,459.68 329.1,459.32 329.6,458.53 330.1,457.67 330.6,457.58 331.1,458.2 331.6,458.35 332.1,458.67 332.6,459.48 333.1,459.5 333.6,460.46 334.1,459.34 334.6,459.18 335.1,458.44 335.6,458.6 336.1,457.71 336.6,457.11 337.1,456.78 337.6,456.92 338.1,457.28 338.6,457.59 339.1,457.09 339.6,457.65 340.1,458.02 340.6,458.72 341.1,459.8 341.6,458.63 342.1,458.37 342.6,457.53 343.1,457.37 343.6,456.81 344.1,457.66 344.6,456.94 345.1,457.12 345.6,456.64 346.1,455.94 346.6,456.02 347.1,456.29 347.6,455.92 348.1,455.48 348.6,454.56 349.1,453.2 349.6,452.96 350.1,453.17 350.6,453.73 351.1,454.23 351.6,454.62 352.1,453.95 352.6,452.99 353.1,452.46 353.6,451.82 354.1,451.89 354.6,451.37 355.1,450.23 355.6,448.7 356.1,446.95 356.6,446.93 357.1,446.35 357.6,446.16 358.1,446.48 358.6,446.07 359.1,446.23 359.6,446.81 360.1,447.25 360.6,447.91 361.1,446.9 361.6,447.86 362.1,448.22 362.6,448.88 363.1,448.83 363.6,448.32 364.1,448.86 364.6,447.69 365.1,447.82 365.6,448.34 366.1,449.79 366.6,450.58 367.1,450.5 367.6,450.27 368.1,450.35 368.6,450.99 369.1,450.78 369.6,450.81 370.1,450.98 370.6,451.85 371.1,452.57 371.6,453.22 372.1,453.33 372.6,453.51 373.1,453.98 373.6,455.26 374.1,454.98 374.6,455.51 375.1,455.85 375.6,456.38 376.1,455.38 376.6,456.46 377.1,456.45 377.6,456.77 378.1,457.25 378.6,457.5 379.1,456.68 379.6,456.01 380.1,456.13 380.6,456.76 381.1,456.55 381.6,457.51 382.1,458.01 382.6,459.31 383.1,459.94 383.6,462.12 384.1,463.36 384.6,464.38 385.1,465.61 385.6,466.41 386.1,466.67 386.6,468.23 387.1,469.38 387.6,470.04 388.1,470.87 388.6,471.11 389.1,470.76 389.6,470.47 390.1,470.49 390.6,471.07 391.1,471.34 391.6,471.92 392.1,471.55 392.6,471.93 393.1,472.36 393.6,473.01 394.1,474.14 394.6,474.71 395.1,474.91 395.6,474.47 396.1,475.04 396.6,474.85 397.1,475.38 397.6,476.03 398.1,476.45 398.6,476.61 399.1,476.49 399.6,476.97 400.1,477.66 400.6,478.06 401.1,478.56 401.6,479.2 402.1,478.86 402.6,479.74 403.1,480.21 403.6,480.42 404.1,481.17 404.6,481.92 405.1,482.07 405.6,482.71 406.1,483.76 406.6,483.85 407.1,484.14 407.6,484.54 408.1,485.64 408.6,486.78 409.1,486.8 409.6,486.56" fill="none" stroke="#333" stroke-width="1.1" stroke-linejoin="round" stroke-linecap="round" />
<polyline points="235.6,476.62 236.1,476.63 236.6,476.65 237.1,476.67 237.6,476.68 238.1,476.7 238.6,476.72 239.1,476.74 239.6,476.76 240.1,476.78 240.6,476.8 241.1,476.82 241.6,476.84 242.1,476.86 242.6,476.89 243.1,476.91 243.6,476.93 244.1,476.96 244.6,476.98 245.1,477.01 245.6,477.03 246.1,477.06 246.6,477.08 247.1,477.11 247.6,477.14 248.1,477.16 248.6,477.19 249.1,477.22 249.6,477.25 250.1,477.28 250.6,477.3 251.1,477.33 251.6,477.36 252.1,477.39 252.6,477.42 253.1,477.46 253.6,477.49 254.1,477.52 254.6,477.55 255.1,477.58 255.6,477.61 256.1,477.65 256.6,477.68 257.1,477.71 257.6,477.75 258.1,477.78 258.6,477.82 259.1,477.85 259.6,477.89 260.1,477.92 260.6,477.96 261.1,477.99 261.6,478.03 262.1,478.06 262.6,478.1 263.1,478.14 263.6,478.17 264.1,478.21 264.6,478.25 265.1,478.29 265.6,478.32 266.1,478.36 266.6,478.4 267.1,478.44 267.6,478.48 268.1,478.51 268.6,478.55 269.1,478.59 269.6,478.63 270.1,478.67 270.6,478.71 271.1,478.75 271.6,478.79 272.1,478.83 272.6,478.87 273.1,478.91 273.6,478.95 274.1,478.99 274.6,479.03 275.1,479.08 275.6,479.12 276.1,479.17 276.6,479.22 277.1,479.26 277.6,479.31 278.1,479.36 278.6,479.41 279.1,479.46 279.6,479.52 280.1,479.57 280.6,479.62 281.1,479.68 281.6,479.73 282.1,479.79 282.6,479.84 283.1,479.9 283.6,479.96 284.1,480.01 284.6,480.07 285.1,480.13 285.6,480.19 286.1,480.25 286.6,480.31 287.1,480.36 287.6,480.42 288.1,480.48 288.6,480.54 289.1,480.6 289.6,480.66 290.1,480.72 290.6,480.78 291.1,480.84 291.6,480.9 292.1,480.96 292.6,481.02 293.1,481.08 293.6,481.14 294.1,481.2 294.6,481.25 295.1,481.31 295.6,481.37 296.1,481.43 296.6,481.49 297.1,481.55 297.6,481.61 298.1,481.67 298.6,481.74 299.1,481.8 299.6,481.86 300.1,481.93 300.6,481.99 301.1,482.06 301.6,482.12 302.1,482.19 302.6,482.26 303.1,482.32 303.6,482.39 304.1,482.46 304.6,482.53 305.1,482.59 305.6,482.66 306.1,482.73 306.6,482.8 307.1,482.87 307.6,482.93 308.1,483 308.6,483.07 309.1,483.14 309.6,483.2 310.1,483.27 310.6,483.34 311.1,483.41 311.6,483.47 312.1,483.54 312.6,483.6 313.1,483.67 313.6,483.73 314.1,483.8 314.6,483.86 315.1,483.93 315.6,483.99 316.1,484.05 316.6,484.11 317.1,484.17 317.6,484.23 318.1,484.29 318.6,484.35 319.1,484.41 319.6,484.46 320.1,484.52 320.6,484.57 321.1,484.62 321.6,484.68 322.1,484.73 322.6,484.78 323.1,484.83 323.6,484.87 324.1,484.92 324.6,484.97 325.1,485.01 325.6,485.05 326.1,485.09 326.6,485.14 327.1,485.18 327.6,485.22 328.1,485.26 328.6,485.3 329.1,485.34 329.6,485.38 330.1,485.42 330.6,485.46 331.1,485.49 331.6,485.53 332.1,485.57 332.6,485.6 333.1,485.64 333.6,485.68 334.1,485.71 334.6,485.75 335.1,485.78 335.6,485.82 336.1,485.85 336.6,485.89 337.1,485.92 337.6,485.96 338.1,485.99 338.6,486.02 339.1,486.05 339.6,486.09 340.1,486.12 340.6,486.15 341.1,486.18 341.6,486.21 342.1,486.25 342.6,486.28 343.1,486.31 343.6,486.34 344.1,486.37 344.6,486.4 345.1,486.43 345.6,486.46 346.1,486.49 346.6,486.52 347.1,486.55 347.6,486.58 348.1,486.61 348.6,486.64 349.1,486.67 349.6,486.7 350.1,486.73 350.6,486.76 351.1,486.78 351.6,486.81 352.1,486.84 352.6,486.87 353.1,486.9 353.6,486.93 354.1,486.96 354.6,486.99 355.1,487.02 355.6,487.04 356.1,487.07 356.6,487.1 357.1,487.13 357.6,487.16 358.1,487.19 358.6,487.22 359.1,487.25 359.6,487.28 360.1,487.31 360.6,487.34 361.1,487.37 361.6,487.39 362.1,487.42 362.6,487.45 363.1,487.48 363.6,487.51 364.1,487.54 364.6,487.58 365.1,487.61 365.6,487.64 366.1,487.67 366.6,487.7 367.1,487.73 367.6,487.76 368.1,487.79 368.6,487.82 369.1,487.85 369.6,487.88 370.1,487.91 370.6,487.94 371.1,487.97 371.6,488 372.1,488.03 372.6,488.06 373.1,488.09 373.6,488.12 374.1,488.15 374.6,488.18 375.1,488.21 375.6,488.24 376.1,488.27 376.6,488.3 377.1,488.33 377.6,488.36 378.1,488.39 378.6,488.42 379.1,488.45 379.6,488.48 380.1,488.51 380.6,488.54 381.1,488.57 381.6,488.6 382.1,488.63 382.6,488.66 383.1,488.69 383.6,488.72 384.1,488.75 384.6,488.78 385.1,488.81 385.6,488.84 386.1,488.87 386.6,488.89 387.1,488.92 387.6,488.95 388.1,488.98 388.6,489.01 389.1,489.04 389.6,489.07 390.1,489.1 390.6,489.13 391.1,489.16 391.6,489.18 392.1,489.21 392.6,489.24 393.1,489.27 393.6,489.3 394.1,489.33 394.6,489.36 395.1,489.39 395.6,489.41 396.1,489.44 396.6,489.47 397.1,489.5 397.6,489.53 398.1,489.56 398.6,489.58 399.1,489.61 399.6,489.64 400.1,489.67 400.6,489.7 401.1,489.72 401.6,489.75 402.1,489.78 402.6,489.81 403.1,489.84 403.6,489.86 404.1,489.89 404.6,489.92 405.1,489.95 405.6,489.97 406.1,490 406.6,490.03 407.1,490.06 407.6,490.09 408.1,490.11 408.6,490.14 409.1,490.17 409.6,490.19" fill="none" stroke="#3b7fd9" stroke-width="1.2" stroke-linejoin="round" stroke-linecap="round" />
<polyline points="235.6,476.41 236.1,476.42 236.6,476.44 237.1,476.45 237.6,476.47 238.1,476.49 238.6,476.5 239.1,476.52 239.6,476.54 240.1,476.56 240.6,476.58 241.1,476.59 241.6,476.61 242.1,476.63 242.6,476.66 243.1,476.68 243.6,476.7 244.1,476.72 244.6,476.74 245.1,476.77 245.6,476.79 246.1,476.81 246.6,476.84 247.1,476.86 247.6,476.89 248.1,476.91 248.6,476.94 249.1,476.96 249.6,476.99 250.1,477.02 250.6,477.04 251.1,477.07 251.6,477.1 252.1,477.13 252.6,477.15 253.1,477.18 253.6,477.21 254.1,477.24 254.6,477.27 255.1,477.3 255.6,477.33 256.1,477.36 256.6,477.39 257.1,477.42 257.6,477.45 258.1,477.49 258.6,477.52 259.1,477.55 259.6,477.58 260.1,477.61 260.6,477.65 261.1,477.68 261.6,477.71 262.1,477.75 262.6,477.78 263.1,477.81 263.6,477.85 264.1,477.88 264.6,477.92 265.1,477.95 265.6,477.98 266.1,478.02 266.6,478.05 267.1,478.09 267.6,478.12 268.1,478.16 268.6,478.2 269.1,478.23 269.6,478.27 270.1,478.3 270.6,478.34 271.1,478.37 271.6,478.41 272.1,478.45 272.6,478.48 273.1,478.52 273.6,478.55 274.1,478.59 274.6,478.63 275.1,478.67 275.6,478.71 276.1,478.76 276.6,478.8 277.1,478.84 277.6,478.89 278.1,478.93 278.6,478.98 279.1,479.02 279.6,479.07 280.1,479.12 280.6,479.17 281.1,479.22 281.6,479.27 282.1,479.32 282.6,479.37 283.1,479.42 283.6,479.47 284.1,479.52 284.6,479.58 285.1,479.63 285.6,479.68 286.1,479.74 286.6,479.79 287.1,479.84 287.6,479.9 288.1,479.95 288.6,480 289.1,480.06 289.6,480.11 290.1,480.16 290.6,480.22 291.1,480.27 291.6,480.32 292.1,480.37 292.6,480.43 293.1,480.48 293.6,480.53 294.1,480.58 294.6,480.63 295.1,480.68 295.6,480.73 296.1,480.78 296.6,480.83 297.1,480.89 297.6,480.94 298.1,480.99 298.6,481.05 299.1,481.1 299.6,481.16 300.1,481.21 300.6,481.27 301.1,481.32 301.6,481.38 302.1,481.43 302.6,481.49 303.1,481.55 303.6,481.6 304.1,481.66 304.6,481.72 305.1,481.77 305.6,481.83 306.1,481.89 306.6,481.94 307.1,482 307.6,482.05 308.1,482.11 308.6,482.16 309.1,482.22 309.6,482.27 310.1,482.32 310.6,482.38 311.1,482.43 311.6,482.48 312.1,482.53 312.6,482.58 313.1,482.63 313.6,482.68 314.1,482.73 314.6,482.77 315.1,482.82 315.6,482.86 316.1,482.91 316.6,482.95 317.1,482.99 317.6,483.03 318.1,483.07 318.6,483.11 319.1,483.14 319.6,483.18 320.1,483.21 320.6,483.24 321.1,483.27 321.6,483.3 322.1,483.32 322.6,483.35 323.1,483.37 323.6,483.39 324.1,483.41 324.6,483.42 325.1,483.44 325.6,483.45 326.1,483.46 326.6,483.47 327.1,483.48 327.6,483.49 328.1,483.49 328.6,483.5 329.1,483.5 329.6,483.5 330.1,483.5 330.6,483.5 331.1,483.49 331.6,483.49 332.1,483.48 332.6,483.47 333.1,483.46 333.6,483.44 334.1,483.43 334.6,483.41 335.1,483.39 335.6,483.37 336.1,483.34 336.6,483.31 337.1,483.28 337.6,483.25 338.1,483.21 338.6,483.17 339.1,483.13 339.6,483.09 340.1,483.04 340.6,482.98 341.1,482.93 341.6,482.87 342.1,482.8 342.6,482.73 343.1,482.66 343.6,482.58 344.1,482.5 344.6,482.41 345.1,482.31 345.6,482.21 346.1,482.1 346.6,481.99 347.1,481.87 347.6,481.74 348.1,481.61 348.6,481.47 349.1,481.32 349.6,481.16 350.1,480.99 350.6,480.81 351.1,480.63 351.6,480.43 352.1,480.22 352.6,480.01 353.1,479.78 353.6,479.54 354.1,479.29 354.6,479.03 355.1,478.75 355.6,478.47 356.1,478.16 356.6,477.85 357.1,477.52 357.6,477.18 358.1,476.83 358.6,476.46 359.1,476.07 359.6,475.68 360.1,475.27 360.6,474.84 361.1,474.4 361.6,473.95 362.1,473.49 362.6,473.02 363.1,472.53 363.6,472.04 364.1,471.54 364.6,471.04 365.1,470.53 365.6,470.02 366.1,469.51 366.6,469.01 367.1,468.52 367.6,468.03 368.1,467.57 368.6,467.12 369.1,466.7 369.6,466.31 370.1,465.95 370.6,465.63 371.1,465.36 371.6,465.13 372.1,464.94 372.6,464.81 373.1,464.74 373.6,464.72 374.1,464.75 374.6,464.84 375.1,464.97 375.6,465.16 376.1,465.39 376.6,465.66 377.1,465.97 377.6,466.32 378.1,466.71 378.6,467.12 379.1,467.57 379.6,468.03 380.1,468.52 380.6,469.02 381.1,469.54 381.6,470.06 382.1,470.59 382.6,471.13 383.1,471.66 383.6,472.2 384.1,472.73 384.6,473.26 385.1,473.78 385.6,474.29 386.1,474.8 386.6,475.29 387.1,475.77 387.6,476.25 388.1,476.71 388.6,477.16 389.1,477.6 389.6,478.02 390.1,478.43 390.6,478.83 391.1,479.22 391.6,479.6 392.1,479.96 392.6,480.31 393.1,480.65 393.6,480.98 394.1,481.29 394.6,481.6 395.1,481.89 395.6,482.18 396.1,482.45 396.6,482.72 397.1,482.97 397.6,483.22 398.1,483.45 398.6,483.68 399.1,483.9 399.6,484.11 400.1,484.32 400.6,484.51 401.1,484.7 401.6,484.89 402.1,485.06 402.6,485.23 403.1,485.4 403.6,485.56 404.1,485.71 404.6,485.86 405.1,486 405.6,486.14 406.1,486.27 406.6,486.4 407.1,486.53 407.6,486.65 408.1,486.77 408.6,486.88 409.1,486.99 409.6,487.1" fill="none" stroke="#2fae4a" stroke-width="1.2" stroke-linejoin="round" stroke-linecap="round" />
<polyline points="235.6,476.39 236.1,476.4 236.6,476.42 237.1,476.43 237.6,476.45 238.1,476.46 238.6,476.48 239.1,476.5 239.6,476.51 240.1,476.53 240.6,476.55 241.1,476.57 241.6,476.59 242.1,476.61 242.6,476.63 243.1,476.65 243.6,476.67 244.1,476.69 244.6,476.71 245.1,476.74 245.6,476.76 246.1,476.78 246.6,476.8 247.1,476.83 247.6,476.85 248.1,476.88 248.6,476.9 249.1,476.93 249.6,476.95 250.1,476.98 250.6,477 251.1,477.03 251.6,477.06 252.1,477.09 252.6,477.11 253.1,477.14 253.6,477.17 254.1,477.2 254.6,477.23 255.1,477.26 255.6,477.28 256.1,477.31 256.6,477.34 257.1,477.37 257.6,477.4 258.1,477.43 258.6,477.47 259.1,477.5 259.6,477.53 260.1,477.56 260.6,477.59 261.1,477.62 261.6,477.65 262.1,477.69 262.6,477.72 263.1,477.75 263.6,477.78 264.1,477.82 264.6,477.85 265.1,477.88 265.6,477.92 266.1,477.95 266.6,477.98 267.1,478.02 267.6,478.05 268.1,478.08 268.6,478.12 269.1,478.15 269.6,478.18 270.1,478.22 270.6,478.25 271.1,478.29 271.6,478.32 272.1,478.35 272.6,478.39 273.1,478.42 273.6,478.46 274.1,478.49 274.6,478.53 275.1,478.57 275.6,478.61 276.1,478.65 276.6,478.69 277.1,478.73 277.6,478.77 278.1,478.81 278.6,478.86 279.1,478.9 279.6,478.95 280.1,478.99 280.6,479.04 281.1,479.08 281.6,479.13 282.1,479.18 282.6,479.22 283.1,479.27 283.6,479.32 284.1,479.37 284.6,479.41 285.1,479.46 285.6,479.51 286.1,479.56 286.6,479.61 287.1,479.66 287.6,479.7 288.1,479.75 288.6,479.8 289.1,479.85 289.6,479.89 290.1,479.94 290.6,479.99 291.1,480.03 291.6,480.08 292.1,480.12 292.6,480.17 293.1,480.21 293.6,480.25 294.1,480.29 294.6,480.33 295.1,480.37 295.6,480.41 296.1,480.45 296.6,480.48 297.1,480.52 297.6,480.56 298.1,480.6 298.6,480.64 299.1,480.67 299.6,480.71 300.1,480.74 300.6,480.78 301.1,480.81 301.6,480.84 302.1,480.87 302.6,480.9 303.1,480.93 303.6,480.95 304.1,480.98 304.6,481 305.1,481.02 305.6,481.03 306.1,481.05 306.6,481.06 307.1,481.07 307.6,481.07 308.1,481.08 308.6,481.08 309.1,481.07 309.6,481.06 310.1,481.05 310.6,481.04 311.1,481.01 311.6,480.99 312.1,480.96 312.6,480.92 313.1,480.88 313.6,480.84 314.1,480.78 314.6,480.73 315.1,480.66 315.6,480.59 316.1,480.52 316.6,480.43 317.1,480.34 317.6,480.25 318.1,480.14 318.6,480.03 319.1,479.91 319.6,479.79 320.1,479.65 320.6,479.51 321.1,479.36 321.6,479.2 322.1,479.03 322.6,478.85 323.1,478.67 323.6,478.47 324.1,478.27 324.6,478.06 325.1,477.84 325.6,477.61 326.1,477.37 326.6,477.13 327.1,476.88 327.6,476.62 328.1,476.35 328.6,476.08 329.1,475.8 329.6,475.51 330.1,475.21 330.6,474.91 331.1,474.61 331.6,474.3 332.1,473.98 332.6,473.66 333.1,473.33 333.6,473 334.1,472.66 334.6,472.32 335.1,471.98 335.6,471.64 336.1,471.3 336.6,470.95 337.1,470.61 337.6,470.27 338.1,469.92 338.6,469.58 339.1,469.25 339.6,468.91 340.1,468.58 340.6,468.26 341.1,467.94 341.6,467.63 342.1,467.33 342.6,467.04 343.1,466.76 343.6,466.49 344.1,466.23 344.6,465.99 345.1,465.76 345.6,465.55 346.1,465.35 346.6,465.17 347.1,465.01 347.6,464.87 348.1,464.74 348.6,464.64 349.1,464.56 349.6,464.5 350.1,464.46 350.6,464.45 351.1,464.46 351.6,464.49 352.1,464.54 352.6,464.62 353.1,464.72 353.6,464.84 354.1,464.98 354.6,465.14 355.1,465.33 355.6,465.53 356.1,465.75 356.6,465.99 357.1,466.25 357.6,466.53 358.1,466.82 358.6,467.12 359.1,467.44 359.6,467.77 360.1,468.12 360.6,468.47 361.1,468.83 361.6,469.2 362.1,469.58 362.6,469.97 363.1,470.36 363.6,470.76 364.1,471.16 364.6,471.56 365.1,471.97 365.6,472.37 366.1,472.78 366.6,473.19 367.1,473.6 367.6,474.01 368.1,474.41 368.6,474.82 369.1,475.22 369.6,475.61 370.1,476.01 370.6,476.4 371.1,476.78 371.6,477.16 372.1,477.53 372.6,477.9 373.1,478.26 373.6,478.62 374.1,478.97 374.6,479.31 375.1,479.65 375.6,479.98 376.1,480.3 376.6,480.61 377.1,480.92 377.6,481.22 378.1,481.51 378.6,481.8 379.1,482.08 379.6,482.35 380.1,482.61 380.6,482.87 381.1,483.11 381.6,483.35 382.1,483.59 382.6,483.81 383.1,484.03 383.6,484.24 384.1,484.45 384.6,484.65 385.1,484.84 385.6,485.02 386.1,485.2 386.6,485.37 387.1,485.54 387.6,485.7 388.1,485.86 388.6,486.01 389.1,486.15 389.6,486.29 390.1,486.43 390.6,486.55 391.1,486.68 391.6,486.8 392.1,486.92 392.6,487.03 393.1,487.14 393.6,487.24 394.1,487.34 394.6,487.44 395.1,487.53 395.6,487.62 396.1,487.71 396.6,487.79 397.1,487.87 397.6,487.95 398.1,488.03 398.6,488.1 399.1,488.18 399.6,488.25 400.1,488.31 400.6,488.38 401.1,488.44 401.6,488.51 402.1,488.57 402.6,488.62 403.1,488.68 403.6,488.74 404.1,488.79 404.6,488.85 405.1,488.9 405.6,488.95 406.1,489 406.6,489.05 407.1,489.1 407.6,489.14 408.1,489.19 408.6,489.24 409.1,489.28 409.6,489.32" fill="none" stroke="#b36bf2" stroke-width="1.2" stroke-linejoin="round" stroke-linecap="round" />
<polyline points="235.6,467.42 236.1,467.23 236.6,467.04 237.1,466.83 237.6,466.63 238.1,466.41 238.6,466.19 239.1,465.96 239.6,465.72 240.1,465.47 240.6,465.21 241.1,464.95 241.6,464.67 242.1,464.39 242.6,464.09 243.1,463.78 243.6,463.47 244.1,463.14 244.6,462.8 245.1,462.45 245.6,462.09 246.1,461.72 246.6,461.33 247.1,460.93 247.6,460.51 248.1,460.09 248.6,459.65 249.1,459.19 249.6,458.72 250.1,458.24 250.6,457.74 251.1,457.22 251.6,456.69 252.1,456.15 252.6,455.59 253.1,455.01 253.6,454.41 254.1,453.8 254.6,453.17 255.1,452.53 255.6,451.87 256.1,451.19 256.6,450.49 257.1,449.77 257.6,449.04 258.1,448.29 258.6,447.52 259.1,446.74 259.6,445.93 260.1,445.11 260.6,444.27 261.1,443.42 261.6,442.54 262.1,441.65 262.6,440.75 263.1,439.82 263.6,438.88 264.1,437.93 264.6,436.95 265.1,435.97 265.6,434.96 266.1,433.95 266.6,432.92 267.1,431.88 267.6,430.82 268.1,429.75 268.6,428.68 269.1,427.59 269.6,426.49 270.1,425.39 270.6,424.27 271.1,423.16 271.6,422.03 272.1,420.91 272.6,419.78 273.1,418.65 273.6,417.52 274.1,416.4 274.6,415.28 275.1,414.17 275.6,413.06 276.1,411.97 276.6,410.89 277.1,409.83 277.6,408.78 278.1,407.75 278.6,406.74 279.1,405.76 279.6,404.81 280.1,403.88 280.6,402.98 281.1,402.12 281.6,401.29 282.1,400.51 282.6,399.76 283.1,399.06 283.6,398.4 284.1,397.8 284.6,397.24 285.1,396.74 285.6,396.29 286.1,395.9 286.6,395.57 287.1,395.29 287.6,395.08 288.1,394.93 288.6,394.85 289.1,394.82 289.6,394.86 290.1,394.97 290.6,395.15 291.1,395.39 291.6,395.69 292.1,396.07 292.6,396.5 293.1,397 293.6,397.56 294.1,398.18 294.6,398.86 295.1,399.58 295.6,400.36 296.1,401.2 296.6,402.07 297.1,403 297.6,403.96 298.1,404.96 298.6,406 299.1,407.08 299.6,408.18 300.1,409.31 300.6,410.47 301.1,411.65 301.6,412.85 302.1,414.06 302.6,415.29 303.1,416.54 303.6,417.79 304.1,419.05 304.6,420.32 305.1,421.59 305.6,422.86 306.1,424.13 306.6,425.4 307.1,426.67 307.6,427.94 308.1,429.19 308.6,430.44 309.1,431.69 309.6,432.92 310.1,434.14 310.6,435.35 311.1,436.55 311.6,437.73 312.1,438.9 312.6,440.06 313.1,441.2 313.6,442.32 314.1,443.43 314.6,444.52 315.1,445.59 315.6,446.64 316.1,447.67 316.6,448.69 317.1,449.69 317.6,450.66 318.1,451.62 318.6,452.56 319.1,453.47 319.6,454.37 320.1,455.25 320.6,456.11 321.1,456.94 321.6,457.76 322.1,458.56 322.6,459.33 323.1,460.09 323.6,460.83 324.1,461.55 324.6,462.24 325.1,462.92 325.6,463.58 326.1,464.23 326.6,464.85 327.1,465.46 327.6,466.05 328.1,466.62 328.6,467.18 329.1,467.72 329.6,468.24 330.1,468.75 330.6,469.24 331.1,469.72 331.6,470.19 332.1,470.64 332.6,471.07 333.1,471.49 333.6,471.9 334.1,472.3 334.6,472.68 335.1,473.05 335.6,473.41 336.1,473.76 336.6,474.1 337.1,474.43 337.6,474.74 338.1,475.05 338.6,475.34 339.1,475.63 339.6,475.91 340.1,476.18 340.6,476.44 341.1,476.69 341.6,476.93 342.1,477.17 342.6,477.4 343.1,477.62 343.6,477.84 344.1,478.05 344.6,478.25 345.1,478.45 345.6,478.64 346.1,478.82 346.6,479 347.1,479.18 347.6,479.35 348.1,479.51 348.6,479.67 349.1,479.83 349.6,479.98 350.1,480.13 350.6,480.28 351.1,480.42 351.6,480.55 352.1,480.69 352.6,480.82 353.1,480.95 353.6,481.07 354.1,481.19 354.6,481.31 355.1,481.43 355.6,481.54 356.1,481.66 356.6,481.77 357.1,481.87 357.6,481.98 358.1,482.08 358.6,482.19 359.1,482.29 359.6,482.38 360.1,482.48 360.6,482.58 361.1,482.67 361.6,482.76 362.1,482.85 362.6,482.94 363.1,483.03 363.6,483.12 364.1,483.21 364.6,483.29 365.1,483.38 365.6,483.46 366.1,483.54 366.6,483.63 367.1,483.71 367.6,483.78 368.1,483.86 368.6,483.94 369.1,484.02 369.6,484.09 370.1,484.17 370.6,484.24 371.1,484.31 371.6,484.39 372.1,484.46 372.6,484.53 373.1,484.6 373.6,484.67 374.1,484.73 374.6,484.8 375.1,484.87 375.6,484.94 376.1,485 376.6,485.07 377.1,485.13 377.6,485.2 378.1,485.26 378.6,485.32 379.1,485.38 379.6,485.45 380.1,485.51 380.6,485.57 381.1,485.63 381.6,485.69 382.1,485.75 382.6,485.8 383.1,485.86 383.6,485.92 384.1,485.98 384.6,486.03 385.1,486.09 385.6,486.15 386.1,486.2 386.6,486.26 387.1,486.31 387.6,486.37 388.1,486.42 388.6,486.47 389.1,486.53 389.6,486.58 390.1,486.63 390.6,486.68 391.1,486.74 391.6,486.79 392.1,486.84 392.6,486.89 393.1,486.94 393.6,486.99 394.1,487.04 394.6,487.09 395.1,487.14 395.6,487.19 396.1,487.23 396.6,487.28 397.1,487.33 397.6,487.38 398.1,487.42 398.6,487.47 399.1,487.52 399.6,487.56 400.1,487.61 400.6,487.66 401.1,487.7 401.6,487.75 402.1,487.79 402.6,487.84 403.1,487.88 403.6,487.92 404.1,487.97 404.6,488.01 405.1,488.06 405.6,488.1 406.1,488.14 406.6,488.19 407.1,488.23 407.6,488.27 408.1,488.31 408.6,488.35 409.1,488.4 409.6,488.44" fill="none" stroke="#dfa020" stroke-width="1.2" stroke-linejoin="round" stroke-linecap="round" />
<polyline points="235.6,466.98 236.1,466.79 236.6,466.59 237.1,466.39 237.6,466.17 238.1,465.95 238.6,465.73 239.1,465.49 239.6,465.25 240.1,465 240.6,464.74 241.1,464.47 241.6,464.19 242.1,463.9 242.6,463.6 243.1,463.29 243.6,462.97 244.1,462.64 244.6,462.3 245.1,461.94 245.6,461.57 246.1,461.2 246.6,460.8 247.1,460.4 247.6,459.98 248.1,459.55 248.6,459.1 249.1,458.64 249.6,458.17 250.1,457.68 250.6,457.18 251.1,456.66 251.6,456.12 252.1,455.57 252.6,455 253.1,454.42 253.6,453.82 254.1,453.2 254.6,452.57 255.1,451.92 255.6,451.25 256.1,450.57 256.6,449.86 257.1,449.14 257.6,448.4 258.1,447.65 258.6,446.87 259.1,446.08 259.6,445.27 260.1,444.44 260.6,443.6 261.1,442.73 261.6,441.85 262.1,440.96 262.6,440.04 263.1,439.11 263.6,438.16 264.1,437.2 264.6,436.22 265.1,435.23 265.6,434.22 266.1,433.19 266.6,432.16 267.1,431.11 267.6,430.04 268.1,428.97 268.6,427.88 269.1,426.79 269.6,425.68 270.1,424.57 270.6,423.44 271.1,422.32 271.6,421.19 272.1,420.05 272.6,418.91 273.1,417.77 273.6,416.64 274.1,415.5 274.6,414.37 275.1,413.25 275.6,412.14 276.1,411.04 276.6,409.95 277.1,408.87 277.6,407.81 278.1,406.77 278.6,405.75 279.1,404.76 279.6,403.79 280.1,402.85 280.6,401.94 281.1,401.06 281.6,400.23 282.1,399.43 282.6,398.67 283.1,397.95 283.6,397.28 284.1,396.66 284.6,396.09 285.1,395.57 285.6,395.11 286.1,394.7 286.6,394.35 287.1,394.06 287.6,393.83 288.1,393.67 288.6,393.56 289.1,393.52 289.6,393.54 290.1,393.63 290.6,393.78 291.1,394.01 291.6,394.29 292.1,394.64 292.6,395.06 293.1,395.53 293.6,396.07 294.1,396.66 294.6,397.31 295.1,398.01 295.6,398.76 296.1,399.57 296.6,400.41 297.1,401.31 297.6,402.24 298.1,403.21 298.6,404.22 299.1,405.25 299.6,406.32 300.1,407.41 300.6,408.53 301.1,409.66 301.6,410.82 302.1,411.99 302.6,413.17 303.1,414.36 303.6,415.56 304.1,416.77 304.6,417.98 305.1,419.19 305.6,420.4 306.1,421.61 306.6,422.81 307.1,424.01 307.6,425.2 308.1,426.38 308.6,427.54 309.1,428.7 309.6,429.84 310.1,430.97 310.6,432.09 311.1,433.18 311.6,434.26 312.1,435.32 312.6,436.35 313.1,437.37 313.6,438.37 314.1,439.34 314.6,440.29 315.1,441.22 315.6,442.12 316.1,443 316.6,443.85 317.1,444.68 317.6,445.48 318.1,446.25 318.6,447 319.1,447.72 319.6,448.41 320.1,449.07 320.6,449.71 321.1,450.32 321.6,450.9 322.1,451.45 322.6,451.98 323.1,452.47 323.6,452.94 324.1,453.38 324.6,453.8 325.1,454.18 325.6,454.54 326.1,454.87 326.6,455.18 327.1,455.46 327.6,455.72 328.1,455.95 328.6,456.15 329.1,456.34 329.6,456.5 330.1,456.63 330.6,456.74 331.1,456.84 331.6,456.91 332.1,456.96 332.6,456.99 333.1,457 333.6,456.99 334.1,456.96 334.6,456.92 335.1,456.86 335.6,456.78 336.1,456.69 336.6,456.59 337.1,456.48 337.6,456.35 338.1,456.21 338.6,456.06 339.1,455.9 339.6,455.73 340.1,455.56 340.6,455.38 341.1,455.2 341.6,455.01 342.1,454.81 342.6,454.62 343.1,454.43 343.6,454.23 344.1,454.04 344.6,453.85 345.1,453.66 345.6,453.47 346.1,453.3 346.6,453.12 347.1,452.96 347.6,452.8 348.1,452.65 348.6,452.5 349.1,452.37 349.6,452.24 350.1,452.13 350.6,452.03 351.1,451.93 351.6,451.84 352.1,451.77 352.6,451.7 353.1,451.64 353.6,451.59 354.1,451.55 354.6,451.51 355.1,451.48 355.6,451.45 356.1,451.43 356.6,451.41 357.1,451.39 357.6,451.37 358.1,451.35 358.6,451.33 359.1,451.31 359.6,451.28 360.1,451.25 360.6,451.22 361.1,451.18 361.6,451.13 362.1,451.08 362.6,451.02 363.1,450.96 363.6,450.89 364.1,450.81 364.6,450.74 365.1,450.66 365.6,450.58 366.1,450.5 366.6,450.43 367.1,450.36 367.6,450.31 368.1,450.26 368.6,450.24 369.1,450.23 369.6,450.25 370.1,450.3 370.6,450.39 371.1,450.5 371.6,450.66 372.1,450.87 372.6,451.11 373.1,451.41 373.6,451.76 374.1,452.15 374.6,452.59 375.1,453.06 375.6,453.58 376.1,454.14 376.6,454.73 377.1,455.36 377.6,456.01 378.1,456.69 378.6,457.4 379.1,458.12 379.6,458.86 380.1,459.61 380.6,460.37 381.1,461.13 381.6,461.9 382.1,462.66 382.6,463.42 383.1,464.18 383.6,464.92 384.1,465.66 384.6,466.38 385.1,467.09 385.6,467.79 386.1,468.47 386.6,469.13 387.1,469.78 387.6,470.41 388.1,471.02 388.6,471.62 389.1,472.19 389.6,472.75 390.1,473.29 390.6,473.82 391.1,474.32 391.6,474.81 392.1,475.29 392.6,475.74 393.1,476.18 393.6,476.61 394.1,477.02 394.6,477.41 395.1,477.79 395.6,478.16 396.1,478.51 396.6,478.85 397.1,479.18 397.6,479.49 398.1,479.8 398.6,480.09 399.1,480.37 399.6,480.64 400.1,480.9 400.6,481.16 401.1,481.4 401.6,481.63 402.1,481.86 402.6,482.08 403.1,482.29 403.6,482.49 404.1,482.69 404.6,482.88 405.1,483.06 405.6,483.24 406.1,483.41 406.6,483.58 407.1,483.74 407.6,483.89 408.1,484.04 408.6,484.19 409.1,484.33 409.6,484.47" fill="none" stroke="#f0303a" stroke-width="1.1" stroke-linejoin="round" stroke-linecap="round" />
<rect x="235.6" y="375.7" width="174.1" height="140.1" fill="none" stroke="#727272" stroke-width="1.2"/>
<line x1="253.5" y1="515.8" x2="253.5" y2="518.2" stroke="#727272" stroke-width="0.9"/>
<text x="253.5" y="527.5" font-family="&quot;Liberation Sans&quot;, sans-serif" font-size="9.2" fill="#333" stroke="#333" stroke-width="0.22" text-anchor="middle" >62</text>
<line x1="271.8" y1="515.8" x2="271.8" y2="517.1" stroke="#727272" stroke-width="0.9"/>
<line x1="290.1" y1="515.8" x2="290.1" y2="518.2" stroke="#727272" stroke-width="0.9"/>
<text x="290.1" y="527.5" font-family="&quot;Liberation Sans&quot;, sans-serif" font-size="9.2" fill="#333" stroke="#333" stroke-width="0.22" text-anchor="middle" >60</text>
<line x1="308.4" y1="515.8" x2="308.4" y2="517.1" stroke="#727272" stroke-width="0.9"/>
<line x1="326.7" y1="515.8" x2="326.7" y2="518.2" stroke="#727272" stroke-width="0.9"/>
<text x="326.7" y="527.5" font-family="&quot;Liberation Sans&quot;, sans-serif" font-size="9.2" fill="#333" stroke="#333" stroke-width="0.22" text-anchor="middle" >58</text>
<line x1="345" y1="515.8" x2="345" y2="517.1" stroke="#727272" stroke-width="0.9"/>
<line x1="363.3" y1="515.8" x2="363.3" y2="518.2" stroke="#727272" stroke-width="0.9"/>
<text x="363.3" y="527.5" font-family="&quot;Liberation Sans&quot;, sans-serif" font-size="9.2" fill="#333" stroke="#333" stroke-width="0.22" text-anchor="middle" >56</text>
<line x1="381.6" y1="515.8" x2="381.6" y2="517.1" stroke="#727272" stroke-width="0.9"/>
<line x1="399.9" y1="515.8" x2="399.9" y2="518.2" stroke="#727272" stroke-width="0.9"/>
<text x="399.9" y="527.5" font-family="&quot;Liberation Sans&quot;, sans-serif" font-size="9.2" fill="#333" stroke="#333" stroke-width="0.22" text-anchor="middle" >54</text>
<text x="322.4" y="541.3" font-family="&quot;Liberation Sans&quot;, sans-serif" font-size="9.4" fill="#333" stroke="#333" stroke-width="0.22" text-anchor="middle" >Binding energy (eV)</text>
<text x="229.8" y="445.3" font-family="&quot;Liberation Sans&quot;, sans-serif" font-size="9.4" fill="#333" stroke="#333" stroke-width="0.22" text-anchor="middle" transform="rotate(-90 229.8 445.3)">Intensity (a.u.)</text>
<text x="215.8" y="380.8" font-family="&quot;Liberation Serif&quot;, serif" font-size="21" fill="#111" stroke="#111" stroke-width="0.25" text-anchor="start" >e</text>
<text x="239.5" y="385.6" font-family="&quot;Liberation Sans&quot;, sans-serif" font-size="7.8" fill="#333" stroke="#333" stroke-width="0.22" text-anchor="start" >Se 3d</text>
<text x="290" y="389.2" font-family="&quot;Liberation Sans&quot;, sans-serif" font-size="7.8" fill="#333" stroke="#333" stroke-width="0.22" text-anchor="start" >SeO<tspan font-size="5" dy="1.8">x</tspan></text>
<text x="339.4" y="447.5" font-family="&quot;Liberation Sans&quot;, sans-serif" font-size="7.4" fill="#333" stroke="#333" stroke-width="0.22" text-anchor="start" >3d<tspan font-size="4.6" dy="2.3">3/2</tspan></text>
<text x="379.7" y="446.4" font-family="&quot;Liberation Sans&quot;, sans-serif" font-size="7.4" fill="#333" stroke="#333" stroke-width="0.22" text-anchor="start" >3d<tspan font-size="4.6" dy="2.3">5/2</tspan></text>
</svg>
</body></html>
